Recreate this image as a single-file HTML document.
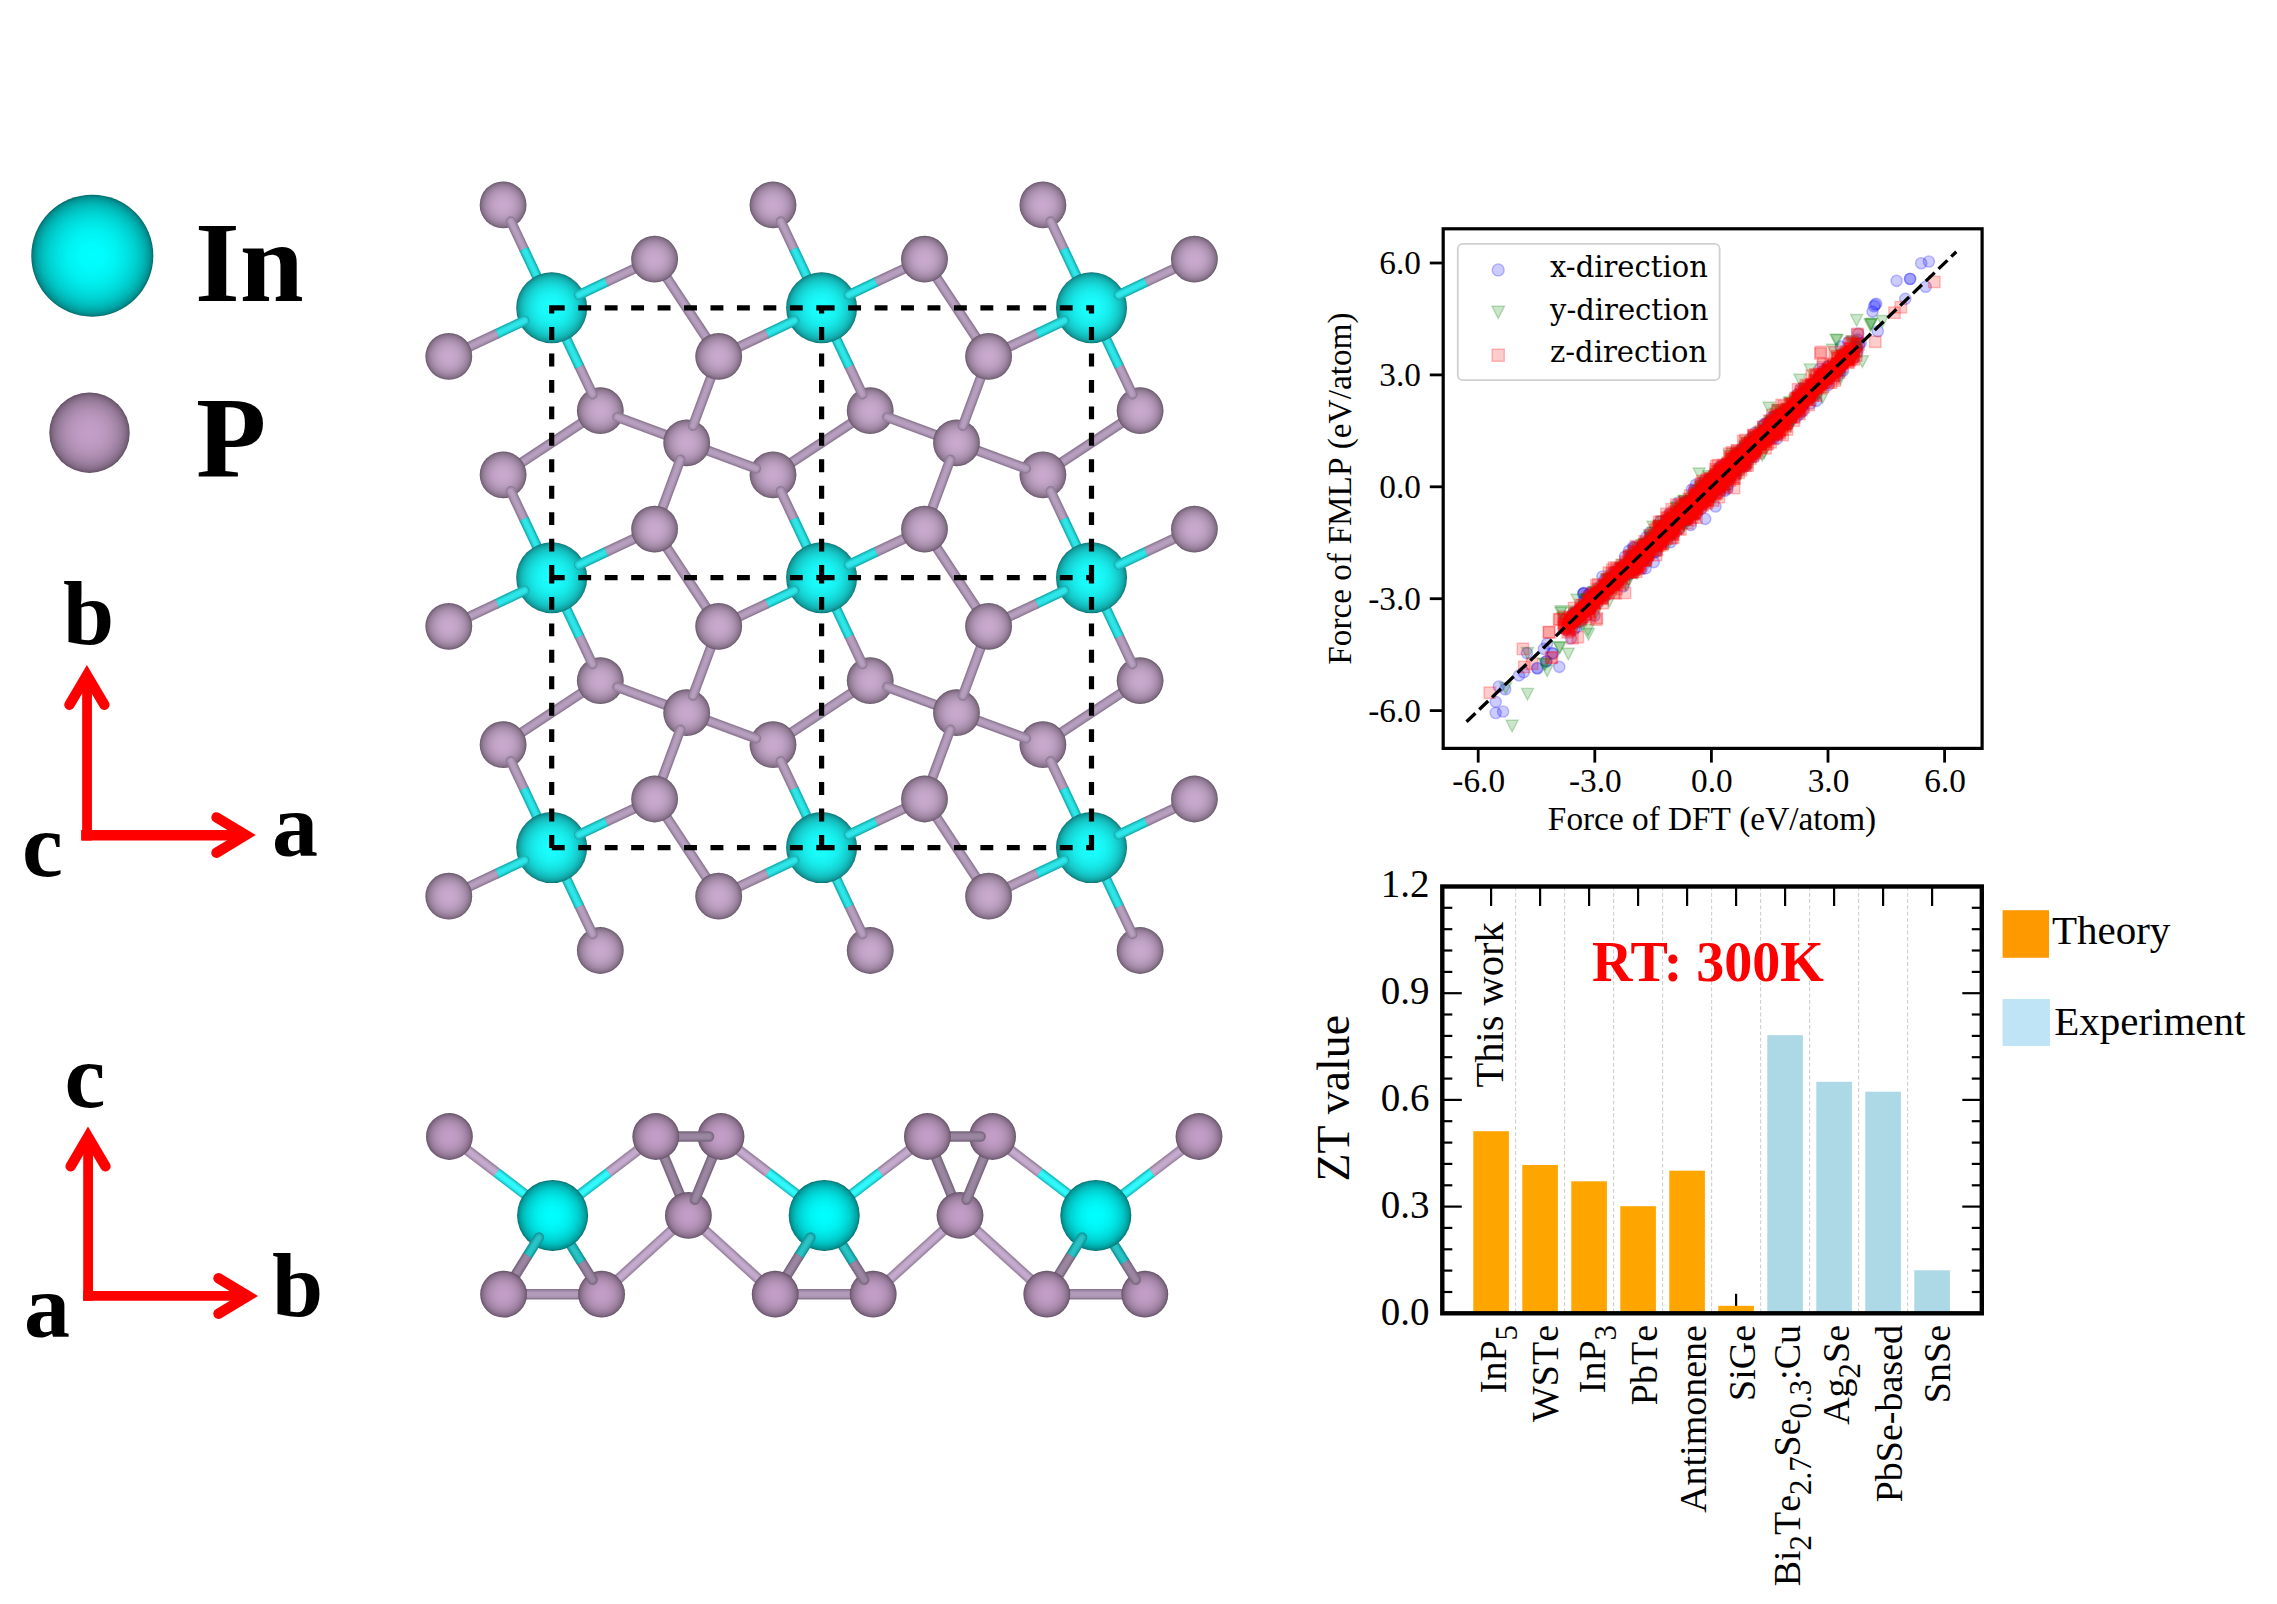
<!DOCTYPE html>
<html lang="en"><head><meta charset="utf-8"><title>InP5 monolayer: structure, force-field validation and ZT comparison</title>
<style>
html,body{margin:0;padding:0;background:#fff;}
body{width:2277px;height:1604px;overflow:hidden;}
svg{display:block;}
.bd{font-family:"Liberation Serif",serif;font-weight:bold;}
.rg{font-family:"Liberation Serif",serif;font-weight:normal;font-kerning:none;}
.dj{font-family:"DejaVu Serif","Liberation Serif",serif;font-weight:normal;}
</style></head><body>
<svg width="2277" height="1604" viewBox="0 0 2277 1604">
<rect width="2277" height="1604" fill="#fff"/>
<defs>
<radialGradient id="gI"><stop offset="0%" stop-color="#00ffff"/><stop offset="20%" stop-color="#00fcfc"/><stop offset="40%" stop-color="#00f2f2"/><stop offset="55%" stop-color="#00e5e5"/><stop offset="70%" stop-color="#00d2d2"/><stop offset="80%" stop-color="#00c0c0"/><stop offset="88%" stop-color="#00acac"/><stop offset="94%" stop-color="#009797"/><stop offset="98%" stop-color="#008080"/><stop offset="100%" stop-color="#006161"/></radialGradient>
<radialGradient id="gP"><stop offset="0%" stop-color="#c39fc7"/><stop offset="20%" stop-color="#c19dc5"/><stop offset="40%" stop-color="#ba97be"/><stop offset="55%" stop-color="#b190b4"/><stop offset="70%" stop-color="#a385a7"/><stop offset="80%" stop-color="#977b9a"/><stop offset="88%" stop-color="#896f8b"/><stop offset="94%" stop-color="#7a637c"/><stop offset="98%" stop-color="#6a566c"/><stop offset="100%" stop-color="#544456"/></radialGradient>
<radialGradient id="gP2"><stop offset="0%" stop-color="#c9aace"/><stop offset="20%" stop-color="#c7a8cc"/><stop offset="40%" stop-color="#bfa2c4"/><stop offset="55%" stop-color="#b69abb"/><stop offset="70%" stop-color="#a88eac"/><stop offset="80%" stop-color="#9b839f"/><stop offset="88%" stop-color="#8d7790"/><stop offset="94%" stop-color="#7e6a81"/><stop offset="98%" stop-color="#6d5c70"/><stop offset="100%" stop-color="#564959"/></radialGradient>
<radialGradient id="gI2"><stop offset="0%" stop-color="#1affff"/><stop offset="20%" stop-color="#1afcfc"/><stop offset="40%" stop-color="#19f2f2"/><stop offset="55%" stop-color="#17e6e6"/><stop offset="70%" stop-color="#16d3d3"/><stop offset="80%" stop-color="#14c2c2"/><stop offset="88%" stop-color="#12afaf"/><stop offset="94%" stop-color="#109a9a"/><stop offset="98%" stop-color="#0e8484"/><stop offset="100%" stop-color="#0a6666"/></radialGradient>
</defs>
<g id="topview">
<line x1="600.3" y1="410.7" x2="503.1" y2="474.8" stroke="#8f7b96" stroke-width="10.1" stroke-linecap="butt"/><line x1="600.3" y1="410.7" x2="503.1" y2="474.8" stroke="#a891af" stroke-width="7.3" stroke-linecap="butt"/><line x1="600.3" y1="410.7" x2="503.1" y2="474.8" stroke="#b69ebe" stroke-width="4.2" stroke-linecap="butt"/>
<line x1="600.3" y1="680.6" x2="503.1" y2="744.7" stroke="#8f7b96" stroke-width="10.1" stroke-linecap="butt"/><line x1="600.3" y1="680.6" x2="503.1" y2="744.7" stroke="#a891af" stroke-width="7.3" stroke-linecap="butt"/><line x1="600.3" y1="680.6" x2="503.1" y2="744.7" stroke="#b69ebe" stroke-width="4.2" stroke-linecap="butt"/>
<line x1="870.2" y1="410.7" x2="773" y2="474.8" stroke="#8f7b96" stroke-width="10.1" stroke-linecap="butt"/><line x1="870.2" y1="410.7" x2="773" y2="474.8" stroke="#a891af" stroke-width="7.3" stroke-linecap="butt"/><line x1="870.2" y1="410.7" x2="773" y2="474.8" stroke="#b69ebe" stroke-width="4.2" stroke-linecap="butt"/>
<line x1="870.2" y1="680.6" x2="773" y2="744.7" stroke="#8f7b96" stroke-width="10.1" stroke-linecap="butt"/><line x1="870.2" y1="680.6" x2="773" y2="744.7" stroke="#a891af" stroke-width="7.3" stroke-linecap="butt"/><line x1="870.2" y1="680.6" x2="773" y2="744.7" stroke="#b69ebe" stroke-width="4.2" stroke-linecap="butt"/>
<line x1="1140.1" y1="410.7" x2="1042.9" y2="474.8" stroke="#8f7b96" stroke-width="10.1" stroke-linecap="butt"/><line x1="1140.1" y1="410.7" x2="1042.9" y2="474.8" stroke="#a891af" stroke-width="7.3" stroke-linecap="butt"/><line x1="1140.1" y1="410.7" x2="1042.9" y2="474.8" stroke="#b69ebe" stroke-width="4.2" stroke-linecap="butt"/>
<line x1="1140.1" y1="680.6" x2="1042.9" y2="744.7" stroke="#8f7b96" stroke-width="10.1" stroke-linecap="butt"/><line x1="1140.1" y1="680.6" x2="1042.9" y2="744.7" stroke="#a891af" stroke-width="7.3" stroke-linecap="butt"/><line x1="1140.1" y1="680.6" x2="1042.9" y2="744.7" stroke="#b69ebe" stroke-width="4.2" stroke-linecap="butt"/>
<circle cx="503.1" cy="204.9" r="23.4" fill="url(#gP2)"/>
<circle cx="600.3" cy="410.7" r="23.4" fill="url(#gP2)"/>
<circle cx="503.1" cy="474.8" r="23.4" fill="url(#gP2)"/>
<circle cx="600.3" cy="680.6" r="23.4" fill="url(#gP2)"/>
<circle cx="503.1" cy="744.7" r="23.4" fill="url(#gP2)"/>
<circle cx="600.3" cy="950.5" r="23.4" fill="url(#gP2)"/>
<circle cx="773" cy="204.9" r="23.4" fill="url(#gP2)"/>
<circle cx="870.2" cy="410.7" r="23.4" fill="url(#gP2)"/>
<circle cx="773" cy="474.8" r="23.4" fill="url(#gP2)"/>
<circle cx="870.2" cy="680.6" r="23.4" fill="url(#gP2)"/>
<circle cx="773" cy="744.7" r="23.4" fill="url(#gP2)"/>
<circle cx="870.2" cy="950.5" r="23.4" fill="url(#gP2)"/>
<circle cx="1042.9" cy="204.9" r="23.4" fill="url(#gP2)"/>
<circle cx="1140.1" cy="410.7" r="23.4" fill="url(#gP2)"/>
<circle cx="1042.9" cy="474.8" r="23.4" fill="url(#gP2)"/>
<circle cx="1140.1" cy="680.6" r="23.4" fill="url(#gP2)"/>
<circle cx="1042.9" cy="744.7" r="23.4" fill="url(#gP2)"/>
<circle cx="1140.1" cy="950.5" r="23.4" fill="url(#gP2)"/>
<line x1="510.8" y1="221.2" x2="524" y2="249.1" stroke="#8f7b96" stroke-width="10.1" stroke-linecap="round"/><line x1="510.8" y1="221.2" x2="524" y2="249.1" stroke="#a891af" stroke-width="7.3" stroke-linecap="round"/><line x1="510.8" y1="221.2" x2="524" y2="249.1" stroke="#b69ebe" stroke-width="4.2" stroke-linecap="round"/><line x1="524" y1="249.1" x2="551.7" y2="307.8" stroke="#19b0b3" stroke-width="10.1" stroke-linecap="butt"/><line x1="524" y1="249.1" x2="551.7" y2="307.8" stroke="#23d3d6" stroke-width="7.3" stroke-linecap="butt"/><line x1="524" y1="249.1" x2="551.7" y2="307.8" stroke="#2ee6e8" stroke-width="4.2" stroke-linecap="butt"/>
<line x1="592.6" y1="394.4" x2="579.4" y2="366.5" stroke="#8f7b96" stroke-width="10.1" stroke-linecap="round"/><line x1="592.6" y1="394.4" x2="579.4" y2="366.5" stroke="#a891af" stroke-width="7.3" stroke-linecap="round"/><line x1="592.6" y1="394.4" x2="579.4" y2="366.5" stroke="#b69ebe" stroke-width="4.2" stroke-linecap="round"/><line x1="579.4" y1="366.5" x2="551.7" y2="307.8" stroke="#19b0b3" stroke-width="10.1" stroke-linecap="butt"/><line x1="579.4" y1="366.5" x2="551.7" y2="307.8" stroke="#23d3d6" stroke-width="7.3" stroke-linecap="butt"/><line x1="579.4" y1="366.5" x2="551.7" y2="307.8" stroke="#2ee6e8" stroke-width="4.2" stroke-linecap="butt"/>
<line x1="510.8" y1="491.1" x2="524" y2="519" stroke="#8f7b96" stroke-width="10.1" stroke-linecap="round"/><line x1="510.8" y1="491.1" x2="524" y2="519" stroke="#a891af" stroke-width="7.3" stroke-linecap="round"/><line x1="510.8" y1="491.1" x2="524" y2="519" stroke="#b69ebe" stroke-width="4.2" stroke-linecap="round"/><line x1="524" y1="519" x2="551.7" y2="577.7" stroke="#19b0b3" stroke-width="10.1" stroke-linecap="butt"/><line x1="524" y1="519" x2="551.7" y2="577.7" stroke="#23d3d6" stroke-width="7.3" stroke-linecap="butt"/><line x1="524" y1="519" x2="551.7" y2="577.7" stroke="#2ee6e8" stroke-width="4.2" stroke-linecap="butt"/>
<line x1="592.6" y1="664.3" x2="579.4" y2="636.4" stroke="#8f7b96" stroke-width="10.1" stroke-linecap="round"/><line x1="592.6" y1="664.3" x2="579.4" y2="636.4" stroke="#a891af" stroke-width="7.3" stroke-linecap="round"/><line x1="592.6" y1="664.3" x2="579.4" y2="636.4" stroke="#b69ebe" stroke-width="4.2" stroke-linecap="round"/><line x1="579.4" y1="636.4" x2="551.7" y2="577.7" stroke="#19b0b3" stroke-width="10.1" stroke-linecap="butt"/><line x1="579.4" y1="636.4" x2="551.7" y2="577.7" stroke="#23d3d6" stroke-width="7.3" stroke-linecap="butt"/><line x1="579.4" y1="636.4" x2="551.7" y2="577.7" stroke="#2ee6e8" stroke-width="4.2" stroke-linecap="butt"/>
<line x1="510.8" y1="761" x2="524" y2="788.9" stroke="#8f7b96" stroke-width="10.1" stroke-linecap="round"/><line x1="510.8" y1="761" x2="524" y2="788.9" stroke="#a891af" stroke-width="7.3" stroke-linecap="round"/><line x1="510.8" y1="761" x2="524" y2="788.9" stroke="#b69ebe" stroke-width="4.2" stroke-linecap="round"/><line x1="524" y1="788.9" x2="551.7" y2="847.6" stroke="#19b0b3" stroke-width="10.1" stroke-linecap="butt"/><line x1="524" y1="788.9" x2="551.7" y2="847.6" stroke="#23d3d6" stroke-width="7.3" stroke-linecap="butt"/><line x1="524" y1="788.9" x2="551.7" y2="847.6" stroke="#2ee6e8" stroke-width="4.2" stroke-linecap="butt"/>
<line x1="592.6" y1="934.2" x2="579.4" y2="906.3" stroke="#8f7b96" stroke-width="10.1" stroke-linecap="round"/><line x1="592.6" y1="934.2" x2="579.4" y2="906.3" stroke="#a891af" stroke-width="7.3" stroke-linecap="round"/><line x1="592.6" y1="934.2" x2="579.4" y2="906.3" stroke="#b69ebe" stroke-width="4.2" stroke-linecap="round"/><line x1="579.4" y1="906.3" x2="551.7" y2="847.6" stroke="#19b0b3" stroke-width="10.1" stroke-linecap="butt"/><line x1="579.4" y1="906.3" x2="551.7" y2="847.6" stroke="#23d3d6" stroke-width="7.3" stroke-linecap="butt"/><line x1="579.4" y1="906.3" x2="551.7" y2="847.6" stroke="#2ee6e8" stroke-width="4.2" stroke-linecap="butt"/>
<line x1="780.7" y1="221.2" x2="793.9" y2="249.1" stroke="#8f7b96" stroke-width="10.1" stroke-linecap="round"/><line x1="780.7" y1="221.2" x2="793.9" y2="249.1" stroke="#a891af" stroke-width="7.3" stroke-linecap="round"/><line x1="780.7" y1="221.2" x2="793.9" y2="249.1" stroke="#b69ebe" stroke-width="4.2" stroke-linecap="round"/><line x1="793.9" y1="249.1" x2="821.6" y2="307.8" stroke="#19b0b3" stroke-width="10.1" stroke-linecap="butt"/><line x1="793.9" y1="249.1" x2="821.6" y2="307.8" stroke="#23d3d6" stroke-width="7.3" stroke-linecap="butt"/><line x1="793.9" y1="249.1" x2="821.6" y2="307.8" stroke="#2ee6e8" stroke-width="4.2" stroke-linecap="butt"/>
<line x1="862.5" y1="394.4" x2="849.3" y2="366.5" stroke="#8f7b96" stroke-width="10.1" stroke-linecap="round"/><line x1="862.5" y1="394.4" x2="849.3" y2="366.5" stroke="#a891af" stroke-width="7.3" stroke-linecap="round"/><line x1="862.5" y1="394.4" x2="849.3" y2="366.5" stroke="#b69ebe" stroke-width="4.2" stroke-linecap="round"/><line x1="849.3" y1="366.5" x2="821.6" y2="307.8" stroke="#19b0b3" stroke-width="10.1" stroke-linecap="butt"/><line x1="849.3" y1="366.5" x2="821.6" y2="307.8" stroke="#23d3d6" stroke-width="7.3" stroke-linecap="butt"/><line x1="849.3" y1="366.5" x2="821.6" y2="307.8" stroke="#2ee6e8" stroke-width="4.2" stroke-linecap="butt"/>
<line x1="780.7" y1="491.1" x2="793.9" y2="519" stroke="#8f7b96" stroke-width="10.1" stroke-linecap="round"/><line x1="780.7" y1="491.1" x2="793.9" y2="519" stroke="#a891af" stroke-width="7.3" stroke-linecap="round"/><line x1="780.7" y1="491.1" x2="793.9" y2="519" stroke="#b69ebe" stroke-width="4.2" stroke-linecap="round"/><line x1="793.9" y1="519" x2="821.6" y2="577.7" stroke="#19b0b3" stroke-width="10.1" stroke-linecap="butt"/><line x1="793.9" y1="519" x2="821.6" y2="577.7" stroke="#23d3d6" stroke-width="7.3" stroke-linecap="butt"/><line x1="793.9" y1="519" x2="821.6" y2="577.7" stroke="#2ee6e8" stroke-width="4.2" stroke-linecap="butt"/>
<line x1="862.5" y1="664.3" x2="849.3" y2="636.4" stroke="#8f7b96" stroke-width="10.1" stroke-linecap="round"/><line x1="862.5" y1="664.3" x2="849.3" y2="636.4" stroke="#a891af" stroke-width="7.3" stroke-linecap="round"/><line x1="862.5" y1="664.3" x2="849.3" y2="636.4" stroke="#b69ebe" stroke-width="4.2" stroke-linecap="round"/><line x1="849.3" y1="636.4" x2="821.6" y2="577.7" stroke="#19b0b3" stroke-width="10.1" stroke-linecap="butt"/><line x1="849.3" y1="636.4" x2="821.6" y2="577.7" stroke="#23d3d6" stroke-width="7.3" stroke-linecap="butt"/><line x1="849.3" y1="636.4" x2="821.6" y2="577.7" stroke="#2ee6e8" stroke-width="4.2" stroke-linecap="butt"/>
<line x1="780.7" y1="761" x2="793.9" y2="788.9" stroke="#8f7b96" stroke-width="10.1" stroke-linecap="round"/><line x1="780.7" y1="761" x2="793.9" y2="788.9" stroke="#a891af" stroke-width="7.3" stroke-linecap="round"/><line x1="780.7" y1="761" x2="793.9" y2="788.9" stroke="#b69ebe" stroke-width="4.2" stroke-linecap="round"/><line x1="793.9" y1="788.9" x2="821.6" y2="847.6" stroke="#19b0b3" stroke-width="10.1" stroke-linecap="butt"/><line x1="793.9" y1="788.9" x2="821.6" y2="847.6" stroke="#23d3d6" stroke-width="7.3" stroke-linecap="butt"/><line x1="793.9" y1="788.9" x2="821.6" y2="847.6" stroke="#2ee6e8" stroke-width="4.2" stroke-linecap="butt"/>
<line x1="862.5" y1="934.2" x2="849.3" y2="906.3" stroke="#8f7b96" stroke-width="10.1" stroke-linecap="round"/><line x1="862.5" y1="934.2" x2="849.3" y2="906.3" stroke="#a891af" stroke-width="7.3" stroke-linecap="round"/><line x1="862.5" y1="934.2" x2="849.3" y2="906.3" stroke="#b69ebe" stroke-width="4.2" stroke-linecap="round"/><line x1="849.3" y1="906.3" x2="821.6" y2="847.6" stroke="#19b0b3" stroke-width="10.1" stroke-linecap="butt"/><line x1="849.3" y1="906.3" x2="821.6" y2="847.6" stroke="#23d3d6" stroke-width="7.3" stroke-linecap="butt"/><line x1="849.3" y1="906.3" x2="821.6" y2="847.6" stroke="#2ee6e8" stroke-width="4.2" stroke-linecap="butt"/>
<line x1="1050.6" y1="221.2" x2="1063.8" y2="249.1" stroke="#8f7b96" stroke-width="10.1" stroke-linecap="round"/><line x1="1050.6" y1="221.2" x2="1063.8" y2="249.1" stroke="#a891af" stroke-width="7.3" stroke-linecap="round"/><line x1="1050.6" y1="221.2" x2="1063.8" y2="249.1" stroke="#b69ebe" stroke-width="4.2" stroke-linecap="round"/><line x1="1063.8" y1="249.1" x2="1091.5" y2="307.8" stroke="#19b0b3" stroke-width="10.1" stroke-linecap="butt"/><line x1="1063.8" y1="249.1" x2="1091.5" y2="307.8" stroke="#23d3d6" stroke-width="7.3" stroke-linecap="butt"/><line x1="1063.8" y1="249.1" x2="1091.5" y2="307.8" stroke="#2ee6e8" stroke-width="4.2" stroke-linecap="butt"/>
<line x1="1132.4" y1="394.4" x2="1119.2" y2="366.5" stroke="#8f7b96" stroke-width="10.1" stroke-linecap="round"/><line x1="1132.4" y1="394.4" x2="1119.2" y2="366.5" stroke="#a891af" stroke-width="7.3" stroke-linecap="round"/><line x1="1132.4" y1="394.4" x2="1119.2" y2="366.5" stroke="#b69ebe" stroke-width="4.2" stroke-linecap="round"/><line x1="1119.2" y1="366.5" x2="1091.5" y2="307.8" stroke="#19b0b3" stroke-width="10.1" stroke-linecap="butt"/><line x1="1119.2" y1="366.5" x2="1091.5" y2="307.8" stroke="#23d3d6" stroke-width="7.3" stroke-linecap="butt"/><line x1="1119.2" y1="366.5" x2="1091.5" y2="307.8" stroke="#2ee6e8" stroke-width="4.2" stroke-linecap="butt"/>
<line x1="1050.6" y1="491.1" x2="1063.8" y2="519" stroke="#8f7b96" stroke-width="10.1" stroke-linecap="round"/><line x1="1050.6" y1="491.1" x2="1063.8" y2="519" stroke="#a891af" stroke-width="7.3" stroke-linecap="round"/><line x1="1050.6" y1="491.1" x2="1063.8" y2="519" stroke="#b69ebe" stroke-width="4.2" stroke-linecap="round"/><line x1="1063.8" y1="519" x2="1091.5" y2="577.7" stroke="#19b0b3" stroke-width="10.1" stroke-linecap="butt"/><line x1="1063.8" y1="519" x2="1091.5" y2="577.7" stroke="#23d3d6" stroke-width="7.3" stroke-linecap="butt"/><line x1="1063.8" y1="519" x2="1091.5" y2="577.7" stroke="#2ee6e8" stroke-width="4.2" stroke-linecap="butt"/>
<line x1="1132.4" y1="664.3" x2="1119.2" y2="636.4" stroke="#8f7b96" stroke-width="10.1" stroke-linecap="round"/><line x1="1132.4" y1="664.3" x2="1119.2" y2="636.4" stroke="#a891af" stroke-width="7.3" stroke-linecap="round"/><line x1="1132.4" y1="664.3" x2="1119.2" y2="636.4" stroke="#b69ebe" stroke-width="4.2" stroke-linecap="round"/><line x1="1119.2" y1="636.4" x2="1091.5" y2="577.7" stroke="#19b0b3" stroke-width="10.1" stroke-linecap="butt"/><line x1="1119.2" y1="636.4" x2="1091.5" y2="577.7" stroke="#23d3d6" stroke-width="7.3" stroke-linecap="butt"/><line x1="1119.2" y1="636.4" x2="1091.5" y2="577.7" stroke="#2ee6e8" stroke-width="4.2" stroke-linecap="butt"/>
<line x1="1050.6" y1="761" x2="1063.8" y2="788.9" stroke="#8f7b96" stroke-width="10.1" stroke-linecap="round"/><line x1="1050.6" y1="761" x2="1063.8" y2="788.9" stroke="#a891af" stroke-width="7.3" stroke-linecap="round"/><line x1="1050.6" y1="761" x2="1063.8" y2="788.9" stroke="#b69ebe" stroke-width="4.2" stroke-linecap="round"/><line x1="1063.8" y1="788.9" x2="1091.5" y2="847.6" stroke="#19b0b3" stroke-width="10.1" stroke-linecap="butt"/><line x1="1063.8" y1="788.9" x2="1091.5" y2="847.6" stroke="#23d3d6" stroke-width="7.3" stroke-linecap="butt"/><line x1="1063.8" y1="788.9" x2="1091.5" y2="847.6" stroke="#2ee6e8" stroke-width="4.2" stroke-linecap="butt"/>
<line x1="1132.4" y1="934.2" x2="1119.2" y2="906.3" stroke="#8f7b96" stroke-width="10.1" stroke-linecap="round"/><line x1="1132.4" y1="934.2" x2="1119.2" y2="906.3" stroke="#a891af" stroke-width="7.3" stroke-linecap="round"/><line x1="1132.4" y1="934.2" x2="1119.2" y2="906.3" stroke="#b69ebe" stroke-width="4.2" stroke-linecap="round"/><line x1="1119.2" y1="906.3" x2="1091.5" y2="847.6" stroke="#19b0b3" stroke-width="10.1" stroke-linecap="butt"/><line x1="1119.2" y1="906.3" x2="1091.5" y2="847.6" stroke="#23d3d6" stroke-width="7.3" stroke-linecap="butt"/><line x1="1119.2" y1="906.3" x2="1091.5" y2="847.6" stroke="#2ee6e8" stroke-width="4.2" stroke-linecap="butt"/>
<line x1="617.2" y1="417" x2="686.7" y2="442.8" stroke="#8f7b96" stroke-width="10.1" stroke-linecap="round"/><line x1="617.2" y1="417" x2="686.7" y2="442.8" stroke="#a891af" stroke-width="7.3" stroke-linecap="round"/><line x1="617.2" y1="417" x2="686.7" y2="442.8" stroke="#b69ebe" stroke-width="4.2" stroke-linecap="round"/>
<line x1="756.1" y1="468.5" x2="686.7" y2="442.8" stroke="#8f7b96" stroke-width="10.1" stroke-linecap="round"/><line x1="756.1" y1="468.5" x2="686.7" y2="442.8" stroke="#a891af" stroke-width="7.3" stroke-linecap="round"/><line x1="756.1" y1="468.5" x2="686.7" y2="442.8" stroke="#b69ebe" stroke-width="4.2" stroke-linecap="round"/>
<line x1="617.2" y1="686.9" x2="686.7" y2="712.7" stroke="#8f7b96" stroke-width="10.1" stroke-linecap="round"/><line x1="617.2" y1="686.9" x2="686.7" y2="712.7" stroke="#a891af" stroke-width="7.3" stroke-linecap="round"/><line x1="617.2" y1="686.9" x2="686.7" y2="712.7" stroke="#b69ebe" stroke-width="4.2" stroke-linecap="round"/>
<line x1="756.1" y1="738.4" x2="686.7" y2="712.7" stroke="#8f7b96" stroke-width="10.1" stroke-linecap="round"/><line x1="756.1" y1="738.4" x2="686.7" y2="712.7" stroke="#a891af" stroke-width="7.3" stroke-linecap="round"/><line x1="756.1" y1="738.4" x2="686.7" y2="712.7" stroke="#b69ebe" stroke-width="4.2" stroke-linecap="round"/>
<line x1="887.1" y1="417" x2="956.5" y2="442.8" stroke="#8f7b96" stroke-width="10.1" stroke-linecap="round"/><line x1="887.1" y1="417" x2="956.5" y2="442.8" stroke="#a891af" stroke-width="7.3" stroke-linecap="round"/><line x1="887.1" y1="417" x2="956.5" y2="442.8" stroke="#b69ebe" stroke-width="4.2" stroke-linecap="round"/>
<line x1="1026" y1="468.5" x2="956.5" y2="442.8" stroke="#8f7b96" stroke-width="10.1" stroke-linecap="round"/><line x1="1026" y1="468.5" x2="956.5" y2="442.8" stroke="#a891af" stroke-width="7.3" stroke-linecap="round"/><line x1="1026" y1="468.5" x2="956.5" y2="442.8" stroke="#b69ebe" stroke-width="4.2" stroke-linecap="round"/>
<line x1="887.1" y1="686.9" x2="956.5" y2="712.7" stroke="#8f7b96" stroke-width="10.1" stroke-linecap="round"/><line x1="887.1" y1="686.9" x2="956.5" y2="712.7" stroke="#a891af" stroke-width="7.3" stroke-linecap="round"/><line x1="887.1" y1="686.9" x2="956.5" y2="712.7" stroke="#b69ebe" stroke-width="4.2" stroke-linecap="round"/>
<line x1="1026" y1="738.4" x2="956.5" y2="712.7" stroke="#8f7b96" stroke-width="10.1" stroke-linecap="round"/><line x1="1026" y1="738.4" x2="956.5" y2="712.7" stroke="#a891af" stroke-width="7.3" stroke-linecap="round"/><line x1="1026" y1="738.4" x2="956.5" y2="712.7" stroke="#b69ebe" stroke-width="4.2" stroke-linecap="round"/>
<circle cx="551.7" cy="307.8" r="35.5" fill="url(#gI2)"/>
<circle cx="551.7" cy="577.7" r="35.5" fill="url(#gI2)"/>
<circle cx="551.7" cy="847.6" r="35.5" fill="url(#gI2)"/>
<circle cx="821.6" cy="307.8" r="35.5" fill="url(#gI2)"/>
<circle cx="821.6" cy="577.7" r="35.5" fill="url(#gI2)"/>
<circle cx="821.6" cy="847.6" r="35.5" fill="url(#gI2)"/>
<circle cx="1091.5" cy="307.8" r="35.5" fill="url(#gI2)"/>
<circle cx="1091.5" cy="577.7" r="35.5" fill="url(#gI2)"/>
<circle cx="1091.5" cy="847.6" r="35.5" fill="url(#gI2)"/>
<circle cx="686.7" cy="442.8" r="23.4" fill="url(#gP2)"/>
<circle cx="686.7" cy="712.7" r="23.4" fill="url(#gP2)"/>
<circle cx="956.5" cy="442.8" r="23.4" fill="url(#gP2)"/>
<circle cx="956.5" cy="712.7" r="23.4" fill="url(#gP2)"/>
<line x1="578.8" y1="295" x2="606.2" y2="282" stroke="#19b0b3" stroke-width="10.1" stroke-linecap="round"/><line x1="578.8" y1="295" x2="606.2" y2="282" stroke="#23d3d6" stroke-width="7.3" stroke-linecap="round"/><line x1="578.8" y1="295" x2="606.2" y2="282" stroke="#2ee6e8" stroke-width="4.2" stroke-linecap="round"/><line x1="606.2" y1="282" x2="654.6" y2="259.2" stroke="#8f7b96" stroke-width="10.1" stroke-linecap="butt"/><line x1="606.2" y1="282" x2="654.6" y2="259.2" stroke="#a891af" stroke-width="7.3" stroke-linecap="butt"/><line x1="606.2" y1="282" x2="654.6" y2="259.2" stroke="#b69ebe" stroke-width="4.2" stroke-linecap="butt"/>
<line x1="524.6" y1="320.6" x2="497.2" y2="333.6" stroke="#19b0b3" stroke-width="10.1" stroke-linecap="round"/><line x1="524.6" y1="320.6" x2="497.2" y2="333.6" stroke="#23d3d6" stroke-width="7.3" stroke-linecap="round"/><line x1="524.6" y1="320.6" x2="497.2" y2="333.6" stroke="#2ee6e8" stroke-width="4.2" stroke-linecap="round"/><line x1="497.2" y1="333.6" x2="448.8" y2="356.4" stroke="#8f7b96" stroke-width="10.1" stroke-linecap="butt"/><line x1="497.2" y1="333.6" x2="448.8" y2="356.4" stroke="#a891af" stroke-width="7.3" stroke-linecap="butt"/><line x1="497.2" y1="333.6" x2="448.8" y2="356.4" stroke="#b69ebe" stroke-width="4.2" stroke-linecap="butt"/>
<line x1="578.8" y1="564.9" x2="606.2" y2="551.9" stroke="#19b0b3" stroke-width="10.1" stroke-linecap="round"/><line x1="578.8" y1="564.9" x2="606.2" y2="551.9" stroke="#23d3d6" stroke-width="7.3" stroke-linecap="round"/><line x1="578.8" y1="564.9" x2="606.2" y2="551.9" stroke="#2ee6e8" stroke-width="4.2" stroke-linecap="round"/><line x1="606.2" y1="551.9" x2="654.6" y2="529.1" stroke="#8f7b96" stroke-width="10.1" stroke-linecap="butt"/><line x1="606.2" y1="551.9" x2="654.6" y2="529.1" stroke="#a891af" stroke-width="7.3" stroke-linecap="butt"/><line x1="606.2" y1="551.9" x2="654.6" y2="529.1" stroke="#b69ebe" stroke-width="4.2" stroke-linecap="butt"/>
<line x1="524.6" y1="590.5" x2="497.2" y2="603.5" stroke="#19b0b3" stroke-width="10.1" stroke-linecap="round"/><line x1="524.6" y1="590.5" x2="497.2" y2="603.5" stroke="#23d3d6" stroke-width="7.3" stroke-linecap="round"/><line x1="524.6" y1="590.5" x2="497.2" y2="603.5" stroke="#2ee6e8" stroke-width="4.2" stroke-linecap="round"/><line x1="497.2" y1="603.5" x2="448.8" y2="626.3" stroke="#8f7b96" stroke-width="10.1" stroke-linecap="butt"/><line x1="497.2" y1="603.5" x2="448.8" y2="626.3" stroke="#a891af" stroke-width="7.3" stroke-linecap="butt"/><line x1="497.2" y1="603.5" x2="448.8" y2="626.3" stroke="#b69ebe" stroke-width="4.2" stroke-linecap="butt"/>
<line x1="578.8" y1="834.8" x2="606.2" y2="821.8" stroke="#19b0b3" stroke-width="10.1" stroke-linecap="round"/><line x1="578.8" y1="834.8" x2="606.2" y2="821.8" stroke="#23d3d6" stroke-width="7.3" stroke-linecap="round"/><line x1="578.8" y1="834.8" x2="606.2" y2="821.8" stroke="#2ee6e8" stroke-width="4.2" stroke-linecap="round"/><line x1="606.2" y1="821.8" x2="654.6" y2="799" stroke="#8f7b96" stroke-width="10.1" stroke-linecap="butt"/><line x1="606.2" y1="821.8" x2="654.6" y2="799" stroke="#a891af" stroke-width="7.3" stroke-linecap="butt"/><line x1="606.2" y1="821.8" x2="654.6" y2="799" stroke="#b69ebe" stroke-width="4.2" stroke-linecap="butt"/>
<line x1="524.6" y1="860.4" x2="497.2" y2="873.4" stroke="#19b0b3" stroke-width="10.1" stroke-linecap="round"/><line x1="524.6" y1="860.4" x2="497.2" y2="873.4" stroke="#23d3d6" stroke-width="7.3" stroke-linecap="round"/><line x1="524.6" y1="860.4" x2="497.2" y2="873.4" stroke="#2ee6e8" stroke-width="4.2" stroke-linecap="round"/><line x1="497.2" y1="873.4" x2="448.8" y2="896.2" stroke="#8f7b96" stroke-width="10.1" stroke-linecap="butt"/><line x1="497.2" y1="873.4" x2="448.8" y2="896.2" stroke="#a891af" stroke-width="7.3" stroke-linecap="butt"/><line x1="497.2" y1="873.4" x2="448.8" y2="896.2" stroke="#b69ebe" stroke-width="4.2" stroke-linecap="butt"/>
<line x1="848.7" y1="295" x2="876.1" y2="282" stroke="#19b0b3" stroke-width="10.1" stroke-linecap="round"/><line x1="848.7" y1="295" x2="876.1" y2="282" stroke="#23d3d6" stroke-width="7.3" stroke-linecap="round"/><line x1="848.7" y1="295" x2="876.1" y2="282" stroke="#2ee6e8" stroke-width="4.2" stroke-linecap="round"/><line x1="876.1" y1="282" x2="924.5" y2="259.2" stroke="#8f7b96" stroke-width="10.1" stroke-linecap="butt"/><line x1="876.1" y1="282" x2="924.5" y2="259.2" stroke="#a891af" stroke-width="7.3" stroke-linecap="butt"/><line x1="876.1" y1="282" x2="924.5" y2="259.2" stroke="#b69ebe" stroke-width="4.2" stroke-linecap="butt"/>
<line x1="794.5" y1="320.6" x2="767.1" y2="333.6" stroke="#19b0b3" stroke-width="10.1" stroke-linecap="round"/><line x1="794.5" y1="320.6" x2="767.1" y2="333.6" stroke="#23d3d6" stroke-width="7.3" stroke-linecap="round"/><line x1="794.5" y1="320.6" x2="767.1" y2="333.6" stroke="#2ee6e8" stroke-width="4.2" stroke-linecap="round"/><line x1="767.1" y1="333.6" x2="718.7" y2="356.4" stroke="#8f7b96" stroke-width="10.1" stroke-linecap="butt"/><line x1="767.1" y1="333.6" x2="718.7" y2="356.4" stroke="#a891af" stroke-width="7.3" stroke-linecap="butt"/><line x1="767.1" y1="333.6" x2="718.7" y2="356.4" stroke="#b69ebe" stroke-width="4.2" stroke-linecap="butt"/>
<line x1="848.7" y1="564.9" x2="876.1" y2="551.9" stroke="#19b0b3" stroke-width="10.1" stroke-linecap="round"/><line x1="848.7" y1="564.9" x2="876.1" y2="551.9" stroke="#23d3d6" stroke-width="7.3" stroke-linecap="round"/><line x1="848.7" y1="564.9" x2="876.1" y2="551.9" stroke="#2ee6e8" stroke-width="4.2" stroke-linecap="round"/><line x1="876.1" y1="551.9" x2="924.5" y2="529.1" stroke="#8f7b96" stroke-width="10.1" stroke-linecap="butt"/><line x1="876.1" y1="551.9" x2="924.5" y2="529.1" stroke="#a891af" stroke-width="7.3" stroke-linecap="butt"/><line x1="876.1" y1="551.9" x2="924.5" y2="529.1" stroke="#b69ebe" stroke-width="4.2" stroke-linecap="butt"/>
<line x1="794.5" y1="590.5" x2="767.1" y2="603.5" stroke="#19b0b3" stroke-width="10.1" stroke-linecap="round"/><line x1="794.5" y1="590.5" x2="767.1" y2="603.5" stroke="#23d3d6" stroke-width="7.3" stroke-linecap="round"/><line x1="794.5" y1="590.5" x2="767.1" y2="603.5" stroke="#2ee6e8" stroke-width="4.2" stroke-linecap="round"/><line x1="767.1" y1="603.5" x2="718.7" y2="626.3" stroke="#8f7b96" stroke-width="10.1" stroke-linecap="butt"/><line x1="767.1" y1="603.5" x2="718.7" y2="626.3" stroke="#a891af" stroke-width="7.3" stroke-linecap="butt"/><line x1="767.1" y1="603.5" x2="718.7" y2="626.3" stroke="#b69ebe" stroke-width="4.2" stroke-linecap="butt"/>
<line x1="848.7" y1="834.8" x2="876.1" y2="821.8" stroke="#19b0b3" stroke-width="10.1" stroke-linecap="round"/><line x1="848.7" y1="834.8" x2="876.1" y2="821.8" stroke="#23d3d6" stroke-width="7.3" stroke-linecap="round"/><line x1="848.7" y1="834.8" x2="876.1" y2="821.8" stroke="#2ee6e8" stroke-width="4.2" stroke-linecap="round"/><line x1="876.1" y1="821.8" x2="924.5" y2="799" stroke="#8f7b96" stroke-width="10.1" stroke-linecap="butt"/><line x1="876.1" y1="821.8" x2="924.5" y2="799" stroke="#a891af" stroke-width="7.3" stroke-linecap="butt"/><line x1="876.1" y1="821.8" x2="924.5" y2="799" stroke="#b69ebe" stroke-width="4.2" stroke-linecap="butt"/>
<line x1="794.5" y1="860.4" x2="767.1" y2="873.4" stroke="#19b0b3" stroke-width="10.1" stroke-linecap="round"/><line x1="794.5" y1="860.4" x2="767.1" y2="873.4" stroke="#23d3d6" stroke-width="7.3" stroke-linecap="round"/><line x1="794.5" y1="860.4" x2="767.1" y2="873.4" stroke="#2ee6e8" stroke-width="4.2" stroke-linecap="round"/><line x1="767.1" y1="873.4" x2="718.7" y2="896.2" stroke="#8f7b96" stroke-width="10.1" stroke-linecap="butt"/><line x1="767.1" y1="873.4" x2="718.7" y2="896.2" stroke="#a891af" stroke-width="7.3" stroke-linecap="butt"/><line x1="767.1" y1="873.4" x2="718.7" y2="896.2" stroke="#b69ebe" stroke-width="4.2" stroke-linecap="butt"/>
<line x1="1118.6" y1="295" x2="1146" y2="282" stroke="#19b0b3" stroke-width="10.1" stroke-linecap="round"/><line x1="1118.6" y1="295" x2="1146" y2="282" stroke="#23d3d6" stroke-width="7.3" stroke-linecap="round"/><line x1="1118.6" y1="295" x2="1146" y2="282" stroke="#2ee6e8" stroke-width="4.2" stroke-linecap="round"/><line x1="1146" y1="282" x2="1194.4" y2="259.2" stroke="#8f7b96" stroke-width="10.1" stroke-linecap="butt"/><line x1="1146" y1="282" x2="1194.4" y2="259.2" stroke="#a891af" stroke-width="7.3" stroke-linecap="butt"/><line x1="1146" y1="282" x2="1194.4" y2="259.2" stroke="#b69ebe" stroke-width="4.2" stroke-linecap="butt"/>
<line x1="1064.4" y1="320.6" x2="1037" y2="333.6" stroke="#19b0b3" stroke-width="10.1" stroke-linecap="round"/><line x1="1064.4" y1="320.6" x2="1037" y2="333.6" stroke="#23d3d6" stroke-width="7.3" stroke-linecap="round"/><line x1="1064.4" y1="320.6" x2="1037" y2="333.6" stroke="#2ee6e8" stroke-width="4.2" stroke-linecap="round"/><line x1="1037" y1="333.6" x2="988.6" y2="356.4" stroke="#8f7b96" stroke-width="10.1" stroke-linecap="butt"/><line x1="1037" y1="333.6" x2="988.6" y2="356.4" stroke="#a891af" stroke-width="7.3" stroke-linecap="butt"/><line x1="1037" y1="333.6" x2="988.6" y2="356.4" stroke="#b69ebe" stroke-width="4.2" stroke-linecap="butt"/>
<line x1="1118.6" y1="564.9" x2="1146" y2="551.9" stroke="#19b0b3" stroke-width="10.1" stroke-linecap="round"/><line x1="1118.6" y1="564.9" x2="1146" y2="551.9" stroke="#23d3d6" stroke-width="7.3" stroke-linecap="round"/><line x1="1118.6" y1="564.9" x2="1146" y2="551.9" stroke="#2ee6e8" stroke-width="4.2" stroke-linecap="round"/><line x1="1146" y1="551.9" x2="1194.4" y2="529.1" stroke="#8f7b96" stroke-width="10.1" stroke-linecap="butt"/><line x1="1146" y1="551.9" x2="1194.4" y2="529.1" stroke="#a891af" stroke-width="7.3" stroke-linecap="butt"/><line x1="1146" y1="551.9" x2="1194.4" y2="529.1" stroke="#b69ebe" stroke-width="4.2" stroke-linecap="butt"/>
<line x1="1064.4" y1="590.5" x2="1037" y2="603.5" stroke="#19b0b3" stroke-width="10.1" stroke-linecap="round"/><line x1="1064.4" y1="590.5" x2="1037" y2="603.5" stroke="#23d3d6" stroke-width="7.3" stroke-linecap="round"/><line x1="1064.4" y1="590.5" x2="1037" y2="603.5" stroke="#2ee6e8" stroke-width="4.2" stroke-linecap="round"/><line x1="1037" y1="603.5" x2="988.6" y2="626.3" stroke="#8f7b96" stroke-width="10.1" stroke-linecap="butt"/><line x1="1037" y1="603.5" x2="988.6" y2="626.3" stroke="#a891af" stroke-width="7.3" stroke-linecap="butt"/><line x1="1037" y1="603.5" x2="988.6" y2="626.3" stroke="#b69ebe" stroke-width="4.2" stroke-linecap="butt"/>
<line x1="1118.6" y1="834.8" x2="1146" y2="821.8" stroke="#19b0b3" stroke-width="10.1" stroke-linecap="round"/><line x1="1118.6" y1="834.8" x2="1146" y2="821.8" stroke="#23d3d6" stroke-width="7.3" stroke-linecap="round"/><line x1="1118.6" y1="834.8" x2="1146" y2="821.8" stroke="#2ee6e8" stroke-width="4.2" stroke-linecap="round"/><line x1="1146" y1="821.8" x2="1194.4" y2="799" stroke="#8f7b96" stroke-width="10.1" stroke-linecap="butt"/><line x1="1146" y1="821.8" x2="1194.4" y2="799" stroke="#a891af" stroke-width="7.3" stroke-linecap="butt"/><line x1="1146" y1="821.8" x2="1194.4" y2="799" stroke="#b69ebe" stroke-width="4.2" stroke-linecap="butt"/>
<line x1="1064.4" y1="860.4" x2="1037" y2="873.4" stroke="#19b0b3" stroke-width="10.1" stroke-linecap="round"/><line x1="1064.4" y1="860.4" x2="1037" y2="873.4" stroke="#23d3d6" stroke-width="7.3" stroke-linecap="round"/><line x1="1064.4" y1="860.4" x2="1037" y2="873.4" stroke="#2ee6e8" stroke-width="4.2" stroke-linecap="round"/><line x1="1037" y1="873.4" x2="988.6" y2="896.2" stroke="#8f7b96" stroke-width="10.1" stroke-linecap="butt"/><line x1="1037" y1="873.4" x2="988.6" y2="896.2" stroke="#a891af" stroke-width="7.3" stroke-linecap="butt"/><line x1="1037" y1="873.4" x2="988.6" y2="896.2" stroke="#b69ebe" stroke-width="4.2" stroke-linecap="butt"/>
<line x1="692.9" y1="425.9" x2="718.7" y2="356.4" stroke="#8f7b96" stroke-width="10.1" stroke-linecap="round"/><line x1="692.9" y1="425.9" x2="718.7" y2="356.4" stroke="#a891af" stroke-width="7.3" stroke-linecap="round"/><line x1="692.9" y1="425.9" x2="718.7" y2="356.4" stroke="#b69ebe" stroke-width="4.2" stroke-linecap="round"/>
<line x1="680.4" y1="459.6" x2="654.6" y2="529.1" stroke="#8f7b96" stroke-width="10.1" stroke-linecap="round"/><line x1="680.4" y1="459.6" x2="654.6" y2="529.1" stroke="#a891af" stroke-width="7.3" stroke-linecap="round"/><line x1="680.4" y1="459.6" x2="654.6" y2="529.1" stroke="#b69ebe" stroke-width="4.2" stroke-linecap="round"/>
<line x1="692.9" y1="695.8" x2="718.7" y2="626.3" stroke="#8f7b96" stroke-width="10.1" stroke-linecap="round"/><line x1="692.9" y1="695.8" x2="718.7" y2="626.3" stroke="#a891af" stroke-width="7.3" stroke-linecap="round"/><line x1="692.9" y1="695.8" x2="718.7" y2="626.3" stroke="#b69ebe" stroke-width="4.2" stroke-linecap="round"/>
<line x1="680.4" y1="729.5" x2="654.6" y2="799" stroke="#8f7b96" stroke-width="10.1" stroke-linecap="round"/><line x1="680.4" y1="729.5" x2="654.6" y2="799" stroke="#a891af" stroke-width="7.3" stroke-linecap="round"/><line x1="680.4" y1="729.5" x2="654.6" y2="799" stroke="#b69ebe" stroke-width="4.2" stroke-linecap="round"/>
<line x1="962.8" y1="425.9" x2="988.6" y2="356.4" stroke="#8f7b96" stroke-width="10.1" stroke-linecap="round"/><line x1="962.8" y1="425.9" x2="988.6" y2="356.4" stroke="#a891af" stroke-width="7.3" stroke-linecap="round"/><line x1="962.8" y1="425.9" x2="988.6" y2="356.4" stroke="#b69ebe" stroke-width="4.2" stroke-linecap="round"/>
<line x1="950.3" y1="459.6" x2="924.5" y2="529.1" stroke="#8f7b96" stroke-width="10.1" stroke-linecap="round"/><line x1="950.3" y1="459.6" x2="924.5" y2="529.1" stroke="#a891af" stroke-width="7.3" stroke-linecap="round"/><line x1="950.3" y1="459.6" x2="924.5" y2="529.1" stroke="#b69ebe" stroke-width="4.2" stroke-linecap="round"/>
<line x1="962.8" y1="695.8" x2="988.6" y2="626.3" stroke="#8f7b96" stroke-width="10.1" stroke-linecap="round"/><line x1="962.8" y1="695.8" x2="988.6" y2="626.3" stroke="#a891af" stroke-width="7.3" stroke-linecap="round"/><line x1="962.8" y1="695.8" x2="988.6" y2="626.3" stroke="#b69ebe" stroke-width="4.2" stroke-linecap="round"/>
<line x1="950.3" y1="729.5" x2="924.5" y2="799" stroke="#8f7b96" stroke-width="10.1" stroke-linecap="round"/><line x1="950.3" y1="729.5" x2="924.5" y2="799" stroke="#a891af" stroke-width="7.3" stroke-linecap="round"/><line x1="950.3" y1="729.5" x2="924.5" y2="799" stroke="#b69ebe" stroke-width="4.2" stroke-linecap="round"/>
<line x1="654.6" y1="259.2" x2="718.7" y2="356.4" stroke="#8f7b96" stroke-width="10.1" stroke-linecap="butt"/><line x1="654.6" y1="259.2" x2="718.7" y2="356.4" stroke="#a891af" stroke-width="7.3" stroke-linecap="butt"/><line x1="654.6" y1="259.2" x2="718.7" y2="356.4" stroke="#b69ebe" stroke-width="4.2" stroke-linecap="butt"/>
<line x1="654.6" y1="529.1" x2="718.7" y2="626.3" stroke="#8f7b96" stroke-width="10.1" stroke-linecap="butt"/><line x1="654.6" y1="529.1" x2="718.7" y2="626.3" stroke="#a891af" stroke-width="7.3" stroke-linecap="butt"/><line x1="654.6" y1="529.1" x2="718.7" y2="626.3" stroke="#b69ebe" stroke-width="4.2" stroke-linecap="butt"/>
<line x1="654.6" y1="799" x2="718.7" y2="896.2" stroke="#8f7b96" stroke-width="10.1" stroke-linecap="butt"/><line x1="654.6" y1="799" x2="718.7" y2="896.2" stroke="#a891af" stroke-width="7.3" stroke-linecap="butt"/><line x1="654.6" y1="799" x2="718.7" y2="896.2" stroke="#b69ebe" stroke-width="4.2" stroke-linecap="butt"/>
<line x1="924.5" y1="259.2" x2="988.6" y2="356.4" stroke="#8f7b96" stroke-width="10.1" stroke-linecap="butt"/><line x1="924.5" y1="259.2" x2="988.6" y2="356.4" stroke="#a891af" stroke-width="7.3" stroke-linecap="butt"/><line x1="924.5" y1="259.2" x2="988.6" y2="356.4" stroke="#b69ebe" stroke-width="4.2" stroke-linecap="butt"/>
<line x1="924.5" y1="529.1" x2="988.6" y2="626.3" stroke="#8f7b96" stroke-width="10.1" stroke-linecap="butt"/><line x1="924.5" y1="529.1" x2="988.6" y2="626.3" stroke="#a891af" stroke-width="7.3" stroke-linecap="butt"/><line x1="924.5" y1="529.1" x2="988.6" y2="626.3" stroke="#b69ebe" stroke-width="4.2" stroke-linecap="butt"/>
<line x1="924.5" y1="799" x2="988.6" y2="896.2" stroke="#8f7b96" stroke-width="10.1" stroke-linecap="butt"/><line x1="924.5" y1="799" x2="988.6" y2="896.2" stroke="#a891af" stroke-width="7.3" stroke-linecap="butt"/><line x1="924.5" y1="799" x2="988.6" y2="896.2" stroke="#b69ebe" stroke-width="4.2" stroke-linecap="butt"/>
<circle cx="654.6" cy="259.2" r="23.4" fill="url(#gP2)"/>
<circle cx="448.8" cy="356.4" r="23.4" fill="url(#gP2)"/>
<circle cx="654.6" cy="529.1" r="23.4" fill="url(#gP2)"/>
<circle cx="448.8" cy="626.3" r="23.4" fill="url(#gP2)"/>
<circle cx="654.6" cy="799" r="23.4" fill="url(#gP2)"/>
<circle cx="448.8" cy="896.2" r="23.4" fill="url(#gP2)"/>
<circle cx="924.5" cy="259.2" r="23.4" fill="url(#gP2)"/>
<circle cx="718.7" cy="356.4" r="23.4" fill="url(#gP2)"/>
<circle cx="924.5" cy="529.1" r="23.4" fill="url(#gP2)"/>
<circle cx="718.7" cy="626.3" r="23.4" fill="url(#gP2)"/>
<circle cx="924.5" cy="799" r="23.4" fill="url(#gP2)"/>
<circle cx="718.7" cy="896.2" r="23.4" fill="url(#gP2)"/>
<circle cx="1194.4" cy="259.2" r="23.4" fill="url(#gP2)"/>
<circle cx="988.6" cy="356.4" r="23.4" fill="url(#gP2)"/>
<circle cx="1194.4" cy="529.1" r="23.4" fill="url(#gP2)"/>
<circle cx="988.6" cy="626.3" r="23.4" fill="url(#gP2)"/>
<circle cx="1194.4" cy="799" r="23.4" fill="url(#gP2)"/>
<circle cx="988.6" cy="896.2" r="23.4" fill="url(#gP2)"/>
<path d="M551.8 307.8H824.2M821.7 307.8H1094.1M551.8 577.7H824.2M821.7 577.7H1094.1M551.8 847.6H824.2M821.7 847.6H1094.1M551.7 578V305.2M551.7 847.9V575.1M821.6 578V305.2M821.6 847.9V575.1M1091.5 578V305.2M1091.5 847.9V575.1" stroke="#000" stroke-width="5.2" stroke-dasharray="12.9 13.55" fill="none"/>
</g>
<g id="sideview">
<line x1="552.6" y1="1215.4" x2="496.4" y2="1172.4" stroke="#1bbec1" stroke-width="10.4" stroke-linecap="butt"/><line x1="552.6" y1="1215.4" x2="496.4" y2="1172.4" stroke="#25e3e7" stroke-width="7.5" stroke-linecap="butt"/><line x1="552.6" y1="1215.4" x2="496.4" y2="1172.4" stroke="#31f8fa" stroke-width="4.4" stroke-linecap="butt"/><line x1="496.4" y1="1172.4" x2="449.4" y2="1136.5" stroke="#9a84a2" stroke-width="10.4" stroke-linecap="butt"/><line x1="496.4" y1="1172.4" x2="449.4" y2="1136.5" stroke="#b59cbd" stroke-width="7.5" stroke-linecap="butt"/><line x1="496.4" y1="1172.4" x2="449.4" y2="1136.5" stroke="#c4aacd" stroke-width="4.4" stroke-linecap="butt"/>
<line x1="552.6" y1="1215.4" x2="608.8" y2="1172.4" stroke="#1bbec1" stroke-width="10.4" stroke-linecap="butt"/><line x1="552.6" y1="1215.4" x2="608.8" y2="1172.4" stroke="#25e3e7" stroke-width="7.5" stroke-linecap="butt"/><line x1="552.6" y1="1215.4" x2="608.8" y2="1172.4" stroke="#31f8fa" stroke-width="4.4" stroke-linecap="butt"/><line x1="608.8" y1="1172.4" x2="655.8" y2="1136.5" stroke="#9a84a2" stroke-width="10.4" stroke-linecap="butt"/><line x1="608.8" y1="1172.4" x2="655.8" y2="1136.5" stroke="#b59cbd" stroke-width="7.5" stroke-linecap="butt"/><line x1="608.8" y1="1172.4" x2="655.8" y2="1136.5" stroke="#c4aacd" stroke-width="4.4" stroke-linecap="butt"/>
<line x1="503.6" y1="1294.2" x2="601.6" y2="1294.2" stroke="#8c7893" stroke-width="10.4" stroke-linecap="butt"/><line x1="503.6" y1="1294.2" x2="601.6" y2="1294.2" stroke="#a48eab" stroke-width="7.5" stroke-linecap="butt"/><line x1="503.6" y1="1294.2" x2="601.6" y2="1294.2" stroke="#b29aba" stroke-width="4.4" stroke-linecap="butt"/>
<line x1="824.2" y1="1215.4" x2="768" y2="1172.4" stroke="#1bbec1" stroke-width="10.4" stroke-linecap="butt"/><line x1="824.2" y1="1215.4" x2="768" y2="1172.4" stroke="#25e3e7" stroke-width="7.5" stroke-linecap="butt"/><line x1="824.2" y1="1215.4" x2="768" y2="1172.4" stroke="#31f8fa" stroke-width="4.4" stroke-linecap="butt"/><line x1="768" y1="1172.4" x2="721" y2="1136.5" stroke="#9a84a2" stroke-width="10.4" stroke-linecap="butt"/><line x1="768" y1="1172.4" x2="721" y2="1136.5" stroke="#b59cbd" stroke-width="7.5" stroke-linecap="butt"/><line x1="768" y1="1172.4" x2="721" y2="1136.5" stroke="#c4aacd" stroke-width="4.4" stroke-linecap="butt"/>
<line x1="824.2" y1="1215.4" x2="880.4" y2="1172.4" stroke="#1bbec1" stroke-width="10.4" stroke-linecap="butt"/><line x1="824.2" y1="1215.4" x2="880.4" y2="1172.4" stroke="#25e3e7" stroke-width="7.5" stroke-linecap="butt"/><line x1="824.2" y1="1215.4" x2="880.4" y2="1172.4" stroke="#31f8fa" stroke-width="4.4" stroke-linecap="butt"/><line x1="880.4" y1="1172.4" x2="927.4" y2="1136.5" stroke="#9a84a2" stroke-width="10.4" stroke-linecap="butt"/><line x1="880.4" y1="1172.4" x2="927.4" y2="1136.5" stroke="#b59cbd" stroke-width="7.5" stroke-linecap="butt"/><line x1="880.4" y1="1172.4" x2="927.4" y2="1136.5" stroke="#c4aacd" stroke-width="4.4" stroke-linecap="butt"/>
<line x1="775.2" y1="1294.2" x2="873.2" y2="1294.2" stroke="#8c7893" stroke-width="10.4" stroke-linecap="butt"/><line x1="775.2" y1="1294.2" x2="873.2" y2="1294.2" stroke="#a48eab" stroke-width="7.5" stroke-linecap="butt"/><line x1="775.2" y1="1294.2" x2="873.2" y2="1294.2" stroke="#b29aba" stroke-width="4.4" stroke-linecap="butt"/>
<line x1="1095.8" y1="1215.4" x2="1039.6" y2="1172.4" stroke="#1bbec1" stroke-width="10.4" stroke-linecap="butt"/><line x1="1095.8" y1="1215.4" x2="1039.6" y2="1172.4" stroke="#25e3e7" stroke-width="7.5" stroke-linecap="butt"/><line x1="1095.8" y1="1215.4" x2="1039.6" y2="1172.4" stroke="#31f8fa" stroke-width="4.4" stroke-linecap="butt"/><line x1="1039.6" y1="1172.4" x2="992.6" y2="1136.5" stroke="#9a84a2" stroke-width="10.4" stroke-linecap="butt"/><line x1="1039.6" y1="1172.4" x2="992.6" y2="1136.5" stroke="#b59cbd" stroke-width="7.5" stroke-linecap="butt"/><line x1="1039.6" y1="1172.4" x2="992.6" y2="1136.5" stroke="#c4aacd" stroke-width="4.4" stroke-linecap="butt"/>
<line x1="1095.8" y1="1215.4" x2="1152" y2="1172.4" stroke="#1bbec1" stroke-width="10.4" stroke-linecap="butt"/><line x1="1095.8" y1="1215.4" x2="1152" y2="1172.4" stroke="#25e3e7" stroke-width="7.5" stroke-linecap="butt"/><line x1="1095.8" y1="1215.4" x2="1152" y2="1172.4" stroke="#31f8fa" stroke-width="4.4" stroke-linecap="butt"/><line x1="1152" y1="1172.4" x2="1199" y2="1136.5" stroke="#9a84a2" stroke-width="10.4" stroke-linecap="butt"/><line x1="1152" y1="1172.4" x2="1199" y2="1136.5" stroke="#b59cbd" stroke-width="7.5" stroke-linecap="butt"/><line x1="1152" y1="1172.4" x2="1199" y2="1136.5" stroke="#c4aacd" stroke-width="4.4" stroke-linecap="butt"/>
<line x1="1046.8" y1="1294.2" x2="1144.8" y2="1294.2" stroke="#8c7893" stroke-width="10.4" stroke-linecap="butt"/><line x1="1046.8" y1="1294.2" x2="1144.8" y2="1294.2" stroke="#a48eab" stroke-width="7.5" stroke-linecap="butt"/><line x1="1046.8" y1="1294.2" x2="1144.8" y2="1294.2" stroke="#b29aba" stroke-width="4.4" stroke-linecap="butt"/>
<line x1="688.4" y1="1215.4" x2="655.8" y2="1136.5" stroke="#79687f" stroke-width="10.4" stroke-linecap="butt"/><line x1="688.4" y1="1215.4" x2="655.8" y2="1136.5" stroke="#8e7b94" stroke-width="7.5" stroke-linecap="butt"/><line x1="688.4" y1="1215.4" x2="655.8" y2="1136.5" stroke="#9a86a1" stroke-width="4.4" stroke-linecap="butt"/>
<line x1="688.4" y1="1215.4" x2="601.6" y2="1294.2" stroke="#9a84a2" stroke-width="10.4" stroke-linecap="butt"/><line x1="688.4" y1="1215.4" x2="601.6" y2="1294.2" stroke="#b59cbd" stroke-width="7.5" stroke-linecap="butt"/><line x1="688.4" y1="1215.4" x2="601.6" y2="1294.2" stroke="#c4aacd" stroke-width="4.4" stroke-linecap="butt"/>
<line x1="688.4" y1="1215.4" x2="775.2" y2="1294.2" stroke="#9a84a2" stroke-width="10.4" stroke-linecap="butt"/><line x1="688.4" y1="1215.4" x2="775.2" y2="1294.2" stroke="#b59cbd" stroke-width="7.5" stroke-linecap="butt"/><line x1="688.4" y1="1215.4" x2="775.2" y2="1294.2" stroke="#c4aacd" stroke-width="4.4" stroke-linecap="butt"/>
<line x1="960" y1="1215.4" x2="927.4" y2="1136.5" stroke="#79687f" stroke-width="10.4" stroke-linecap="butt"/><line x1="960" y1="1215.4" x2="927.4" y2="1136.5" stroke="#8e7b94" stroke-width="7.5" stroke-linecap="butt"/><line x1="960" y1="1215.4" x2="927.4" y2="1136.5" stroke="#9a86a1" stroke-width="4.4" stroke-linecap="butt"/>
<line x1="960" y1="1215.4" x2="873.2" y2="1294.2" stroke="#9a84a2" stroke-width="10.4" stroke-linecap="butt"/><line x1="960" y1="1215.4" x2="873.2" y2="1294.2" stroke="#b59cbd" stroke-width="7.5" stroke-linecap="butt"/><line x1="960" y1="1215.4" x2="873.2" y2="1294.2" stroke="#c4aacd" stroke-width="4.4" stroke-linecap="butt"/>
<line x1="960" y1="1215.4" x2="1046.8" y2="1294.2" stroke="#9a84a2" stroke-width="10.4" stroke-linecap="butt"/><line x1="960" y1="1215.4" x2="1046.8" y2="1294.2" stroke="#b59cbd" stroke-width="7.5" stroke-linecap="butt"/><line x1="960" y1="1215.4" x2="1046.8" y2="1294.2" stroke="#c4aacd" stroke-width="4.4" stroke-linecap="butt"/>
<circle cx="601.6" cy="1294.2" r="23.4" fill="url(#gP)"/>
<circle cx="873.2" cy="1294.2" r="23.4" fill="url(#gP)"/>
<circle cx="1144.8" cy="1294.2" r="23.4" fill="url(#gP)"/>
<circle cx="688.4" cy="1215.4" r="23.4" fill="url(#gP)"/>
<circle cx="960" cy="1215.4" r="23.4" fill="url(#gP)"/>
<line x1="592.6" y1="1279.8" x2="581.5" y2="1261.9" stroke="#79687f" stroke-width="10.4" stroke-linecap="round"/><line x1="592.6" y1="1279.8" x2="581.5" y2="1261.9" stroke="#8e7b94" stroke-width="7.5" stroke-linecap="round"/><line x1="592.6" y1="1279.8" x2="581.5" y2="1261.9" stroke="#9a86a1" stroke-width="4.4" stroke-linecap="round"/><line x1="581.5" y1="1261.9" x2="552.6" y2="1215.4" stroke="#159598" stroke-width="10.4" stroke-linecap="butt"/><line x1="581.5" y1="1261.9" x2="552.6" y2="1215.4" stroke="#1db3b5" stroke-width="7.5" stroke-linecap="butt"/><line x1="581.5" y1="1261.9" x2="552.6" y2="1215.4" stroke="#27c3c5" stroke-width="4.4" stroke-linecap="butt"/>
<line x1="864.2" y1="1279.8" x2="853.1" y2="1261.9" stroke="#79687f" stroke-width="10.4" stroke-linecap="round"/><line x1="864.2" y1="1279.8" x2="853.1" y2="1261.9" stroke="#8e7b94" stroke-width="7.5" stroke-linecap="round"/><line x1="864.2" y1="1279.8" x2="853.1" y2="1261.9" stroke="#9a86a1" stroke-width="4.4" stroke-linecap="round"/><line x1="853.1" y1="1261.9" x2="824.2" y2="1215.4" stroke="#159598" stroke-width="10.4" stroke-linecap="butt"/><line x1="853.1" y1="1261.9" x2="824.2" y2="1215.4" stroke="#1db3b5" stroke-width="7.5" stroke-linecap="butt"/><line x1="853.1" y1="1261.9" x2="824.2" y2="1215.4" stroke="#27c3c5" stroke-width="4.4" stroke-linecap="butt"/>
<line x1="1135.8" y1="1279.8" x2="1124.7" y2="1261.9" stroke="#79687f" stroke-width="10.4" stroke-linecap="round"/><line x1="1135.8" y1="1279.8" x2="1124.7" y2="1261.9" stroke="#8e7b94" stroke-width="7.5" stroke-linecap="round"/><line x1="1135.8" y1="1279.8" x2="1124.7" y2="1261.9" stroke="#9a86a1" stroke-width="4.4" stroke-linecap="round"/><line x1="1124.7" y1="1261.9" x2="1095.8" y2="1215.4" stroke="#159598" stroke-width="10.4" stroke-linecap="butt"/><line x1="1124.7" y1="1261.9" x2="1095.8" y2="1215.4" stroke="#1db3b5" stroke-width="7.5" stroke-linecap="butt"/><line x1="1124.7" y1="1261.9" x2="1095.8" y2="1215.4" stroke="#27c3c5" stroke-width="4.4" stroke-linecap="butt"/>
<line x1="694.9" y1="1199.7" x2="721" y2="1136.5" stroke="#79687f" stroke-width="10.4" stroke-linecap="round"/><line x1="694.9" y1="1199.7" x2="721" y2="1136.5" stroke="#8e7b94" stroke-width="7.5" stroke-linecap="round"/><line x1="694.9" y1="1199.7" x2="721" y2="1136.5" stroke="#9a86a1" stroke-width="4.4" stroke-linecap="round"/>
<line x1="966.5" y1="1199.7" x2="992.6" y2="1136.5" stroke="#79687f" stroke-width="10.4" stroke-linecap="round"/><line x1="966.5" y1="1199.7" x2="992.6" y2="1136.5" stroke="#8e7b94" stroke-width="7.5" stroke-linecap="round"/><line x1="966.5" y1="1199.7" x2="992.6" y2="1136.5" stroke="#9a86a1" stroke-width="4.4" stroke-linecap="round"/>
<circle cx="552.6" cy="1215.4" r="35.5" fill="url(#gI)"/>
<circle cx="824.2" cy="1215.4" r="35.5" fill="url(#gI)"/>
<circle cx="1095.8" cy="1215.4" r="35.5" fill="url(#gI)"/>
<circle cx="721" cy="1136.5" r="23.4" fill="url(#gP)"/>
<circle cx="992.6" cy="1136.5" r="23.4" fill="url(#gP)"/>
<line x1="709" y1="1136.5" x2="655.8" y2="1136.5" stroke="#79687f" stroke-width="10.4" stroke-linecap="round"/><line x1="709" y1="1136.5" x2="655.8" y2="1136.5" stroke="#8e7b94" stroke-width="7.5" stroke-linecap="round"/><line x1="709" y1="1136.5" x2="655.8" y2="1136.5" stroke="#9a86a1" stroke-width="4.4" stroke-linecap="round"/>
<line x1="980.6" y1="1136.5" x2="927.4" y2="1136.5" stroke="#79687f" stroke-width="10.4" stroke-linecap="round"/><line x1="980.6" y1="1136.5" x2="927.4" y2="1136.5" stroke="#8e7b94" stroke-width="7.5" stroke-linecap="round"/><line x1="980.6" y1="1136.5" x2="927.4" y2="1136.5" stroke="#9a86a1" stroke-width="4.4" stroke-linecap="round"/>
<line x1="538.9" y1="1237.5" x2="527.6" y2="1255.6" stroke="#159598" stroke-width="10.4" stroke-linecap="round"/><line x1="538.9" y1="1237.5" x2="527.6" y2="1255.6" stroke="#1db3b5" stroke-width="7.5" stroke-linecap="round"/><line x1="538.9" y1="1237.5" x2="527.6" y2="1255.6" stroke="#27c3c5" stroke-width="4.4" stroke-linecap="round"/><line x1="527.6" y1="1255.6" x2="503.6" y2="1294.2" stroke="#79687f" stroke-width="10.4" stroke-linecap="butt"/><line x1="527.6" y1="1255.6" x2="503.6" y2="1294.2" stroke="#8e7b94" stroke-width="7.5" stroke-linecap="butt"/><line x1="527.6" y1="1255.6" x2="503.6" y2="1294.2" stroke="#9a86a1" stroke-width="4.4" stroke-linecap="butt"/>
<line x1="810.5" y1="1237.5" x2="799.2" y2="1255.6" stroke="#159598" stroke-width="10.4" stroke-linecap="round"/><line x1="810.5" y1="1237.5" x2="799.2" y2="1255.6" stroke="#1db3b5" stroke-width="7.5" stroke-linecap="round"/><line x1="810.5" y1="1237.5" x2="799.2" y2="1255.6" stroke="#27c3c5" stroke-width="4.4" stroke-linecap="round"/><line x1="799.2" y1="1255.6" x2="775.2" y2="1294.2" stroke="#79687f" stroke-width="10.4" stroke-linecap="butt"/><line x1="799.2" y1="1255.6" x2="775.2" y2="1294.2" stroke="#8e7b94" stroke-width="7.5" stroke-linecap="butt"/><line x1="799.2" y1="1255.6" x2="775.2" y2="1294.2" stroke="#9a86a1" stroke-width="4.4" stroke-linecap="butt"/>
<line x1="1082.1" y1="1237.5" x2="1070.8" y2="1255.6" stroke="#159598" stroke-width="10.4" stroke-linecap="round"/><line x1="1082.1" y1="1237.5" x2="1070.8" y2="1255.6" stroke="#1db3b5" stroke-width="7.5" stroke-linecap="round"/><line x1="1082.1" y1="1237.5" x2="1070.8" y2="1255.6" stroke="#27c3c5" stroke-width="4.4" stroke-linecap="round"/><line x1="1070.8" y1="1255.6" x2="1046.8" y2="1294.2" stroke="#79687f" stroke-width="10.4" stroke-linecap="butt"/><line x1="1070.8" y1="1255.6" x2="1046.8" y2="1294.2" stroke="#8e7b94" stroke-width="7.5" stroke-linecap="butt"/><line x1="1070.8" y1="1255.6" x2="1046.8" y2="1294.2" stroke="#9a86a1" stroke-width="4.4" stroke-linecap="butt"/>
<circle cx="449.4" cy="1136.5" r="23.4" fill="url(#gP)"/>
<circle cx="655.8" cy="1136.5" r="23.4" fill="url(#gP)"/>
<circle cx="503.6" cy="1294.2" r="23.4" fill="url(#gP)"/>
<circle cx="927.4" cy="1136.5" r="23.4" fill="url(#gP)"/>
<circle cx="775.2" cy="1294.2" r="23.4" fill="url(#gP)"/>
<circle cx="1199" cy="1136.5" r="23.4" fill="url(#gP)"/>
<circle cx="1046.8" cy="1294.2" r="23.4" fill="url(#gP)"/>
</g>
<g id="legend">
<circle cx="92.3" cy="255.7" r="61" fill="url(#gI)"/>
<circle cx="89.5" cy="432.7" r="40.2" fill="url(#gP)"/>
<text x="195" y="301.3" class="bd" font-size="115">In</text>
<text x="196" y="475.7" class="bd" font-size="115">P</text>
</g>
<g id="axes1" stroke="#ff0000" fill="none">
<path d="M87.05 676V840.4" stroke-width="9.8"/><path d="M81.1 835.2H246" stroke-width="10.4"/>
<path d="M69.4 704.8L86.9 675.3L104.4 704.8" stroke-width="10.4" stroke-linecap="round" stroke-linejoin="miter" stroke-miterlimit="10"/>
<path d="M216.5 817.4L245.7 835.1L216.5 852.8" stroke-width="10.4" stroke-linecap="round" stroke-linejoin="miter" stroke-miterlimit="10"/>
</g>
<text x="63" y="643.7" class="bd" font-size="92">b</text>
<text x="272" y="855.7" class="bd" font-size="92">a</text>
<text x="22" y="875.9" class="bd" font-size="92">c</text>
<g id="axes2" stroke="#ff0000" fill="none">
<path d="M88.1 1137V1300.7" stroke-width="9.8"/><path d="M83.2 1295.9H248" stroke-width="9.8"/>
<path d="M70.6 1166.3L88 1136.8L105.5 1166.3" stroke-width="10.4" stroke-linecap="round" stroke-linejoin="miter" stroke-miterlimit="10"/>
<path d="M218.5 1278.3L247.9 1296L218.5 1313.7" stroke-width="10.4" stroke-linecap="round" stroke-linejoin="miter" stroke-miterlimit="10"/>
</g>
<text x="64.5" y="1107.4" class="bd" font-size="92">c</text>
<text x="24" y="1336.8" class="bd" font-size="92">a</text>
<text x="272" y="1316.2" class="bd" font-size="92">b</text>
<g id="scatter">
<clipPath id="cpS"><rect x="1443.2" y="228.8" width="538.9" height="519.6"/></clipPath>
<g clip-path="url(#cpS)">
<g fill="#0000ff" fill-opacity="0.2" stroke="#0000ff" stroke-opacity="0.25" stroke-width="1.4"><circle cx="1696.4" cy="513.7" r="5.6"/><circle cx="1629.4" cy="563.3" r="5.6"/><circle cx="1687.9" cy="518.1" r="5.6"/><circle cx="1798.5" cy="399.3" r="5.6"/><circle cx="1818.6" cy="377.6" r="5.6"/><circle cx="1691.9" cy="489.5" r="5.6"/><circle cx="1756.4" cy="445.9" r="5.6"/><circle cx="1797.5" cy="404.1" r="5.6"/><circle cx="1728.3" cy="470.8" r="5.6"/><circle cx="1701.6" cy="508.4" r="5.6"/><circle cx="1610.4" cy="583.2" r="5.6"/><circle cx="1711.8" cy="491.6" r="5.6"/><circle cx="1858.4" cy="333.6" r="5.6"/><circle cx="1695.6" cy="507.4" r="5.6"/><circle cx="1769.6" cy="422" r="5.6"/><circle cx="1681" cy="511.5" r="5.6"/><circle cx="1843.2" cy="364.3" r="5.6"/><circle cx="1710.9" cy="480.6" r="5.6"/><circle cx="1853.6" cy="352.6" r="5.6"/><circle cx="1627.9" cy="574.9" r="5.6"/><circle cx="1743.7" cy="466.5" r="5.6"/><circle cx="1788.2" cy="410.1" r="5.6"/><circle cx="1731.4" cy="466.5" r="5.6"/><circle cx="1669.1" cy="533.4" r="5.6"/><circle cx="1619.4" cy="574.9" r="5.6"/><circle cx="1689.1" cy="510" r="5.6"/><circle cx="1737.6" cy="466.7" r="5.6"/><circle cx="1803.3" cy="405.2" r="5.6"/><circle cx="1729.5" cy="464.2" r="5.6"/><circle cx="1634" cy="547.6" r="5.6"/><circle cx="1628.7" cy="568.7" r="5.6"/><circle cx="1683.9" cy="508.9" r="5.6"/><circle cx="1724.5" cy="477.9" r="5.6"/><circle cx="1742.2" cy="462.9" r="5.6"/><circle cx="1787.1" cy="414" r="5.6"/><circle cx="1648.6" cy="546.1" r="5.6"/><circle cx="1831.2" cy="369" r="5.6"/><circle cx="1754.5" cy="436.5" r="5.6"/><circle cx="1693.7" cy="490.6" r="5.6"/><circle cx="1742.2" cy="460.1" r="5.6"/><circle cx="1756.4" cy="444.6" r="5.6"/><circle cx="1704.9" cy="480.5" r="5.6"/><circle cx="1615.4" cy="581.8" r="5.6"/><circle cx="1686.9" cy="510.6" r="5.6"/><circle cx="1768.8" cy="438.2" r="5.6"/><circle cx="1624.9" cy="556.8" r="5.6"/><circle cx="1717.3" cy="483.4" r="5.6"/><circle cx="1740.8" cy="452.6" r="5.6"/><circle cx="1673.2" cy="527.4" r="5.6"/><circle cx="1585.7" cy="611.4" r="5.6"/><circle cx="1678.4" cy="520.4" r="5.6"/><circle cx="1831.7" cy="370.2" r="5.6"/><circle cx="1808.1" cy="391" r="5.6"/><circle cx="1728.1" cy="484.9" r="5.6"/><circle cx="1585.4" cy="617.1" r="5.6"/><circle cx="1803.4" cy="404" r="5.6"/><circle cx="1591.8" cy="595.9" r="5.6"/><circle cx="1764.7" cy="423.9" r="5.6"/><circle cx="1605.1" cy="584.2" r="5.6"/><circle cx="1641.6" cy="557.4" r="5.6"/><circle cx="1735.5" cy="465.4" r="5.6"/><circle cx="1571" cy="638.3" r="5.6"/><circle cx="1635.2" cy="569" r="5.6"/><circle cx="1736.1" cy="475.1" r="5.6"/><circle cx="1813.7" cy="384.8" r="5.6"/><circle cx="1729.2" cy="474.4" r="5.6"/><circle cx="1770" cy="439.3" r="5.6"/><circle cx="1759.6" cy="443.8" r="5.6"/><circle cx="1714.9" cy="484.6" r="5.6"/><circle cx="1612.8" cy="572.7" r="5.6"/><circle cx="1572.8" cy="614.3" r="5.6"/><circle cx="1804.3" cy="396.6" r="5.6"/><circle cx="1800.6" cy="388.8" r="5.6"/><circle cx="1641.9" cy="547.6" r="5.6"/><circle cx="1746.1" cy="465.7" r="5.6"/><circle cx="1811.6" cy="391.7" r="5.6"/><circle cx="1703.4" cy="489.8" r="5.6"/><circle cx="1729.7" cy="468.9" r="5.6"/><circle cx="1748.6" cy="456.7" r="5.6"/><circle cx="1816.3" cy="400.9" r="5.6"/><circle cx="1720" cy="466.4" r="5.6"/><circle cx="1574.5" cy="618.9" r="5.6"/><circle cx="1667.1" cy="519.4" r="5.6"/><circle cx="1716" cy="483.8" r="5.6"/><circle cx="1809.4" cy="393.1" r="5.6"/><circle cx="1804.1" cy="393.7" r="5.6"/><circle cx="1742.2" cy="462" r="5.6"/><circle cx="1846.1" cy="358.5" r="5.6"/><circle cx="1669.3" cy="527.8" r="5.6"/><circle cx="1716" cy="482.6" r="5.6"/><circle cx="1645.6" cy="556.9" r="5.6"/><circle cx="1615.6" cy="579.9" r="5.6"/><circle cx="1639" cy="550.3" r="5.6"/><circle cx="1588.7" cy="594.6" r="5.6"/><circle cx="1762.3" cy="431.2" r="5.6"/><circle cx="1603.5" cy="597.2" r="5.6"/><circle cx="1820.8" cy="374.9" r="5.6"/><circle cx="1613" cy="579.7" r="5.6"/><circle cx="1817.4" cy="379.9" r="5.6"/><circle cx="1778.1" cy="422" r="5.6"/><circle cx="1687.4" cy="520.3" r="5.6"/><circle cx="1646.3" cy="537.3" r="5.6"/><circle cx="1586.8" cy="609.7" r="5.6"/><circle cx="1742.2" cy="455.2" r="5.6"/><circle cx="1838.6" cy="364.5" r="5.6"/><circle cx="1613.7" cy="575.1" r="5.6"/><circle cx="1818" cy="382.7" r="5.6"/><circle cx="1600.8" cy="594.9" r="5.6"/><circle cx="1840.2" cy="368.6" r="5.6"/><circle cx="1719.8" cy="475.3" r="5.6"/><circle cx="1654.1" cy="542.5" r="5.6"/><circle cx="1719" cy="489.3" r="5.6"/><circle cx="1637.9" cy="560.7" r="5.6"/><circle cx="1796.7" cy="416.8" r="5.6"/><circle cx="1848.3" cy="342.1" r="5.6"/><circle cx="1698.9" cy="497.7" r="5.6"/><circle cx="1619.1" cy="578.5" r="5.6"/><circle cx="1714.4" cy="479.4" r="5.6"/><circle cx="1784.4" cy="423" r="5.6"/><circle cx="1700.9" cy="498" r="5.6"/><circle cx="1847.2" cy="358.9" r="5.6"/><circle cx="1685.9" cy="514.7" r="5.6"/><circle cx="1594.8" cy="595" r="5.6"/><circle cx="1658" cy="542.8" r="5.6"/><circle cx="1801.7" cy="396.9" r="5.6"/><circle cx="1714.4" cy="485.5" r="5.6"/><circle cx="1766.2" cy="429.5" r="5.6"/><circle cx="1770" cy="432.4" r="5.6"/><circle cx="1706.2" cy="494.1" r="5.6"/><circle cx="1620.9" cy="572.8" r="5.6"/><circle cx="1698" cy="505.1" r="5.6"/><circle cx="1671.3" cy="526.4" r="5.6"/><circle cx="1750.1" cy="439" r="5.6"/><circle cx="1684.6" cy="520.6" r="5.6"/><circle cx="1724.8" cy="464.4" r="5.6"/><circle cx="1656" cy="551.7" r="5.6"/><circle cx="1860.8" cy="342.8" r="5.6"/><circle cx="1740.1" cy="461.6" r="5.6"/><circle cx="1642.2" cy="544.8" r="5.6"/><circle cx="1788.1" cy="424" r="5.6"/><circle cx="1761.2" cy="434.3" r="5.6"/><circle cx="1622" cy="572.7" r="5.6"/><circle cx="1570.9" cy="618.4" r="5.6"/><circle cx="1591.8" cy="600.2" r="5.6"/><circle cx="1620" cy="575.1" r="5.6"/><circle cx="1726" cy="465.3" r="5.6"/><circle cx="1621.5" cy="574.3" r="5.6"/><circle cx="1625.8" cy="567.5" r="5.6"/><circle cx="1742.1" cy="461.1" r="5.6"/><circle cx="1777.2" cy="434.6" r="5.6"/><circle cx="1660.5" cy="543.4" r="5.6"/><circle cx="1627.4" cy="565.5" r="5.6"/><circle cx="1719.8" cy="475.9" r="5.6"/><circle cx="1696.6" cy="500.3" r="5.6"/><circle cx="1725.4" cy="469.6" r="5.6"/><circle cx="1709.1" cy="478.8" r="5.6"/><circle cx="1770.6" cy="423.1" r="5.6"/><circle cx="1629.9" cy="556.9" r="5.6"/><circle cx="1705.2" cy="490.3" r="5.6"/><circle cx="1830.9" cy="370.6" r="5.6"/><circle cx="1741.5" cy="465.7" r="5.6"/><circle cx="1622.4" cy="574.1" r="5.6"/><circle cx="1790.8" cy="420" r="5.6"/><circle cx="1769" cy="428.9" r="5.6"/><circle cx="1714.7" cy="490.5" r="5.6"/><circle cx="1750.8" cy="449.9" r="5.6"/><circle cx="1678.6" cy="522.4" r="5.6"/><circle cx="1634.5" cy="566.5" r="5.6"/><circle cx="1857.7" cy="351.3" r="5.6"/><circle cx="1727.4" cy="488.6" r="5.6"/><circle cx="1724.3" cy="473.9" r="5.6"/><circle cx="1682.6" cy="510.7" r="5.6"/><circle cx="1688.8" cy="506.5" r="5.6"/><circle cx="1633.7" cy="565.2" r="5.6"/><circle cx="1856.3" cy="348.1" r="5.6"/><circle cx="1615" cy="572.4" r="5.6"/><circle cx="1713.3" cy="487.5" r="5.6"/><circle cx="1703.7" cy="496.4" r="5.6"/><circle cx="1782.6" cy="419.9" r="5.6"/><circle cx="1778.7" cy="423" r="5.6"/><circle cx="1671.3" cy="526.3" r="5.6"/><circle cx="1810.6" cy="396.1" r="5.6"/><circle cx="1700.1" cy="503.7" r="5.6"/><circle cx="1577.4" cy="616" r="5.6"/><circle cx="1810.6" cy="403.5" r="5.6"/><circle cx="1714" cy="489.1" r="5.6"/><circle cx="1586.4" cy="608.8" r="5.6"/><circle cx="1670.4" cy="542.2" r="5.6"/><circle cx="1716.5" cy="475.9" r="5.6"/><circle cx="1704.2" cy="499.7" r="5.6"/><circle cx="1694" cy="505.7" r="5.6"/><circle cx="1656.7" cy="544.3" r="5.6"/><circle cx="1720.6" cy="476.8" r="5.6"/><circle cx="1763.6" cy="439.1" r="5.6"/><circle cx="1702.6" cy="485.2" r="5.6"/><circle cx="1723.4" cy="472.8" r="5.6"/><circle cx="1708" cy="489.7" r="5.6"/><circle cx="1823.3" cy="370.9" r="5.6"/><circle cx="1669.6" cy="535.4" r="5.6"/><circle cx="1816.2" cy="393.5" r="5.6"/><circle cx="1633.3" cy="570" r="5.6"/><circle cx="1855.2" cy="346.3" r="5.6"/><circle cx="1638.9" cy="554.3" r="5.6"/><circle cx="1701.4" cy="489.5" r="5.6"/><circle cx="1724.1" cy="477.1" r="5.6"/><circle cx="1723.2" cy="477.8" r="5.6"/><circle cx="1664.7" cy="535.4" r="5.6"/><circle cx="1665.2" cy="530.5" r="5.6"/><circle cx="1578.1" cy="612.1" r="5.6"/><circle cx="1747" cy="461" r="5.6"/><circle cx="1688.9" cy="512.6" r="5.6"/><circle cx="1840" cy="370.9" r="5.6"/><circle cx="1771.5" cy="427.7" r="5.6"/><circle cx="1834.7" cy="370.7" r="5.6"/><circle cx="1742.3" cy="447.9" r="5.6"/><circle cx="1735.8" cy="460.9" r="5.6"/><circle cx="1765.5" cy="437.1" r="5.6"/><circle cx="1827.1" cy="372.3" r="5.6"/><circle cx="1695.6" cy="503.6" r="5.6"/><circle cx="1768.6" cy="422.2" r="5.6"/><circle cx="1750.9" cy="456.7" r="5.6"/><circle cx="1687.7" cy="506.8" r="5.6"/><circle cx="1837.4" cy="376.1" r="5.6"/><circle cx="1655.2" cy="552.1" r="5.6"/><circle cx="1688.6" cy="501.4" r="5.6"/><circle cx="1828" cy="366.2" r="5.6"/><circle cx="1778.5" cy="427.2" r="5.6"/><circle cx="1657" cy="535.7" r="5.6"/><circle cx="1797" cy="394.9" r="5.6"/><circle cx="1677.6" cy="522.7" r="5.6"/><circle cx="1719.5" cy="492.1" r="5.6"/><circle cx="1714.6" cy="481" r="5.6"/><circle cx="1686.2" cy="501.6" r="5.6"/><circle cx="1718" cy="480.8" r="5.6"/><circle cx="1590.2" cy="608" r="5.6"/><circle cx="1767.3" cy="430.8" r="5.6"/><circle cx="1685.4" cy="514.3" r="5.6"/><circle cx="1636.6" cy="568.1" r="5.6"/><circle cx="1828.2" cy="385.1" r="5.6"/><circle cx="1663.1" cy="531.3" r="5.6"/><circle cx="1707.7" cy="490.5" r="5.6"/><circle cx="1682.9" cy="515.4" r="5.6"/><circle cx="1599.5" cy="586.8" r="5.6"/><circle cx="1803" cy="410.8" r="5.6"/><circle cx="1584.2" cy="599.7" r="5.6"/><circle cx="1602.9" cy="592.8" r="5.6"/><circle cx="1689.1" cy="515.6" r="5.6"/><circle cx="1802.8" cy="392.9" r="5.6"/><circle cx="1733.9" cy="460.6" r="5.6"/><circle cx="1851.1" cy="351.2" r="5.6"/><circle cx="1734.4" cy="459" r="5.6"/><circle cx="1719.7" cy="483.9" r="5.6"/><circle cx="1736.5" cy="460.3" r="5.6"/><circle cx="1701.6" cy="493.5" r="5.6"/><circle cx="1721.5" cy="472.2" r="5.6"/><circle cx="1630.2" cy="573.4" r="5.6"/><circle cx="1765.3" cy="431.8" r="5.6"/><circle cx="1678.6" cy="511.4" r="5.6"/><circle cx="1642.6" cy="561.3" r="5.6"/><circle cx="1611.9" cy="587.9" r="5.6"/><circle cx="1788.9" cy="414.5" r="5.6"/><circle cx="1844" cy="357.9" r="5.6"/><circle cx="1645.7" cy="557.1" r="5.6"/><circle cx="1678.2" cy="502.5" r="5.6"/><circle cx="1565.8" cy="629.4" r="5.6"/><circle cx="1721.2" cy="472.8" r="5.6"/><circle cx="1679.8" cy="520" r="5.6"/><circle cx="1641.3" cy="550.3" r="5.6"/><circle cx="1646.9" cy="559.1" r="5.6"/><circle cx="1703.6" cy="487.6" r="5.6"/><circle cx="1565.1" cy="619.3" r="5.6"/><circle cx="1589" cy="602.7" r="5.6"/><circle cx="1698.6" cy="490.1" r="5.6"/><circle cx="1703.6" cy="491.5" r="5.6"/><circle cx="1685" cy="508.1" r="5.6"/><circle cx="1729.6" cy="476.1" r="5.6"/><circle cx="1808.2" cy="395.7" r="5.6"/><circle cx="1795.9" cy="409.3" r="5.6"/><circle cx="1741" cy="463" r="5.6"/><circle cx="1652.2" cy="539.5" r="5.6"/><circle cx="1735.4" cy="471.2" r="5.6"/><circle cx="1763.6" cy="430" r="5.6"/><circle cx="1808.7" cy="389.4" r="5.6"/><circle cx="1703.6" cy="502.7" r="5.6"/><circle cx="1718.3" cy="471.9" r="5.6"/><circle cx="1856.9" cy="347.2" r="5.6"/><circle cx="1665.4" cy="534.2" r="5.6"/><circle cx="1649.1" cy="540.8" r="5.6"/><circle cx="1679.1" cy="511.9" r="5.6"/><circle cx="1666.5" cy="528.4" r="5.6"/><circle cx="1629" cy="550.8" r="5.6"/><circle cx="1661.9" cy="538.4" r="5.6"/><circle cx="1684.5" cy="511.2" r="5.6"/><circle cx="1663.7" cy="542" r="5.6"/><circle cx="1810.5" cy="385.5" r="5.6"/><circle cx="1695.3" cy="502.3" r="5.6"/><circle cx="1764.6" cy="433.5" r="5.6"/><circle cx="1688.2" cy="501.2" r="5.6"/><circle cx="1701.9" cy="492.6" r="5.6"/><circle cx="1663.9" cy="528.5" r="5.6"/><circle cx="1681" cy="514.4" r="5.6"/><circle cx="1736.6" cy="471.5" r="5.6"/><circle cx="1703.8" cy="497.8" r="5.6"/><circle cx="1756.6" cy="439.2" r="5.6"/><circle cx="1589" cy="605.6" r="5.6"/><circle cx="1627.4" cy="563.1" r="5.6"/><circle cx="1830.1" cy="378.2" r="5.6"/><circle cx="1671.9" cy="523.9" r="5.6"/><circle cx="1601.4" cy="593.7" r="5.6"/><circle cx="1842.3" cy="364.3" r="5.6"/><circle cx="1678.5" cy="514.6" r="5.6"/><circle cx="1614.2" cy="583.3" r="5.6"/><circle cx="1669.8" cy="513.3" r="5.6"/><circle cx="1719.6" cy="475.5" r="5.6"/><circle cx="1782.2" cy="422" r="5.6"/><circle cx="1644.8" cy="556.6" r="5.6"/><circle cx="1592.5" cy="596" r="5.6"/><circle cx="1804.5" cy="388.7" r="5.6"/><circle cx="1632.9" cy="547.1" r="5.6"/><circle cx="1653.9" cy="540.1" r="5.6"/><circle cx="1728.7" cy="470.9" r="5.6"/><circle cx="1840.7" cy="346.6" r="5.6"/><circle cx="1659.4" cy="540" r="5.6"/><circle cx="1642.5" cy="547.2" r="5.6"/><circle cx="1622" cy="573.1" r="5.6"/><circle cx="1720.1" cy="485.6" r="5.6"/><circle cx="1750.4" cy="442.5" r="5.6"/><circle cx="1661.6" cy="526.2" r="5.6"/><circle cx="1695.7" cy="503" r="5.6"/><circle cx="1801.9" cy="401" r="5.6"/><circle cx="1747.2" cy="450.5" r="5.6"/><circle cx="1600.7" cy="591.7" r="5.6"/><circle cx="1845.6" cy="359.1" r="5.6"/><circle cx="1689.6" cy="510.7" r="5.6"/><circle cx="1650" cy="553.1" r="5.6"/><circle cx="1573.2" cy="613.6" r="5.6"/><circle cx="1779.6" cy="420.9" r="5.6"/><circle cx="1643.6" cy="559.4" r="5.6"/><circle cx="1680.3" cy="509.2" r="5.6"/><circle cx="1694.6" cy="500.4" r="5.6"/><circle cx="1710.8" cy="478.7" r="5.6"/><circle cx="1660" cy="536.5" r="5.6"/><circle cx="1635.7" cy="555.7" r="5.6"/><circle cx="1775.2" cy="416" r="5.6"/><circle cx="1760.6" cy="444.8" r="5.6"/><circle cx="1782" cy="421.1" r="5.6"/><circle cx="1651" cy="536.8" r="5.6"/><circle cx="1773.3" cy="421.9" r="5.6"/><circle cx="1635.4" cy="559.5" r="5.6"/><circle cx="1771.4" cy="417.7" r="5.6"/><circle cx="1738.6" cy="465.6" r="5.6"/><circle cx="1579.7" cy="608.9" r="5.6"/><circle cx="1741.8" cy="461.5" r="5.6"/><circle cx="1633.9" cy="565.5" r="5.6"/><circle cx="1649.8" cy="532.9" r="5.6"/><circle cx="1755.4" cy="432.4" r="5.6"/><circle cx="1776.3" cy="420.4" r="5.6"/><circle cx="1859.3" cy="343.7" r="5.6"/><circle cx="1763.7" cy="424.9" r="5.6"/><circle cx="1720.6" cy="477.8" r="5.6"/><circle cx="1828.3" cy="366.5" r="5.6"/><circle cx="1784" cy="410.9" r="5.6"/><circle cx="1682.9" cy="510.6" r="5.6"/><circle cx="1653.7" cy="542.5" r="5.6"/><circle cx="1731.9" cy="461.9" r="5.6"/><circle cx="1606.3" cy="595.3" r="5.6"/><circle cx="1824.5" cy="381.7" r="5.6"/><circle cx="1660.6" cy="521.3" r="5.6"/><circle cx="1662.2" cy="535.4" r="5.6"/><circle cx="1854.6" cy="357.1" r="5.6"/><circle cx="1689.7" cy="507.2" r="5.6"/><circle cx="1679.9" cy="519.1" r="5.6"/><circle cx="1591.4" cy="606.2" r="5.6"/><circle cx="1712.1" cy="480.3" r="5.6"/><circle cx="1695.9" cy="484.6" r="5.6"/><circle cx="1574.1" cy="629.3" r="5.6"/><circle cx="1590.1" cy="592.9" r="5.6"/><circle cx="1710.8" cy="495.3" r="5.6"/><circle cx="1668.2" cy="532.6" r="5.6"/><circle cx="1629.8" cy="566.8" r="5.6"/><circle cx="1623.3" cy="586.4" r="5.6"/><circle cx="1614.4" cy="578.5" r="5.6"/><circle cx="1669.6" cy="528" r="5.6"/><circle cx="1753.4" cy="442" r="5.6"/><circle cx="1633.4" cy="566.1" r="5.6"/><circle cx="1640.9" cy="559.5" r="5.6"/><circle cx="1730.7" cy="468.7" r="5.6"/><circle cx="1822.2" cy="379.5" r="5.6"/><circle cx="1791.7" cy="407.9" r="5.6"/><circle cx="1743.6" cy="458.8" r="5.6"/><circle cx="1584.3" cy="601.1" r="5.6"/><circle cx="1592.1" cy="604.4" r="5.6"/><circle cx="1750.9" cy="449.9" r="5.6"/><circle cx="1655.6" cy="545" r="5.6"/><circle cx="1704.6" cy="486.7" r="5.6"/><circle cx="1780.6" cy="418.8" r="5.6"/><circle cx="1608.9" cy="587.6" r="5.6"/><circle cx="1716.1" cy="483.5" r="5.6"/><circle cx="1749.9" cy="449.2" r="5.6"/><circle cx="1576.3" cy="627.3" r="5.6"/><circle cx="1748.5" cy="449.7" r="5.6"/><circle cx="1743.7" cy="451.5" r="5.6"/><circle cx="1827.5" cy="372.2" r="5.6"/><circle cx="1689.8" cy="501.4" r="5.6"/><circle cx="1719.9" cy="467.8" r="5.6"/><circle cx="1781.4" cy="419.8" r="5.6"/><circle cx="1659.5" cy="535.6" r="5.6"/><circle cx="1751.1" cy="453.3" r="5.6"/><circle cx="1853.4" cy="351.8" r="5.6"/><circle cx="1629.3" cy="561.3" r="5.6"/><circle cx="1732.3" cy="469" r="5.6"/><circle cx="1737.3" cy="455.8" r="5.6"/><circle cx="1604.6" cy="580.3" r="5.6"/><circle cx="1795.3" cy="406" r="5.6"/><circle cx="1617.7" cy="580.1" r="5.6"/><circle cx="1724.4" cy="469.2" r="5.6"/><circle cx="1724.7" cy="490.8" r="5.6"/><circle cx="1763.7" cy="433.2" r="5.6"/><circle cx="1690.8" cy="504.5" r="5.6"/><circle cx="1649.7" cy="546.5" r="5.6"/><circle cx="1618.6" cy="577.4" r="5.6"/><circle cx="1809.6" cy="397.1" r="5.6"/><circle cx="1779.4" cy="415.2" r="5.6"/><circle cx="1668.1" cy="525.6" r="5.6"/><circle cx="1722.7" cy="476.1" r="5.6"/><circle cx="1774.6" cy="416" r="5.6"/><circle cx="1658.4" cy="535.3" r="5.6"/><circle cx="1777.3" cy="421.4" r="5.6"/><circle cx="1732.8" cy="462.5" r="5.6"/><circle cx="1574.2" cy="622.1" r="5.6"/><circle cx="1674.8" cy="522.7" r="5.6"/><circle cx="1657.4" cy="538.5" r="5.6"/><circle cx="1608.1" cy="585.4" r="5.6"/><circle cx="1693.1" cy="509" r="5.6"/><circle cx="1804.1" cy="398" r="5.6"/><circle cx="1665.9" cy="530.4" r="5.6"/><circle cx="1807" cy="391.8" r="5.6"/><circle cx="1660" cy="530.7" r="5.6"/><circle cx="1761.4" cy="434.6" r="5.6"/><circle cx="1675" cy="532.6" r="5.6"/><circle cx="1673.9" cy="523.5" r="5.6"/><circle cx="1590.8" cy="608.7" r="5.6"/><circle cx="1774.7" cy="423.1" r="5.6"/><circle cx="1784.4" cy="418.1" r="5.6"/><circle cx="1682.7" cy="518.2" r="5.6"/><circle cx="1686" cy="516.1" r="5.6"/><circle cx="1747" cy="456.1" r="5.6"/><circle cx="1734.4" cy="465.8" r="5.6"/><circle cx="1705.9" cy="492.6" r="5.6"/><circle cx="1753.9" cy="440.5" r="5.6"/><circle cx="1579.9" cy="621.5" r="5.6"/><circle cx="1650.5" cy="544.2" r="5.6"/><circle cx="1728.7" cy="479.8" r="5.6"/><circle cx="1732.5" cy="468.9" r="5.6"/><circle cx="1740" cy="450.7" r="5.6"/><circle cx="1597.3" cy="602.8" r="5.6"/><circle cx="1840.5" cy="360.2" r="5.6"/><circle cx="1658.4" cy="541.4" r="5.6"/><circle cx="1737.8" cy="453.2" r="5.6"/><circle cx="1676.3" cy="518.8" r="5.6"/><circle cx="1765.7" cy="428.6" r="5.6"/><circle cx="1773" cy="424" r="5.6"/><circle cx="1622.3" cy="572.7" r="5.6"/><circle cx="1710.6" cy="486.2" r="5.6"/><circle cx="1693.7" cy="504.6" r="5.6"/><circle cx="1755.3" cy="452.7" r="5.6"/><circle cx="1590" cy="608.8" r="5.6"/><circle cx="1701.1" cy="506.1" r="5.6"/><circle cx="1654.5" cy="541.8" r="5.6"/><circle cx="1641.7" cy="569" r="5.6"/><circle cx="1673.6" cy="527.4" r="5.6"/><circle cx="1731" cy="472.3" r="5.6"/><circle cx="1710.9" cy="495.2" r="5.6"/><circle cx="1764.9" cy="437.9" r="5.6"/><circle cx="1715.8" cy="481.3" r="5.6"/><circle cx="1740.8" cy="457.2" r="5.6"/><circle cx="1679.1" cy="528.7" r="5.6"/><circle cx="1707.7" cy="485.6" r="5.6"/><circle cx="1727.2" cy="473.1" r="5.6"/><circle cx="1793.5" cy="405.1" r="5.6"/><circle cx="1777" cy="425.7" r="5.6"/><circle cx="1682.2" cy="509.8" r="5.6"/><circle cx="1575.7" cy="611.8" r="5.6"/><circle cx="1686.4" cy="511.7" r="5.6"/><circle cx="1773.5" cy="437.9" r="5.6"/><circle cx="1758.9" cy="442.8" r="5.6"/><circle cx="1618.4" cy="567.8" r="5.6"/><circle cx="1645.5" cy="544.9" r="5.6"/><circle cx="1622.8" cy="565.4" r="5.6"/><circle cx="1857.6" cy="339.3" r="5.6"/><circle cx="1744.9" cy="453.5" r="5.6"/><circle cx="1686.5" cy="501.2" r="5.6"/><circle cx="1662.6" cy="535.1" r="5.6"/><circle cx="1726" cy="479" r="5.6"/><circle cx="1666.2" cy="520" r="5.6"/><circle cx="1677.9" cy="521.9" r="5.6"/><circle cx="1630.9" cy="557.6" r="5.6"/><circle cx="1681.3" cy="523.3" r="5.6"/><circle cx="1617.5" cy="582.3" r="5.6"/><circle cx="1814.3" cy="389.4" r="5.6"/><circle cx="1757.9" cy="439.8" r="5.6"/><circle cx="1605.5" cy="586.8" r="5.6"/><circle cx="1673.1" cy="523.8" r="5.6"/><circle cx="1675.7" cy="517.8" r="5.6"/><circle cx="1827.2" cy="374.8" r="5.6"/><circle cx="1739" cy="458.5" r="5.6"/><circle cx="1759.3" cy="441.8" r="5.6"/><circle cx="1686.6" cy="516.4" r="5.6"/><circle cx="1646.1" cy="542.4" r="5.6"/><circle cx="1657" cy="546" r="5.6"/><circle cx="1820.4" cy="368.7" r="5.6"/><circle cx="1707.1" cy="484.3" r="5.6"/><circle cx="1719" cy="478.5" r="5.6"/><circle cx="1584.5" cy="604.6" r="5.6"/><circle cx="1803.4" cy="402.5" r="5.6"/><circle cx="1759.5" cy="440.5" r="5.6"/><circle cx="1720.2" cy="479.3" r="5.6"/><circle cx="1594.9" cy="598" r="5.6"/><circle cx="1754.7" cy="456.8" r="5.6"/><circle cx="1594.6" cy="615.6" r="5.6"/><circle cx="1921.2" cy="263.2" r="5.6"/><circle cx="1928.9" cy="261.5" r="5.6"/><circle cx="1896.6" cy="280.9" r="5.6"/><circle cx="1909.9" cy="278.8" r="5.6"/><circle cx="1910.3" cy="279" r="5.6"/><circle cx="1925.7" cy="286.7" r="5.6"/><circle cx="1905.3" cy="298.9" r="5.6"/><circle cx="1876.2" cy="303.7" r="5.6"/><circle cx="1874.1" cy="306.3" r="5.6"/><circle cx="1872.5" cy="311.6" r="5.6"/><circle cx="1875.1" cy="304.7" r="5.6"/><circle cx="1877.8" cy="331.2" r="5.6"/><circle cx="1495.7" cy="713" r="5.6"/><circle cx="1503.1" cy="711.5" r="5.6"/><circle cx="1495.7" cy="701.9" r="5.6"/><circle cx="1498.8" cy="686.5" r="5.6"/><circle cx="1505.2" cy="689.2" r="5.6"/><circle cx="1519" cy="675.4" r="5.6"/><circle cx="1523.7" cy="672.2" r="5.6"/><circle cx="1537.5" cy="668.5" r="5.6"/><circle cx="1537" cy="668" r="5.6"/><circle cx="1547.1" cy="643.6" r="5.6"/><circle cx="1546" cy="661.6" r="5.6"/><circle cx="1546.5" cy="661.1" r="5.6"/><circle cx="1559.3" cy="666.9" r="5.6"/><circle cx="1552.4" cy="653.1" r="5.6"/><circle cx="1552.9" cy="653.7" r="5.6"/><circle cx="1543.9" cy="648.9" r="5.6"/><circle cx="1526.9" cy="653.1" r="5.6"/><circle cx="1583.6" cy="593.3" r="5.6"/><circle cx="1583.1" cy="593.8" r="5.6"/><circle cx="1705.2" cy="518.9" r="5.6"/><circle cx="1715.5" cy="506.5" r="5.6"/><circle cx="1690.8" cy="525" r="5.6"/><circle cx="1653.8" cy="562.1" r="5.6"/><circle cx="1645.6" cy="568.2" r="5.6"/><circle cx="1799.9" cy="413.9" r="5.6"/><circle cx="1826.6" cy="383.1" r="5.6"/><circle cx="1843.1" cy="370.7" r="5.6"/><circle cx="1777.2" cy="438.6" r="5.6"/><circle cx="1602.4" cy="576.5" r="5.6"/><circle cx="1583.9" cy="592.9" r="5.6"/></g>
<g fill="#008000" fill-opacity="0.2" stroke="#008000" stroke-opacity="0.25" stroke-width="1.4"><path d="M1772 436.5l6 -11.6h-12z"/><path d="M1802.3 404.6l6 -11.6h-12z"/><path d="M1781.3 432.9l6 -11.6h-12z"/><path d="M1804.5 410.3l6 -11.6h-12z"/><path d="M1677.8 522l6 -11.6h-12z"/><path d="M1677.4 521.5l6 -11.6h-12z"/><path d="M1784.6 421.9l6 -11.6h-12z"/><path d="M1610.4 592.5l6 -11.6h-12z"/><path d="M1741.9 460.8l6 -11.6h-12z"/><path d="M1691 505.4l6 -11.6h-12z"/><path d="M1658 538.4l6 -11.6h-12z"/><path d="M1673.8 527.6l6 -11.6h-12z"/><path d="M1657.9 543.5l6 -11.6h-12z"/><path d="M1786.2 422.3l6 -11.6h-12z"/><path d="M1700.9 511.6l6 -11.6h-12z"/><path d="M1618 585.4l6 -11.6h-12z"/><path d="M1770.2 438.5l6 -11.6h-12z"/><path d="M1771.5 431.7l6 -11.6h-12z"/><path d="M1752.4 460.8l6 -11.6h-12z"/><path d="M1735.9 463l6 -11.6h-12z"/><path d="M1621 583.5l6 -11.6h-12z"/><path d="M1732.9 465l6 -11.6h-12z"/><path d="M1682.4 526.1l6 -11.6h-12z"/><path d="M1649.1 556.4l6 -11.6h-12z"/><path d="M1740.5 470.7l6 -11.6h-12z"/><path d="M1806.2 398.7l6 -11.6h-12z"/><path d="M1740.7 474.7l6 -11.6h-12z"/><path d="M1609.3 607.1l6 -11.6h-12z"/><path d="M1706.5 502.3l6 -11.6h-12z"/><path d="M1599 596.1l6 -11.6h-12z"/><path d="M1709 482.4l6 -11.6h-12z"/><path d="M1842.5 373.2l6 -11.6h-12z"/><path d="M1767.5 444.8l6 -11.6h-12z"/><path d="M1584.1 617.5l6 -11.6h-12z"/><path d="M1633.1 570l6 -11.6h-12z"/><path d="M1628.8 570.5l6 -11.6h-12z"/><path d="M1646 558.2l6 -11.6h-12z"/><path d="M1689.2 523.3l6 -11.6h-12z"/><path d="M1660.1 542.4l6 -11.6h-12z"/><path d="M1789 427.2l6 -11.6h-12z"/><path d="M1664.4 536.3l6 -11.6h-12z"/><path d="M1691 511.3l6 -11.6h-12z"/><path d="M1819.5 388.1l6 -11.6h-12z"/><path d="M1682.2 519.3l6 -11.6h-12z"/><path d="M1768.4 445.2l6 -11.6h-12z"/><path d="M1856 355.8l6 -11.6h-12z"/><path d="M1805 394.8l6 -11.6h-12z"/><path d="M1745.2 451.8l6 -11.6h-12z"/><path d="M1663.4 537.8l6 -11.6h-12z"/><path d="M1803.4 407.5l6 -11.6h-12z"/><path d="M1697.6 510.7l6 -11.6h-12z"/><path d="M1701.9 495.7l6 -11.6h-12z"/><path d="M1736 461l6 -11.6h-12z"/><path d="M1684.3 517.5l6 -11.6h-12z"/><path d="M1780.6 426.1l6 -11.6h-12z"/><path d="M1758.1 451.1l6 -11.6h-12z"/><path d="M1662 545.3l6 -11.6h-12z"/><path d="M1695.9 510.6l6 -11.6h-12z"/><path d="M1706.1 504.6l6 -11.6h-12z"/><path d="M1719.5 476.7l6 -11.6h-12z"/><path d="M1649.4 541.5l6 -11.6h-12z"/><path d="M1628.9 586.1l6 -11.6h-12z"/><path d="M1622.6 570.7l6 -11.6h-12z"/><path d="M1581.8 620.2l6 -11.6h-12z"/><path d="M1740.1 480.1l6 -11.6h-12z"/><path d="M1682.2 511.5l6 -11.6h-12z"/><path d="M1686.9 521.8l6 -11.6h-12z"/><path d="M1822.4 387.6l6 -11.6h-12z"/><path d="M1641.8 551.2l6 -11.6h-12z"/><path d="M1727 486.2l6 -11.6h-12z"/><path d="M1799.1 404.3l6 -11.6h-12z"/><path d="M1631.9 561.8l6 -11.6h-12z"/><path d="M1829.2 384.8l6 -11.6h-12z"/><path d="M1705.7 501.8l6 -11.6h-12z"/><path d="M1660.2 536.2l6 -11.6h-12z"/><path d="M1745.7 454.7l6 -11.6h-12z"/><path d="M1675.9 520.8l6 -11.6h-12z"/><path d="M1758.3 454.3l6 -11.6h-12z"/><path d="M1582.2 631.3l6 -11.6h-12z"/><path d="M1727.4 479.1l6 -11.6h-12z"/><path d="M1758.8 447.1l6 -11.6h-12z"/><path d="M1680.3 520.2l6 -11.6h-12z"/><path d="M1683.7 516.5l6 -11.6h-12z"/><path d="M1628.9 578.8l6 -11.6h-12z"/><path d="M1779.7 416.5l6 -11.6h-12z"/><path d="M1676.6 527.3l6 -11.6h-12z"/><path d="M1818.6 401.2l6 -11.6h-12z"/><path d="M1666 535.8l6 -11.6h-12z"/><path d="M1693.4 503.3l6 -11.6h-12z"/><path d="M1686 511.5l6 -11.6h-12z"/><path d="M1603.2 592.3l6 -11.6h-12z"/><path d="M1757.5 453.2l6 -11.6h-12z"/><path d="M1713.6 485.2l6 -11.6h-12z"/><path d="M1695.9 505.1l6 -11.6h-12z"/><path d="M1683.2 517.7l6 -11.6h-12z"/><path d="M1736.7 472.7l6 -11.6h-12z"/><path d="M1682 520.7l6 -11.6h-12z"/><path d="M1620.6 573.7l6 -11.6h-12z"/><path d="M1752.5 453.9l6 -11.6h-12z"/><path d="M1775 441.4l6 -11.6h-12z"/><path d="M1783.2 421.2l6 -11.6h-12z"/><path d="M1652.9 532.8l6 -11.6h-12z"/><path d="M1576.9 630.5l6 -11.6h-12z"/><path d="M1726.2 479.4l6 -11.6h-12z"/><path d="M1764.2 443.1l6 -11.6h-12z"/><path d="M1827.1 382.6l6 -11.6h-12z"/><path d="M1681.5 534.4l6 -11.6h-12z"/><path d="M1664.8 534.3l6 -11.6h-12z"/><path d="M1671.2 534.9l6 -11.6h-12z"/><path d="M1746.6 463.9l6 -11.6h-12z"/><path d="M1690.4 512.6l6 -11.6h-12z"/><path d="M1718.5 486.7l6 -11.6h-12z"/><path d="M1691.1 512.3l6 -11.6h-12z"/><path d="M1668.4 529.5l6 -11.6h-12z"/><path d="M1784.9 421.7l6 -11.6h-12z"/><path d="M1713.8 505l6 -11.6h-12z"/><path d="M1806.2 402.5l6 -11.6h-12z"/><path d="M1739.7 466.4l6 -11.6h-12z"/><path d="M1753.9 457.3l6 -11.6h-12z"/><path d="M1676.8 517.7l6 -11.6h-12z"/><path d="M1580.1 620.5l6 -11.6h-12z"/><path d="M1742.8 466l6 -11.6h-12z"/><path d="M1586.8 606.3l6 -11.6h-12z"/><path d="M1767.4 439l6 -11.6h-12z"/><path d="M1813.5 391.3l6 -11.6h-12z"/><path d="M1658.6 533.7l6 -11.6h-12z"/><path d="M1580.5 626.8l6 -11.6h-12z"/><path d="M1688.5 519.1l6 -11.6h-12z"/><path d="M1803.7 410.6l6 -11.6h-12z"/><path d="M1786 419.2l6 -11.6h-12z"/><path d="M1706.6 496.7l6 -11.6h-12z"/><path d="M1625.9 590.7l6 -11.6h-12z"/><path d="M1792.7 414.2l6 -11.6h-12z"/><path d="M1754.9 456.6l6 -11.6h-12z"/><path d="M1678.3 522.7l6 -11.6h-12z"/><path d="M1586.5 605.5l6 -11.6h-12z"/><path d="M1798.4 411.9l6 -11.6h-12z"/><path d="M1736.9 465.3l6 -11.6h-12z"/><path d="M1729.9 462l6 -11.6h-12z"/><path d="M1689.5 520.9l6 -11.6h-12z"/><path d="M1731.4 477.1l6 -11.6h-12z"/><path d="M1571.9 630.5l6 -11.6h-12z"/><path d="M1737.3 472l6 -11.6h-12z"/><path d="M1602.9 595l6 -11.6h-12z"/><path d="M1594.7 598l6 -11.6h-12z"/><path d="M1668.8 536.7l6 -11.6h-12z"/><path d="M1686.7 512.7l6 -11.6h-12z"/><path d="M1716.1 480.7l6 -11.6h-12z"/><path d="M1769.4 433.2l6 -11.6h-12z"/><path d="M1643.2 562.7l6 -11.6h-12z"/><path d="M1769.8 437.5l6 -11.6h-12z"/><path d="M1764 441.8l6 -11.6h-12z"/><path d="M1710.8 491.7l6 -11.6h-12z"/><path d="M1773.9 436.6l6 -11.6h-12z"/><path d="M1750 469.8l6 -11.6h-12z"/><path d="M1775.6 433.9l6 -11.6h-12z"/><path d="M1787 420.7l6 -11.6h-12z"/><path d="M1747 457.4l6 -11.6h-12z"/><path d="M1681.6 527.8l6 -11.6h-12z"/><path d="M1610.4 593.3l6 -11.6h-12z"/><path d="M1674.7 526.6l6 -11.6h-12z"/><path d="M1722.3 486.9l6 -11.6h-12z"/><path d="M1745.3 454.7l6 -11.6h-12z"/><path d="M1792.1 425.3l6 -11.6h-12z"/><path d="M1804.5 405.8l6 -11.6h-12z"/><path d="M1775.4 419.8l6 -11.6h-12z"/><path d="M1844.1 365.3l6 -11.6h-12z"/><path d="M1710.6 491.5l6 -11.6h-12z"/><path d="M1650.2 552.5l6 -11.6h-12z"/><path d="M1748.6 461.9l6 -11.6h-12z"/><path d="M1696.7 499.9l6 -11.6h-12z"/><path d="M1612.4 589.9l6 -11.6h-12z"/><path d="M1604.4 600.4l6 -11.6h-12z"/><path d="M1701.3 508.5l6 -11.6h-12z"/><path d="M1792.7 426.1l6 -11.6h-12z"/><path d="M1734.3 465.2l6 -11.6h-12z"/><path d="M1722.2 485.7l6 -11.6h-12z"/><path d="M1780.4 426.1l6 -11.6h-12z"/><path d="M1682.2 525.5l6 -11.6h-12z"/><path d="M1732.7 459.9l6 -11.6h-12z"/><path d="M1760.1 439.2l6 -11.6h-12z"/><path d="M1778 423.6l6 -11.6h-12z"/><path d="M1856.9 359.7l6 -11.6h-12z"/><path d="M1581.5 618.2l6 -11.6h-12z"/><path d="M1802.6 405.5l6 -11.6h-12z"/><path d="M1698.3 497.4l6 -11.6h-12z"/><path d="M1718.3 480.3l6 -11.6h-12z"/><path d="M1744.8 453.3l6 -11.6h-12z"/><path d="M1778.4 427.2l6 -11.6h-12z"/><path d="M1687 518.7l6 -11.6h-12z"/><path d="M1623.8 577.6l6 -11.6h-12z"/><path d="M1696.7 504.3l6 -11.6h-12z"/><path d="M1660.2 543.6l6 -11.6h-12z"/><path d="M1684.7 506.9l6 -11.6h-12z"/><path d="M1722.8 480.8l6 -11.6h-12z"/><path d="M1765 439.6l6 -11.6h-12z"/><path d="M1648.5 550.7l6 -11.6h-12z"/><path d="M1690.1 510.5l6 -11.6h-12z"/><path d="M1820.4 386.9l6 -11.6h-12z"/><path d="M1839.9 366.8l6 -11.6h-12z"/><path d="M1632 576.9l6 -11.6h-12z"/><path d="M1802.3 403.3l6 -11.6h-12z"/><path d="M1764.2 458.4l6 -11.6h-12z"/><path d="M1650.3 555.1l6 -11.6h-12z"/><path d="M1567.2 629.7l6 -11.6h-12z"/><path d="M1637.1 567l6 -11.6h-12z"/><path d="M1801.8 410.5l6 -11.6h-12z"/><path d="M1824.8 383l6 -11.6h-12z"/><path d="M1709.9 487.6l6 -11.6h-12z"/><path d="M1651.5 551.2l6 -11.6h-12z"/><path d="M1640.4 565.3l6 -11.6h-12z"/><path d="M1743.5 464.8l6 -11.6h-12z"/><path d="M1771.9 440.9l6 -11.6h-12z"/><path d="M1761.4 441.6l6 -11.6h-12z"/><path d="M1816 387.6l6 -11.6h-12z"/><path d="M1762.2 461.3l6 -11.6h-12z"/><path d="M1675.2 537.6l6 -11.6h-12z"/><path d="M1781.9 426.8l6 -11.6h-12z"/><path d="M1803.3 402.5l6 -11.6h-12z"/><path d="M1797.9 414l6 -11.6h-12z"/><path d="M1613.4 590.2l6 -11.6h-12z"/><path d="M1731 467.1l6 -11.6h-12z"/><path d="M1677.1 514.6l6 -11.6h-12z"/><path d="M1743 461.4l6 -11.6h-12z"/><path d="M1587.7 606.1l6 -11.6h-12z"/><path d="M1840.1 364.8l6 -11.6h-12z"/><path d="M1755.7 452.7l6 -11.6h-12z"/><path d="M1789.5 409.6l6 -11.6h-12z"/><path d="M1844.4 371l6 -11.6h-12z"/><path d="M1752.5 450.5l6 -11.6h-12z"/><path d="M1702.3 500.3l6 -11.6h-12z"/><path d="M1578.9 621.9l6 -11.6h-12z"/><path d="M1771.3 428.8l6 -11.6h-12z"/><path d="M1687.3 514l6 -11.6h-12z"/><path d="M1843.9 362.4l6 -11.6h-12z"/><path d="M1764.9 439.2l6 -11.6h-12z"/><path d="M1669.3 532.6l6 -11.6h-12z"/><path d="M1651.5 544.3l6 -11.6h-12z"/><path d="M1620 579.1l6 -11.6h-12z"/><path d="M1649.6 549.4l6 -11.6h-12z"/><path d="M1852.9 347.3l6 -11.6h-12z"/><path d="M1693.3 509.4l6 -11.6h-12z"/><path d="M1747.4 457.8l6 -11.6h-12z"/><path d="M1571.5 627l6 -11.6h-12z"/><path d="M1608.9 590.4l6 -11.6h-12z"/><path d="M1721.2 478.5l6 -11.6h-12z"/><path d="M1577.6 623.3l6 -11.6h-12z"/><path d="M1656.7 539.7l6 -11.6h-12z"/><path d="M1670.4 541.7l6 -11.6h-12z"/><path d="M1736 476.3l6 -11.6h-12z"/><path d="M1651.2 550l6 -11.6h-12z"/><path d="M1684.2 507.3l6 -11.6h-12z"/><path d="M1825.4 380.8l6 -11.6h-12z"/><path d="M1769.8 438.1l6 -11.6h-12z"/><path d="M1811.6 397.4l6 -11.6h-12z"/><path d="M1609.9 585.2l6 -11.6h-12z"/><path d="M1798 403.6l6 -11.6h-12z"/><path d="M1784.9 435.9l6 -11.6h-12z"/><path d="M1715.6 489l6 -11.6h-12z"/><path d="M1654.5 545.8l6 -11.6h-12z"/><path d="M1667.1 538l6 -11.6h-12z"/><path d="M1710.9 502l6 -11.6h-12z"/><path d="M1766.7 440.2l6 -11.6h-12z"/><path d="M1720.9 481.5l6 -11.6h-12z"/><path d="M1807.8 398.2l6 -11.6h-12z"/><path d="M1778 431.7l6 -11.6h-12z"/><path d="M1750.8 448l6 -11.6h-12z"/><path d="M1708.3 500.7l6 -11.6h-12z"/><path d="M1647.6 554.4l6 -11.6h-12z"/><path d="M1755.6 443.2l6 -11.6h-12z"/><path d="M1851.9 349.2l6 -11.6h-12z"/><path d="M1744.6 470.7l6 -11.6h-12z"/><path d="M1596.3 600.2l6 -11.6h-12z"/><path d="M1655.9 548.1l6 -11.6h-12z"/><path d="M1793.2 412.2l6 -11.6h-12z"/><path d="M1813.1 403.7l6 -11.6h-12z"/><path d="M1838.8 371.5l6 -11.6h-12z"/><path d="M1697 511.4l6 -11.6h-12z"/><path d="M1696.3 509.4l6 -11.6h-12z"/><path d="M1765.4 436.9l6 -11.6h-12z"/><path d="M1685.4 519.8l6 -11.6h-12z"/><path d="M1685.9 509l6 -11.6h-12z"/><path d="M1794.6 406.5l6 -11.6h-12z"/><path d="M1803.9 405.9l6 -11.6h-12z"/><path d="M1715.1 490.2l6 -11.6h-12z"/><path d="M1610.5 587.7l6 -11.6h-12z"/><path d="M1642.1 567.3l6 -11.6h-12z"/><path d="M1633.1 570.7l6 -11.6h-12z"/><path d="M1617.6 586.9l6 -11.6h-12z"/><path d="M1772.3 438.5l6 -11.6h-12z"/><path d="M1646.1 561.9l6 -11.6h-12z"/><path d="M1746.2 448.9l6 -11.6h-12z"/><path d="M1681.8 515.8l6 -11.6h-12z"/><path d="M1700.5 492.2l6 -11.6h-12z"/><path d="M1722.2 492.5l6 -11.6h-12z"/><path d="M1710.7 488.8l6 -11.6h-12z"/><path d="M1686.5 518.1l6 -11.6h-12z"/><path d="M1580.2 624.2l6 -11.6h-12z"/><path d="M1805.2 404.5l6 -11.6h-12z"/><path d="M1749.3 457l6 -11.6h-12z"/><path d="M1847.9 358.1l6 -11.6h-12z"/><path d="M1663.2 546.9l6 -11.6h-12z"/><path d="M1676.5 513.5l6 -11.6h-12z"/><path d="M1636.9 579l6 -11.6h-12z"/><path d="M1666.8 536.3l6 -11.6h-12z"/><path d="M1688.8 511.2l6 -11.6h-12z"/><path d="M1642.4 559.1l6 -11.6h-12z"/><path d="M1659.9 531.9l6 -11.6h-12z"/><path d="M1624.1 583l6 -11.6h-12z"/><path d="M1595.6 619l6 -11.6h-12z"/><path d="M1730.4 476.7l6 -11.6h-12z"/><path d="M1734.2 472l6 -11.6h-12z"/><path d="M1602.1 605.3l6 -11.6h-12z"/><path d="M1707.8 501.3l6 -11.6h-12z"/><path d="M1625.7 576.2l6 -11.6h-12z"/><path d="M1773.9 431.7l6 -11.6h-12z"/><path d="M1699.7 504.8l6 -11.6h-12z"/><path d="M1742.3 466l6 -11.6h-12z"/><path d="M1844.4 360.1l6 -11.6h-12z"/><path d="M1660.1 545.3l6 -11.6h-12z"/><path d="M1708.6 497.7l6 -11.6h-12z"/><path d="M1819.4 395.3l6 -11.6h-12z"/><path d="M1593.7 598.2l6 -11.6h-12z"/><path d="M1833.9 375.8l6 -11.6h-12z"/><path d="M1672.2 536.9l6 -11.6h-12z"/><path d="M1671.4 522.7l6 -11.6h-12z"/><path d="M1741.7 461.6l6 -11.6h-12z"/><path d="M1702.7 495.5l6 -11.6h-12z"/><path d="M1607.1 585.9l6 -11.6h-12z"/><path d="M1694.3 517.5l6 -11.6h-12z"/><path d="M1784.4 427.2l6 -11.6h-12z"/><path d="M1807.9 402.3l6 -11.6h-12z"/><path d="M1645.5 557.9l6 -11.6h-12z"/><path d="M1790.5 431.8l6 -11.6h-12z"/><path d="M1652.5 542.6l6 -11.6h-12z"/><path d="M1718.1 485l6 -11.6h-12z"/><path d="M1746.1 459.5l6 -11.6h-12z"/><path d="M1758 448.6l6 -11.6h-12z"/><path d="M1697.5 514.7l6 -11.6h-12z"/><path d="M1812 403.4l6 -11.6h-12z"/><path d="M1683.4 529.4l6 -11.6h-12z"/><path d="M1621.2 581.2l6 -11.6h-12z"/><path d="M1728.6 491.1l6 -11.6h-12z"/><path d="M1790.3 408.4l6 -11.6h-12z"/><path d="M1811.6 391.8l6 -11.6h-12z"/><path d="M1731 480.6l6 -11.6h-12z"/><path d="M1761.6 438.7l6 -11.6h-12z"/><path d="M1649.4 556.9l6 -11.6h-12z"/><path d="M1689 510.5l6 -11.6h-12z"/><path d="M1629.6 570.9l6 -11.6h-12z"/><path d="M1706 492.3l6 -11.6h-12z"/><path d="M1788.3 414.9l6 -11.6h-12z"/><path d="M1673.7 538l6 -11.6h-12z"/><path d="M1652.2 551.5l6 -11.6h-12z"/><path d="M1722.6 476.5l6 -11.6h-12z"/><path d="M1688.7 516.6l6 -11.6h-12z"/><path d="M1842.7 362.3l6 -11.6h-12z"/><path d="M1616.6 582.2l6 -11.6h-12z"/><path d="M1742.6 472.1l6 -11.6h-12z"/><path d="M1791.9 415.8l6 -11.6h-12z"/><path d="M1805 399.8l6 -11.6h-12z"/><path d="M1678.9 531.7l6 -11.6h-12z"/><path d="M1835.4 373.7l6 -11.6h-12z"/><path d="M1657.1 555.8l6 -11.6h-12z"/><path d="M1625.4 579.6l6 -11.6h-12z"/><path d="M1708.9 495.3l6 -11.6h-12z"/><path d="M1607.8 586.6l6 -11.6h-12z"/><path d="M1643.5 556.8l6 -11.6h-12z"/><path d="M1573.4 626.2l6 -11.6h-12z"/><path d="M1667.8 535l6 -11.6h-12z"/><path d="M1816.7 400.1l6 -11.6h-12z"/><path d="M1779.1 428.3l6 -11.6h-12z"/><path d="M1577.2 621.9l6 -11.6h-12z"/><path d="M1758.4 453.5l6 -11.6h-12z"/><path d="M1696.1 502.4l6 -11.6h-12z"/><path d="M1853.2 365l6 -11.6h-12z"/><path d="M1743.1 463l6 -11.6h-12z"/><path d="M1726.4 477.1l6 -11.6h-12z"/><path d="M1759.8 447.2l6 -11.6h-12z"/><path d="M1653.8 546.1l6 -11.6h-12z"/><path d="M1687.4 519.3l6 -11.6h-12z"/><path d="M1650.2 551.8l6 -11.6h-12z"/><path d="M1676.6 518.7l6 -11.6h-12z"/><path d="M1744.3 456.3l6 -11.6h-12z"/><path d="M1717.1 494.2l6 -11.6h-12z"/><path d="M1712.9 498.7l6 -11.6h-12z"/><path d="M1620.9 585.8l6 -11.6h-12z"/><path d="M1678.9 530.7l6 -11.6h-12z"/><path d="M1627.1 575.6l6 -11.6h-12z"/><path d="M1568.2 630.3l6 -11.6h-12z"/><path d="M1653 538.8l6 -11.6h-12z"/><path d="M1670.5 536.2l6 -11.6h-12z"/><path d="M1841.4 362l6 -11.6h-12z"/><path d="M1766.7 438.7l6 -11.6h-12z"/><path d="M1643.1 556.3l6 -11.6h-12z"/><path d="M1563.1 624.2l6 -11.6h-12z"/><path d="M1588.8 613.1l6 -11.6h-12z"/><path d="M1629.5 572.5l6 -11.6h-12z"/><path d="M1840.5 384.2l6 -11.6h-12z"/><path d="M1586 612.1l6 -11.6h-12z"/><path d="M1752.5 448.2l6 -11.6h-12z"/><path d="M1684.3 530.8l6 -11.6h-12z"/><path d="M1690.8 510.5l6 -11.6h-12z"/><path d="M1671.5 530.6l6 -11.6h-12z"/><path d="M1744.4 462.4l6 -11.6h-12z"/><path d="M1695.4 513l6 -11.6h-12z"/><path d="M1624.9 580.5l6 -11.6h-12z"/><path d="M1716.2 489.8l6 -11.6h-12z"/><path d="M1584.1 613.5l6 -11.6h-12z"/><path d="M1799.1 411.9l6 -11.6h-12z"/><path d="M1772.7 436.8l6 -11.6h-12z"/><path d="M1777.2 429.1l6 -11.6h-12z"/><path d="M1834.1 373.2l6 -11.6h-12z"/><path d="M1747.8 454.5l6 -11.6h-12z"/><path d="M1703.3 495.2l6 -11.6h-12z"/><path d="M1704.4 489l6 -11.6h-12z"/><path d="M1800.6 415.9l6 -11.6h-12z"/><path d="M1576.2 627.6l6 -11.6h-12z"/><path d="M1735.1 474l6 -11.6h-12z"/><path d="M1667.8 550.4l6 -11.6h-12z"/><path d="M1637.1 568.9l6 -11.6h-12z"/><path d="M1699.9 506.1l6 -11.6h-12z"/><path d="M1761 450.1l6 -11.6h-12z"/><path d="M1770.4 427.1l6 -11.6h-12z"/><path d="M1663.4 542.8l6 -11.6h-12z"/><path d="M1632 563l6 -11.6h-12z"/><path d="M1677.1 527.5l6 -11.6h-12z"/><path d="M1747 463.1l6 -11.6h-12z"/><path d="M1767.9 432.7l6 -11.6h-12z"/><path d="M1709.5 494.7l6 -11.6h-12z"/><path d="M1711.3 496.6l6 -11.6h-12z"/><path d="M1755 444l6 -11.6h-12z"/><path d="M1574.1 619.4l6 -11.6h-12z"/><path d="M1783 418.2l6 -11.6h-12z"/><path d="M1708.2 505.9l6 -11.6h-12z"/><path d="M1807.9 402.5l6 -11.6h-12z"/><path d="M1744.8 459.4l6 -11.6h-12z"/><path d="M1760.8 449.8l6 -11.6h-12z"/><path d="M1811.6 393.7l6 -11.6h-12z"/><path d="M1618.7 579.1l6 -11.6h-12z"/><path d="M1701.6 499l6 -11.6h-12z"/><path d="M1753.2 450.4l6 -11.6h-12z"/><path d="M1748.2 462.9l6 -11.6h-12z"/><path d="M1763.7 435.2l6 -11.6h-12z"/><path d="M1705.4 500.4l6 -11.6h-12z"/><path d="M1736.3 468l6 -11.6h-12z"/><path d="M1856.5 351.9l6 -11.6h-12z"/><path d="M1724.3 484.1l6 -11.6h-12z"/><path d="M1698.9 512.9l6 -11.6h-12z"/><path d="M1635.6 559.1l6 -11.6h-12z"/><path d="M1647.2 554.8l6 -11.6h-12z"/><path d="M1822 383l6 -11.6h-12z"/><path d="M1749.5 456.2l6 -11.6h-12z"/><path d="M1792.3 410.3l6 -11.6h-12z"/><path d="M1836.1 371.6l6 -11.6h-12z"/><path d="M1652 545.9l6 -11.6h-12z"/><path d="M1737.5 474.2l6 -11.6h-12z"/><path d="M1766.4 448l6 -11.6h-12z"/><path d="M1702.6 508.3l6 -11.6h-12z"/><path d="M1602.2 596.8l6 -11.6h-12z"/><path d="M1671.6 533.8l6 -11.6h-12z"/><path d="M1798.4 408.2l6 -11.6h-12z"/><path d="M1816.9 386.9l6 -11.6h-12z"/><path d="M1640.7 554.5l6 -11.6h-12z"/><path d="M1839.3 369.1l6 -11.6h-12z"/><path d="M1664 538.1l6 -11.6h-12z"/><path d="M1773.2 432.9l6 -11.6h-12z"/><path d="M1694.5 510.5l6 -11.6h-12z"/><path d="M1705.6 502.3l6 -11.6h-12z"/><path d="M1575 617.5l6 -11.6h-12z"/><path d="M1681.6 515.2l6 -11.6h-12z"/><path d="M1700.2 494.2l6 -11.6h-12z"/><path d="M1671.5 525l6 -11.6h-12z"/><path d="M1739.8 457.8l6 -11.6h-12z"/><path d="M1686.8 515.8l6 -11.6h-12z"/><path d="M1814.1 401.5l6 -11.6h-12z"/><path d="M1735.4 470.4l6 -11.6h-12z"/><path d="M1700.2 503.4l6 -11.6h-12z"/><path d="M1616 595l6 -11.6h-12z"/><path d="M1687.4 513.5l6 -11.6h-12z"/><path d="M1632.1 570.6l6 -11.6h-12z"/><path d="M1719.7 478.6l6 -11.6h-12z"/><path d="M1777.8 423.6l6 -11.6h-12z"/><path d="M1598.3 605.3l6 -11.6h-12z"/><path d="M1611 582.5l6 -11.6h-12z"/><path d="M1588.6 615.2l6 -11.6h-12z"/><path d="M1648.7 567.7l6 -11.6h-12z"/><path d="M1613.6 587.6l6 -11.6h-12z"/><path d="M1656.2 544l6 -11.6h-12z"/><path d="M1715.1 494.1l6 -11.6h-12z"/><path d="M1723.7 487l6 -11.6h-12z"/><path d="M1835 374.5l6 -11.6h-12z"/><path d="M1713.5 484.8l6 -11.6h-12z"/><path d="M1644.7 550.2l6 -11.6h-12z"/><path d="M1644.4 550.2l6 -11.6h-12z"/><path d="M1577 605.7l6 -11.6h-12z"/><path d="M1727.6 478.2l6 -11.6h-12z"/><path d="M1753.3 446l6 -11.6h-12z"/><path d="M1694.7 514.6l6 -11.6h-12z"/><path d="M1775.2 427.9l6 -11.6h-12z"/><path d="M1856.2 352.4l6 -11.6h-12z"/><path d="M1605.4 595.6l6 -11.6h-12z"/><path d="M1638.1 555.5l6 -11.6h-12z"/><path d="M1728.2 470l6 -11.6h-12z"/><path d="M1839.7 370.5l6 -11.6h-12z"/><path d="M1744.4 460.1l6 -11.6h-12z"/><path d="M1807.8 395.9l6 -11.6h-12z"/><path d="M1797.4 408l6 -11.6h-12z"/><path d="M1731.1 478.5l6 -11.6h-12z"/><path d="M1662.6 527.5l6 -11.6h-12z"/><path d="M1587.9 605.4l6 -11.6h-12z"/><path d="M1631.9 572.3l6 -11.6h-12z"/><path d="M1686.8 529.2l6 -11.6h-12z"/><path d="M1713.5 493.3l6 -11.6h-12z"/><path d="M1778.4 416.4l6 -11.6h-12z"/><path d="M1711.8 484.6l6 -11.6h-12z"/><path d="M1783.5 420.4l6 -11.6h-12z"/><path d="M1649 561.6l6 -11.6h-12z"/><path d="M1700.8 509.9l6 -11.6h-12z"/><path d="M1614.4 584.7l6 -11.6h-12z"/><path d="M1856.6 326.1l6 -11.6h-12z"/><path d="M1870.9 330.3l6 -11.6h-12z"/><path d="M1871.4 329.8l6 -11.6h-12z"/><path d="M1870.3 330.9l6 -11.6h-12z"/><path d="M1882.5 327.1l6 -11.6h-12z"/><path d="M1837 346.2l6 -11.6h-12z"/><path d="M1832.7 355.8l6 -11.6h-12z"/><path d="M1862.4 367.4l6 -11.6h-12z"/><path d="M1512.1 731.8l6 -11.6h-12z"/><path d="M1527.5 700l6 -11.6h-12z"/><path d="M1568.3 659.7l6 -11.6h-12z"/><path d="M1547.1 676.6l6 -11.6h-12z"/><path d="M1544.4 669.7l6 -11.6h-12z"/><path d="M1545 670.3l6 -11.6h-12z"/><path d="M1527.5 659.1l6 -11.6h-12z"/><path d="M1559.8 653.8l6 -11.6h-12z"/><path d="M1559.3 653.3l6 -11.6h-12z"/><path d="M1588.4 640.1l6 -11.6h-12z"/><path d="M1560.9 618.9l6 -11.6h-12z"/><path d="M1505.7 694.1l6 -11.6h-12z"/><path d="M1699.1 479.6l6 -11.6h-12z"/><path d="M1769 413.8l6 -11.6h-12z"/><path d="M1799.9 385.8l6 -11.6h-12z"/><path d="M1810.2 375.5l6 -11.6h-12z"/><path d="M1836.1 345.9l6 -11.6h-12z"/><path d="M1822.5 403.5l6 -11.6h-12z"/><path d="M1588 635.9l6 -11.6h-12z"/><path d="M1561.3 617.4l6 -11.6h-12z"/></g>
<line x1="1571.5" y1="621.1" x2="1851.3" y2="352.5" stroke="#ff0000" stroke-opacity="0.85" stroke-width="17" stroke-linecap="round"/>
<g fill="#ff0000" fill-opacity="0.2" stroke="#ff0000" stroke-opacity="0.25" stroke-width="1.4"><rect x="1747.6" y="446" width="11.4" height="11.4"/><rect x="1759" y="425.9" width="11.4" height="11.4"/><rect x="1676.3" y="510.7" width="11.4" height="11.4"/><rect x="1739.4" y="456.2" width="11.4" height="11.4"/><rect x="1608.5" y="561.8" width="11.4" height="11.4"/><rect x="1620.6" y="557.5" width="11.4" height="11.4"/><rect x="1665.5" y="515" width="11.4" height="11.4"/><rect x="1655.4" y="537.6" width="11.4" height="11.4"/><rect x="1738.6" y="458.1" width="11.4" height="11.4"/><rect x="1747.8" y="445.3" width="11.4" height="11.4"/><rect x="1767.8" y="414.6" width="11.4" height="11.4"/><rect x="1757.6" y="433.2" width="11.4" height="11.4"/><rect x="1598.4" y="580.6" width="11.4" height="11.4"/><rect x="1593.5" y="585.5" width="11.4" height="11.4"/><rect x="1709.3" y="482.4" width="11.4" height="11.4"/><rect x="1698.1" y="492.3" width="11.4" height="11.4"/><rect x="1761.5" y="432" width="11.4" height="11.4"/><rect x="1702.1" y="484.6" width="11.4" height="11.4"/><rect x="1654.5" y="538.1" width="11.4" height="11.4"/><rect x="1739.7" y="440.7" width="11.4" height="11.4"/><rect x="1694.4" y="491" width="11.4" height="11.4"/><rect x="1653.5" y="530.1" width="11.4" height="11.4"/><rect x="1724.1" y="474.9" width="11.4" height="11.4"/><rect x="1606.1" y="567.9" width="11.4" height="11.4"/><rect x="1595.4" y="592.5" width="11.4" height="11.4"/><rect x="1677.1" y="510.8" width="11.4" height="11.4"/><rect x="1767.8" y="420.3" width="11.4" height="11.4"/><rect x="1731.1" y="444.6" width="11.4" height="11.4"/><rect x="1598.5" y="581.9" width="11.4" height="11.4"/><rect x="1585.8" y="594.2" width="11.4" height="11.4"/><rect x="1713.4" y="475.5" width="11.4" height="11.4"/><rect x="1747.5" y="441.3" width="11.4" height="11.4"/><rect x="1594.2" y="592.5" width="11.4" height="11.4"/><rect x="1601.5" y="583.9" width="11.4" height="11.4"/><rect x="1717.5" y="464.8" width="11.4" height="11.4"/><rect x="1632.2" y="548.4" width="11.4" height="11.4"/><rect x="1786.9" y="403.9" width="11.4" height="11.4"/><rect x="1823.5" y="367.9" width="11.4" height="11.4"/><rect x="1676.5" y="510.2" width="11.4" height="11.4"/><rect x="1637.1" y="548.5" width="11.4" height="11.4"/><rect x="1611.8" y="573.1" width="11.4" height="11.4"/><rect x="1658.1" y="526.5" width="11.4" height="11.4"/><rect x="1758" y="430.3" width="11.4" height="11.4"/><rect x="1730.7" y="456.2" width="11.4" height="11.4"/><rect x="1703.2" y="485.8" width="11.4" height="11.4"/><rect x="1671.4" y="516" width="11.4" height="11.4"/><rect x="1815.5" y="372.1" width="11.4" height="11.4"/><rect x="1711.3" y="486.7" width="11.4" height="11.4"/><rect x="1594" y="590.2" width="11.4" height="11.4"/><rect x="1747.8" y="429.3" width="11.4" height="11.4"/><rect x="1669.1" y="515.2" width="11.4" height="11.4"/><rect x="1749.2" y="435.7" width="11.4" height="11.4"/><rect x="1587.3" y="600.9" width="11.4" height="11.4"/><rect x="1638.1" y="543.3" width="11.4" height="11.4"/><rect x="1767.4" y="418.8" width="11.4" height="11.4"/><rect x="1786.3" y="403" width="11.4" height="11.4"/><rect x="1656.1" y="525.7" width="11.4" height="11.4"/><rect x="1685.9" y="501.7" width="11.4" height="11.4"/><rect x="1658.6" y="521.7" width="11.4" height="11.4"/><rect x="1665.7" y="516.9" width="11.4" height="11.4"/><rect x="1805.3" y="379.3" width="11.4" height="11.4"/><rect x="1735.3" y="452" width="11.4" height="11.4"/><rect x="1710.2" y="480.5" width="11.4" height="11.4"/><rect x="1583" y="609" width="11.4" height="11.4"/><rect x="1760.3" y="425.8" width="11.4" height="11.4"/><rect x="1679.9" y="499.3" width="11.4" height="11.4"/><rect x="1792.3" y="392.9" width="11.4" height="11.4"/><rect x="1832.2" y="352.3" width="11.4" height="11.4"/><rect x="1667" y="513.1" width="11.4" height="11.4"/><rect x="1616.7" y="565" width="11.4" height="11.4"/><rect x="1682.1" y="499" width="11.4" height="11.4"/><rect x="1618.5" y="563.6" width="11.4" height="11.4"/><rect x="1813.6" y="379.3" width="11.4" height="11.4"/><rect x="1690.3" y="489" width="11.4" height="11.4"/><rect x="1786.2" y="411.3" width="11.4" height="11.4"/><rect x="1580.9" y="602.4" width="11.4" height="11.4"/><rect x="1679" y="503.7" width="11.4" height="11.4"/><rect x="1715.2" y="478.7" width="11.4" height="11.4"/><rect x="1675.7" y="513.7" width="11.4" height="11.4"/><rect x="1809.2" y="380.2" width="11.4" height="11.4"/><rect x="1776.2" y="417.3" width="11.4" height="11.4"/><rect x="1574.2" y="609.5" width="11.4" height="11.4"/><rect x="1718.3" y="467.9" width="11.4" height="11.4"/><rect x="1706.6" y="475.7" width="11.4" height="11.4"/><rect x="1689" y="498.3" width="11.4" height="11.4"/><rect x="1803.1" y="380.6" width="11.4" height="11.4"/><rect x="1679" y="513.5" width="11.4" height="11.4"/><rect x="1704.5" y="477.4" width="11.4" height="11.4"/><rect x="1793.6" y="401.8" width="11.4" height="11.4"/><rect x="1636.3" y="554.6" width="11.4" height="11.4"/><rect x="1711.1" y="469.3" width="11.4" height="11.4"/><rect x="1815.2" y="371.9" width="11.4" height="11.4"/><rect x="1642.5" y="540.1" width="11.4" height="11.4"/><rect x="1700.3" y="497.8" width="11.4" height="11.4"/><rect x="1752.9" y="430.8" width="11.4" height="11.4"/><rect x="1798.1" y="401.7" width="11.4" height="11.4"/><rect x="1648.6" y="535.3" width="11.4" height="11.4"/><rect x="1725.2" y="454.8" width="11.4" height="11.4"/><rect x="1622.5" y="561.7" width="11.4" height="11.4"/><rect x="1767.1" y="422" width="11.4" height="11.4"/><rect x="1785.6" y="408.4" width="11.4" height="11.4"/><rect x="1722.9" y="466.4" width="11.4" height="11.4"/><rect x="1819.3" y="369.2" width="11.4" height="11.4"/><rect x="1652.7" y="530.2" width="11.4" height="11.4"/><rect x="1676.9" y="512.6" width="11.4" height="11.4"/><rect x="1698.3" y="495.7" width="11.4" height="11.4"/><rect x="1645.1" y="529.4" width="11.4" height="11.4"/><rect x="1711.2" y="470.1" width="11.4" height="11.4"/><rect x="1735" y="449" width="11.4" height="11.4"/><rect x="1701.1" y="485.1" width="11.4" height="11.4"/><rect x="1729.4" y="457.5" width="11.4" height="11.4"/><rect x="1571.2" y="610.7" width="11.4" height="11.4"/><rect x="1739.7" y="460.1" width="11.4" height="11.4"/><rect x="1737.5" y="435.4" width="11.4" height="11.4"/><rect x="1770" y="428.8" width="11.4" height="11.4"/><rect x="1714.6" y="479" width="11.4" height="11.4"/><rect x="1789.4" y="402.5" width="11.4" height="11.4"/><rect x="1749.3" y="432.6" width="11.4" height="11.4"/><rect x="1720.5" y="465.7" width="11.4" height="11.4"/><rect x="1662.4" y="512.1" width="11.4" height="11.4"/><rect x="1807.3" y="379.2" width="11.4" height="11.4"/><rect x="1808.2" y="379.7" width="11.4" height="11.4"/><rect x="1591.3" y="589.1" width="11.4" height="11.4"/><rect x="1774" y="427.5" width="11.4" height="11.4"/><rect x="1780.9" y="408.5" width="11.4" height="11.4"/><rect x="1612.3" y="571.6" width="11.4" height="11.4"/><rect x="1747.9" y="430.6" width="11.4" height="11.4"/><rect x="1684.1" y="511.1" width="11.4" height="11.4"/><rect x="1717.4" y="478.5" width="11.4" height="11.4"/><rect x="1720" y="467.1" width="11.4" height="11.4"/><rect x="1663.8" y="518.9" width="11.4" height="11.4"/><rect x="1755.6" y="441.5" width="11.4" height="11.4"/><rect x="1827.5" y="364.5" width="11.4" height="11.4"/><rect x="1770.1" y="424.8" width="11.4" height="11.4"/><rect x="1610.7" y="576.2" width="11.4" height="11.4"/><rect x="1578.7" y="603.6" width="11.4" height="11.4"/><rect x="1640.3" y="554.3" width="11.4" height="11.4"/><rect x="1619.8" y="555.8" width="11.4" height="11.4"/><rect x="1798" y="386.3" width="11.4" height="11.4"/><rect x="1800.4" y="388.1" width="11.4" height="11.4"/><rect x="1598.3" y="587.5" width="11.4" height="11.4"/><rect x="1558" y="617.7" width="11.4" height="11.4"/><rect x="1800.4" y="392.1" width="11.4" height="11.4"/><rect x="1609.5" y="567.1" width="11.4" height="11.4"/><rect x="1823.1" y="369.2" width="11.4" height="11.4"/><rect x="1677" y="505.1" width="11.4" height="11.4"/><rect x="1704.1" y="485.7" width="11.4" height="11.4"/><rect x="1587.8" y="597.2" width="11.4" height="11.4"/><rect x="1770.9" y="411.4" width="11.4" height="11.4"/><rect x="1767" y="433.1" width="11.4" height="11.4"/><rect x="1615.6" y="571.3" width="11.4" height="11.4"/><rect x="1765.5" y="424" width="11.4" height="11.4"/><rect x="1670.3" y="521.9" width="11.4" height="11.4"/><rect x="1636.5" y="549.4" width="11.4" height="11.4"/><rect x="1673" y="509.5" width="11.4" height="11.4"/><rect x="1594.2" y="588.9" width="11.4" height="11.4"/><rect x="1813.6" y="377.3" width="11.4" height="11.4"/><rect x="1786.9" y="398.2" width="11.4" height="11.4"/><rect x="1710.7" y="478.1" width="11.4" height="11.4"/><rect x="1738.7" y="454.6" width="11.4" height="11.4"/><rect x="1843.2" y="353.5" width="11.4" height="11.4"/><rect x="1775.7" y="416.1" width="11.4" height="11.4"/><rect x="1634.9" y="545.7" width="11.4" height="11.4"/><rect x="1763.3" y="429.1" width="11.4" height="11.4"/><rect x="1630.5" y="566" width="11.4" height="11.4"/><rect x="1830.2" y="362.3" width="11.4" height="11.4"/><rect x="1836.9" y="349.7" width="11.4" height="11.4"/><rect x="1734.7" y="452.6" width="11.4" height="11.4"/><rect x="1769.8" y="420.5" width="11.4" height="11.4"/><rect x="1704.7" y="481.1" width="11.4" height="11.4"/><rect x="1802.3" y="394" width="11.4" height="11.4"/><rect x="1566.1" y="614.8" width="11.4" height="11.4"/><rect x="1686.5" y="511.7" width="11.4" height="11.4"/><rect x="1690.2" y="498.2" width="11.4" height="11.4"/><rect x="1655.5" y="538.1" width="11.4" height="11.4"/><rect x="1615.3" y="574.4" width="11.4" height="11.4"/><rect x="1697.3" y="485.4" width="11.4" height="11.4"/><rect x="1785.3" y="407.6" width="11.4" height="11.4"/><rect x="1739.5" y="434.3" width="11.4" height="11.4"/><rect x="1707.4" y="494.8" width="11.4" height="11.4"/><rect x="1607.8" y="577.6" width="11.4" height="11.4"/><rect x="1733" y="463" width="11.4" height="11.4"/><rect x="1691.3" y="491.1" width="11.4" height="11.4"/><rect x="1565.2" y="611.6" width="11.4" height="11.4"/><rect x="1710.7" y="487.6" width="11.4" height="11.4"/><rect x="1654.1" y="520.5" width="11.4" height="11.4"/><rect x="1564.9" y="615" width="11.4" height="11.4"/><rect x="1615.9" y="559.6" width="11.4" height="11.4"/><rect x="1718.4" y="461.4" width="11.4" height="11.4"/><rect x="1631.9" y="561.3" width="11.4" height="11.4"/><rect x="1842.2" y="356.2" width="11.4" height="11.4"/><rect x="1701.8" y="495" width="11.4" height="11.4"/><rect x="1578.1" y="604.3" width="11.4" height="11.4"/><rect x="1754.4" y="438.8" width="11.4" height="11.4"/><rect x="1739.3" y="448.3" width="11.4" height="11.4"/><rect x="1739.6" y="449.6" width="11.4" height="11.4"/><rect x="1680.5" y="503.8" width="11.4" height="11.4"/><rect x="1753.5" y="438.1" width="11.4" height="11.4"/><rect x="1631.4" y="561.4" width="11.4" height="11.4"/><rect x="1792.8" y="395.6" width="11.4" height="11.4"/><rect x="1679.9" y="497.2" width="11.4" height="11.4"/><rect x="1625.3" y="557.4" width="11.4" height="11.4"/><rect x="1689.8" y="490.8" width="11.4" height="11.4"/><rect x="1763.4" y="427.5" width="11.4" height="11.4"/><rect x="1592.7" y="578.6" width="11.4" height="11.4"/><rect x="1757.4" y="435.9" width="11.4" height="11.4"/><rect x="1698.8" y="487.1" width="11.4" height="11.4"/><rect x="1619.6" y="560.8" width="11.4" height="11.4"/><rect x="1813.9" y="371.2" width="11.4" height="11.4"/><rect x="1657.6" y="522.3" width="11.4" height="11.4"/><rect x="1599.6" y="579" width="11.4" height="11.4"/><rect x="1628" y="563.8" width="11.4" height="11.4"/><rect x="1672.6" y="514.5" width="11.4" height="11.4"/><rect x="1703.5" y="472.5" width="11.4" height="11.4"/><rect x="1650.2" y="541.2" width="11.4" height="11.4"/><rect x="1715.1" y="464.9" width="11.4" height="11.4"/><rect x="1797.1" y="393.3" width="11.4" height="11.4"/><rect x="1813.9" y="370.7" width="11.4" height="11.4"/><rect x="1741" y="449.8" width="11.4" height="11.4"/><rect x="1813.6" y="368" width="11.4" height="11.4"/><rect x="1822.9" y="377" width="11.4" height="11.4"/><rect x="1802.4" y="381.2" width="11.4" height="11.4"/><rect x="1839.4" y="356" width="11.4" height="11.4"/><rect x="1681.9" y="504.4" width="11.4" height="11.4"/><rect x="1713.6" y="483.5" width="11.4" height="11.4"/><rect x="1775.4" y="409.5" width="11.4" height="11.4"/><rect x="1684.1" y="501.5" width="11.4" height="11.4"/><rect x="1617.9" y="568.3" width="11.4" height="11.4"/><rect x="1693.7" y="490.2" width="11.4" height="11.4"/><rect x="1771.8" y="416.2" width="11.4" height="11.4"/><rect x="1803.8" y="394.2" width="11.4" height="11.4"/><rect x="1722.3" y="463.5" width="11.4" height="11.4"/><rect x="1754.2" y="439.9" width="11.4" height="11.4"/><rect x="1627.2" y="553.1" width="11.4" height="11.4"/><rect x="1683.1" y="493" width="11.4" height="11.4"/><rect x="1661.5" y="527.2" width="11.4" height="11.4"/><rect x="1733" y="467.2" width="11.4" height="11.4"/><rect x="1619.2" y="564" width="11.4" height="11.4"/><rect x="1831.1" y="359.4" width="11.4" height="11.4"/><rect x="1676.6" y="501.9" width="11.4" height="11.4"/><rect x="1629.1" y="562.2" width="11.4" height="11.4"/><rect x="1703.9" y="486.6" width="11.4" height="11.4"/><rect x="1668.9" y="515.3" width="11.4" height="11.4"/><rect x="1812.6" y="381.5" width="11.4" height="11.4"/><rect x="1606.6" y="564" width="11.4" height="11.4"/><rect x="1678.2" y="509.6" width="11.4" height="11.4"/><rect x="1591.9" y="583.3" width="11.4" height="11.4"/><rect x="1707.4" y="477" width="11.4" height="11.4"/><rect x="1666.6" y="517.6" width="11.4" height="11.4"/><rect x="1664.4" y="510.2" width="11.4" height="11.4"/><rect x="1802.9" y="399.2" width="11.4" height="11.4"/><rect x="1605.4" y="581.6" width="11.4" height="11.4"/><rect x="1654.7" y="536.3" width="11.4" height="11.4"/><rect x="1708.8" y="471.3" width="11.4" height="11.4"/><rect x="1621.7" y="561.7" width="11.4" height="11.4"/><rect x="1667.3" y="528.7" width="11.4" height="11.4"/><rect x="1623.7" y="560.7" width="11.4" height="11.4"/><rect x="1649.6" y="536.8" width="11.4" height="11.4"/><rect x="1721.9" y="465.9" width="11.4" height="11.4"/><rect x="1571" y="606.9" width="11.4" height="11.4"/><rect x="1685.9" y="505.5" width="11.4" height="11.4"/><rect x="1694" y="489.8" width="11.4" height="11.4"/><rect x="1748.8" y="437.5" width="11.4" height="11.4"/><rect x="1752.5" y="435.8" width="11.4" height="11.4"/><rect x="1714.1" y="470.6" width="11.4" height="11.4"/><rect x="1624.9" y="561.7" width="11.4" height="11.4"/><rect x="1718.8" y="471.5" width="11.4" height="11.4"/><rect x="1763.3" y="425.7" width="11.4" height="11.4"/><rect x="1607.7" y="579.5" width="11.4" height="11.4"/><rect x="1711.4" y="479.4" width="11.4" height="11.4"/><rect x="1774.8" y="410.3" width="11.4" height="11.4"/><rect x="1660.8" y="508.1" width="11.4" height="11.4"/><rect x="1711.5" y="478.8" width="11.4" height="11.4"/><rect x="1583.9" y="590.7" width="11.4" height="11.4"/><rect x="1686.9" y="506.9" width="11.4" height="11.4"/><rect x="1630.8" y="551.8" width="11.4" height="11.4"/><rect x="1744.8" y="451" width="11.4" height="11.4"/><rect x="1676.5" y="509.2" width="11.4" height="11.4"/><rect x="1609.8" y="587.7" width="11.4" height="11.4"/><rect x="1701.3" y="483.1" width="11.4" height="11.4"/><rect x="1679.8" y="503.8" width="11.4" height="11.4"/><rect x="1676.8" y="508.9" width="11.4" height="11.4"/><rect x="1710.7" y="473.9" width="11.4" height="11.4"/><rect x="1713.1" y="476.9" width="11.4" height="11.4"/><rect x="1684.6" y="509.4" width="11.4" height="11.4"/><rect x="1694.8" y="489.8" width="11.4" height="11.4"/><rect x="1575.1" y="603.4" width="11.4" height="11.4"/><rect x="1763.2" y="433.2" width="11.4" height="11.4"/><rect x="1791.5" y="402.2" width="11.4" height="11.4"/><rect x="1796.3" y="396.1" width="11.4" height="11.4"/><rect x="1792.8" y="396.1" width="11.4" height="11.4"/><rect x="1749.5" y="443.8" width="11.4" height="11.4"/><rect x="1732" y="451.4" width="11.4" height="11.4"/><rect x="1733.2" y="457.8" width="11.4" height="11.4"/><rect x="1741.5" y="456.9" width="11.4" height="11.4"/><rect x="1724.4" y="468.4" width="11.4" height="11.4"/><rect x="1693.7" y="495.5" width="11.4" height="11.4"/><rect x="1769.2" y="428.6" width="11.4" height="11.4"/><rect x="1700.3" y="475" width="11.4" height="11.4"/><rect x="1846.9" y="351.3" width="11.4" height="11.4"/><rect x="1728.4" y="466.1" width="11.4" height="11.4"/><rect x="1641.5" y="542.3" width="11.4" height="11.4"/><rect x="1720.1" y="469.3" width="11.4" height="11.4"/><rect x="1640.1" y="541.4" width="11.4" height="11.4"/><rect x="1713.8" y="484.2" width="11.4" height="11.4"/><rect x="1747.8" y="440.6" width="11.4" height="11.4"/><rect x="1648" y="533.4" width="11.4" height="11.4"/><rect x="1714.3" y="477.7" width="11.4" height="11.4"/><rect x="1576" y="611.9" width="11.4" height="11.4"/><rect x="1667.4" y="521" width="11.4" height="11.4"/><rect x="1709.4" y="471.3" width="11.4" height="11.4"/><rect x="1731.1" y="450.9" width="11.4" height="11.4"/><rect x="1732.3" y="460.5" width="11.4" height="11.4"/><rect x="1735.3" y="451.4" width="11.4" height="11.4"/><rect x="1685.9" y="503.2" width="11.4" height="11.4"/><rect x="1780.8" y="416.9" width="11.4" height="11.4"/><rect x="1703.9" y="476.6" width="11.4" height="11.4"/><rect x="1663.5" y="523.2" width="11.4" height="11.4"/><rect x="1588.9" y="589.5" width="11.4" height="11.4"/><rect x="1711.9" y="478.6" width="11.4" height="11.4"/><rect x="1695.1" y="481.2" width="11.4" height="11.4"/><rect x="1760.3" y="429.2" width="11.4" height="11.4"/><rect x="1703" y="490.7" width="11.4" height="11.4"/><rect x="1666.8" y="528.8" width="11.4" height="11.4"/><rect x="1788.9" y="405.8" width="11.4" height="11.4"/><rect x="1727.9" y="463.3" width="11.4" height="11.4"/><rect x="1653.9" y="533.7" width="11.4" height="11.4"/><rect x="1800.1" y="393.7" width="11.4" height="11.4"/><rect x="1678.2" y="505.4" width="11.4" height="11.4"/><rect x="1675.2" y="507.3" width="11.4" height="11.4"/><rect x="1760.6" y="438.5" width="11.4" height="11.4"/><rect x="1784.6" y="409.8" width="11.4" height="11.4"/><rect x="1705.5" y="480.6" width="11.4" height="11.4"/><rect x="1601.3" y="580.4" width="11.4" height="11.4"/><rect x="1653" y="535.6" width="11.4" height="11.4"/><rect x="1644.4" y="542.8" width="11.4" height="11.4"/><rect x="1789" y="406.1" width="11.4" height="11.4"/><rect x="1695.3" y="495.3" width="11.4" height="11.4"/><rect x="1653.3" y="516.5" width="11.4" height="11.4"/><rect x="1603.7" y="577.5" width="11.4" height="11.4"/><rect x="1680.8" y="505.1" width="11.4" height="11.4"/><rect x="1729.1" y="453.1" width="11.4" height="11.4"/><rect x="1560" y="620.1" width="11.4" height="11.4"/><rect x="1821" y="368.5" width="11.4" height="11.4"/><rect x="1724.7" y="459.3" width="11.4" height="11.4"/><rect x="1627" y="566.5" width="11.4" height="11.4"/><rect x="1638" y="550.4" width="11.4" height="11.4"/><rect x="1731.1" y="455.4" width="11.4" height="11.4"/><rect x="1734.5" y="461.6" width="11.4" height="11.4"/><rect x="1611.1" y="573.2" width="11.4" height="11.4"/><rect x="1776.5" y="424" width="11.4" height="11.4"/><rect x="1847.5" y="338.8" width="11.4" height="11.4"/><rect x="1673.1" y="519" width="11.4" height="11.4"/><rect x="1737.5" y="452.1" width="11.4" height="11.4"/><rect x="1738.4" y="456.5" width="11.4" height="11.4"/><rect x="1658.4" y="524.2" width="11.4" height="11.4"/><rect x="1807" y="379.5" width="11.4" height="11.4"/><rect x="1651.1" y="539.5" width="11.4" height="11.4"/><rect x="1626.8" y="564" width="11.4" height="11.4"/><rect x="1576.1" y="604.8" width="11.4" height="11.4"/><rect x="1691.1" y="503.3" width="11.4" height="11.4"/><rect x="1653" y="520.7" width="11.4" height="11.4"/><rect x="1749.6" y="444.1" width="11.4" height="11.4"/><rect x="1562.4" y="621" width="11.4" height="11.4"/><rect x="1744.5" y="447.3" width="11.4" height="11.4"/><rect x="1597.2" y="583.2" width="11.4" height="11.4"/><rect x="1563.4" y="615.9" width="11.4" height="11.4"/><rect x="1655.3" y="515.9" width="11.4" height="11.4"/><rect x="1589.4" y="590.3" width="11.4" height="11.4"/><rect x="1707.6" y="475.3" width="11.4" height="11.4"/><rect x="1576.3" y="604.6" width="11.4" height="11.4"/><rect x="1806.9" y="381.9" width="11.4" height="11.4"/><rect x="1574.6" y="612.7" width="11.4" height="11.4"/><rect x="1690.6" y="502.9" width="11.4" height="11.4"/><rect x="1661.4" y="533" width="11.4" height="11.4"/><rect x="1612.5" y="573.7" width="11.4" height="11.4"/><rect x="1564" y="625.1" width="11.4" height="11.4"/><rect x="1685.8" y="493.9" width="11.4" height="11.4"/><rect x="1617.1" y="564" width="11.4" height="11.4"/><rect x="1759.8" y="434.8" width="11.4" height="11.4"/><rect x="1784.8" y="410.5" width="11.4" height="11.4"/><rect x="1730.3" y="455.7" width="11.4" height="11.4"/><rect x="1715.9" y="468.6" width="11.4" height="11.4"/><rect x="1689" y="508.4" width="11.4" height="11.4"/><rect x="1736.9" y="452.9" width="11.4" height="11.4"/><rect x="1758.3" y="434.2" width="11.4" height="11.4"/><rect x="1661.9" y="514.5" width="11.4" height="11.4"/><rect x="1610" y="572.6" width="11.4" height="11.4"/><rect x="1653.8" y="526.7" width="11.4" height="11.4"/><rect x="1763.8" y="423.3" width="11.4" height="11.4"/><rect x="1584.6" y="594.9" width="11.4" height="11.4"/><rect x="1690.7" y="503.6" width="11.4" height="11.4"/><rect x="1680.6" y="506" width="11.4" height="11.4"/><rect x="1827.4" y="358.6" width="11.4" height="11.4"/><rect x="1682.9" y="503.5" width="11.4" height="11.4"/><rect x="1752.6" y="436.5" width="11.4" height="11.4"/><rect x="1781.3" y="403.8" width="11.4" height="11.4"/><rect x="1571.5" y="608.5" width="11.4" height="11.4"/><rect x="1675.7" y="511.2" width="11.4" height="11.4"/><rect x="1741.8" y="459.9" width="11.4" height="11.4"/><rect x="1651.7" y="530.4" width="11.4" height="11.4"/><rect x="1673.8" y="506.7" width="11.4" height="11.4"/><rect x="1836.8" y="358" width="11.4" height="11.4"/><rect x="1734.4" y="453.4" width="11.4" height="11.4"/><rect x="1668.1" y="525.3" width="11.4" height="11.4"/><rect x="1610.1" y="571.6" width="11.4" height="11.4"/><rect x="1748.1" y="441.6" width="11.4" height="11.4"/><rect x="1789.9" y="399.2" width="11.4" height="11.4"/><rect x="1585.8" y="599.4" width="11.4" height="11.4"/><rect x="1678.5" y="504" width="11.4" height="11.4"/><rect x="1668.5" y="506.1" width="11.4" height="11.4"/><rect x="1670.6" y="517" width="11.4" height="11.4"/><rect x="1729.6" y="467.6" width="11.4" height="11.4"/><rect x="1763.6" y="421.2" width="11.4" height="11.4"/><rect x="1582.5" y="602.6" width="11.4" height="11.4"/><rect x="1640.5" y="536.6" width="11.4" height="11.4"/><rect x="1694.8" y="498.5" width="11.4" height="11.4"/><rect x="1746" y="440.4" width="11.4" height="11.4"/><rect x="1742.8" y="441.2" width="11.4" height="11.4"/><rect x="1794.9" y="388.4" width="11.4" height="11.4"/><rect x="1787.9" y="400.7" width="11.4" height="11.4"/><rect x="1698.3" y="488.6" width="11.4" height="11.4"/><rect x="1725.8" y="463.5" width="11.4" height="11.4"/><rect x="1720.1" y="471.3" width="11.4" height="11.4"/><rect x="1673.6" y="512.5" width="11.4" height="11.4"/><rect x="1615.7" y="563.1" width="11.4" height="11.4"/><rect x="1659" y="521.1" width="11.4" height="11.4"/><rect x="1666.3" y="524.9" width="11.4" height="11.4"/><rect x="1682.6" y="503.7" width="11.4" height="11.4"/><rect x="1603.3" y="566.9" width="11.4" height="11.4"/><rect x="1737.7" y="456.2" width="11.4" height="11.4"/><rect x="1728.8" y="472.7" width="11.4" height="11.4"/><rect x="1782.3" y="405.2" width="11.4" height="11.4"/><rect x="1719.7" y="470" width="11.4" height="11.4"/><rect x="1688.8" y="506.7" width="11.4" height="11.4"/><rect x="1579.9" y="600.8" width="11.4" height="11.4"/><rect x="1568.9" y="616.4" width="11.4" height="11.4"/><rect x="1634.1" y="550.5" width="11.4" height="11.4"/><rect x="1792.4" y="394.2" width="11.4" height="11.4"/><rect x="1702.3" y="490.9" width="11.4" height="11.4"/><rect x="1680.7" y="508.6" width="11.4" height="11.4"/><rect x="1707.5" y="479.8" width="11.4" height="11.4"/><rect x="1716.9" y="471.4" width="11.4" height="11.4"/><rect x="1714.7" y="470.1" width="11.4" height="11.4"/><rect x="1633.5" y="558.1" width="11.4" height="11.4"/><rect x="1684.5" y="514.5" width="11.4" height="11.4"/><rect x="1659.2" y="530.7" width="11.4" height="11.4"/><rect x="1650.7" y="544.7" width="11.4" height="11.4"/><rect x="1752.3" y="435" width="11.4" height="11.4"/><rect x="1792.4" y="392.7" width="11.4" height="11.4"/><rect x="1741.4" y="437.6" width="11.4" height="11.4"/><rect x="1686.2" y="507.2" width="11.4" height="11.4"/><rect x="1718.8" y="465.7" width="11.4" height="11.4"/><rect x="1744.1" y="438.7" width="11.4" height="11.4"/><rect x="1732.4" y="448" width="11.4" height="11.4"/><rect x="1691.3" y="498.5" width="11.4" height="11.4"/><rect x="1607.7" y="574.8" width="11.4" height="11.4"/><rect x="1745.9" y="441.6" width="11.4" height="11.4"/><rect x="1588.2" y="594.6" width="11.4" height="11.4"/><rect x="1809.8" y="368.8" width="11.4" height="11.4"/><rect x="1678.6" y="507.9" width="11.4" height="11.4"/><rect x="1602.9" y="573.5" width="11.4" height="11.4"/><rect x="1706.3" y="474.2" width="11.4" height="11.4"/><rect x="1612.1" y="568.6" width="11.4" height="11.4"/><rect x="1614.9" y="563.7" width="11.4" height="11.4"/><rect x="1822.1" y="365" width="11.4" height="11.4"/><rect x="1796.9" y="390.2" width="11.4" height="11.4"/><rect x="1583.8" y="605.8" width="11.4" height="11.4"/><rect x="1783.9" y="403.5" width="11.4" height="11.4"/><rect x="1660.3" y="523" width="11.4" height="11.4"/><rect x="1769.8" y="418.8" width="11.4" height="11.4"/><rect x="1653.4" y="522.7" width="11.4" height="11.4"/><rect x="1709" y="488.7" width="11.4" height="11.4"/><rect x="1682.3" y="506" width="11.4" height="11.4"/><rect x="1645" y="537" width="11.4" height="11.4"/><rect x="1782.3" y="407.3" width="11.4" height="11.4"/><rect x="1710" y="482" width="11.4" height="11.4"/><rect x="1718.8" y="462.6" width="11.4" height="11.4"/><rect x="1646.8" y="538.4" width="11.4" height="11.4"/><rect x="1746" y="447.9" width="11.4" height="11.4"/><rect x="1730.1" y="458.9" width="11.4" height="11.4"/><rect x="1663.4" y="524.4" width="11.4" height="11.4"/><rect x="1657.4" y="534" width="11.4" height="11.4"/><rect x="1793.7" y="408.3" width="11.4" height="11.4"/><rect x="1828.7" y="363.3" width="11.4" height="11.4"/><rect x="1748" y="442.2" width="11.4" height="11.4"/><rect x="1611.2" y="566" width="11.4" height="11.4"/><rect x="1586.4" y="587.9" width="11.4" height="11.4"/><rect x="1625.8" y="561.3" width="11.4" height="11.4"/><rect x="1575" y="599.3" width="11.4" height="11.4"/><rect x="1704.2" y="483" width="11.4" height="11.4"/><rect x="1695.9" y="488.3" width="11.4" height="11.4"/><rect x="1844.7" y="342.8" width="11.4" height="11.4"/><rect x="1697.3" y="491.1" width="11.4" height="11.4"/><rect x="1673.7" y="512.4" width="11.4" height="11.4"/><rect x="1582.2" y="592.2" width="11.4" height="11.4"/><rect x="1850.7" y="345.9" width="11.4" height="11.4"/><rect x="1698.5" y="485.6" width="11.4" height="11.4"/><rect x="1788" y="405.8" width="11.4" height="11.4"/><rect x="1725.3" y="460.6" width="11.4" height="11.4"/><rect x="1745" y="449.4" width="11.4" height="11.4"/><rect x="1571.8" y="608.8" width="11.4" height="11.4"/><rect x="1832.2" y="352.3" width="11.4" height="11.4"/><rect x="1797.5" y="397.3" width="11.4" height="11.4"/><rect x="1662.8" y="518.1" width="11.4" height="11.4"/><rect x="1640.1" y="538.7" width="11.4" height="11.4"/><rect x="1681" y="509.9" width="11.4" height="11.4"/><rect x="1832.8" y="361.3" width="11.4" height="11.4"/><rect x="1693.7" y="492" width="11.4" height="11.4"/><rect x="1704.4" y="479.1" width="11.4" height="11.4"/><rect x="1718.4" y="468.6" width="11.4" height="11.4"/><rect x="1666.7" y="512.5" width="11.4" height="11.4"/><rect x="1749.3" y="442.7" width="11.4" height="11.4"/><rect x="1643.6" y="542.1" width="11.4" height="11.4"/><rect x="1747.5" y="442.7" width="11.4" height="11.4"/><rect x="1721" y="481" width="11.4" height="11.4"/><rect x="1614.5" y="566.8" width="11.4" height="11.4"/><rect x="1681.2" y="507.3" width="11.4" height="11.4"/><rect x="1799.4" y="391.3" width="11.4" height="11.4"/><rect x="1761.6" y="419.1" width="11.4" height="11.4"/><rect x="1734.8" y="455.7" width="11.4" height="11.4"/><rect x="1792.7" y="402.4" width="11.4" height="11.4"/><rect x="1722.2" y="465.6" width="11.4" height="11.4"/><rect x="1726" y="460.2" width="11.4" height="11.4"/><rect x="1689.1" y="484.9" width="11.4" height="11.4"/><rect x="1600.9" y="573.7" width="11.4" height="11.4"/><rect x="1773.8" y="414.9" width="11.4" height="11.4"/><rect x="1752.2" y="433" width="11.4" height="11.4"/><rect x="1563.5" y="624" width="11.4" height="11.4"/><rect x="1725" y="451" width="11.4" height="11.4"/><rect x="1650.5" y="531.4" width="11.4" height="11.4"/><rect x="1779.3" y="408.5" width="11.4" height="11.4"/><rect x="1702.3" y="490.1" width="11.4" height="11.4"/><rect x="1771.5" y="412.4" width="11.4" height="11.4"/><rect x="1632.4" y="561.7" width="11.4" height="11.4"/><rect x="1580.6" y="607.9" width="11.4" height="11.4"/><rect x="1597.7" y="583.5" width="11.4" height="11.4"/><rect x="1828.4" y="369.2" width="11.4" height="11.4"/><rect x="1624.4" y="562.2" width="11.4" height="11.4"/><rect x="1685.7" y="499.1" width="11.4" height="11.4"/><rect x="1648.4" y="536.3" width="11.4" height="11.4"/><rect x="1752.7" y="435.1" width="11.4" height="11.4"/><rect x="1656.7" y="529.7" width="11.4" height="11.4"/><rect x="1588" y="596.9" width="11.4" height="11.4"/><rect x="1785.6" y="399" width="11.4" height="11.4"/><rect x="1642.6" y="548.2" width="11.4" height="11.4"/><rect x="1849.4" y="338.2" width="11.4" height="11.4"/><rect x="1747.2" y="450.3" width="11.4" height="11.4"/><rect x="1749.5" y="437.6" width="11.4" height="11.4"/><rect x="1831.2" y="350.6" width="11.4" height="11.4"/><rect x="1784.3" y="397.7" width="11.4" height="11.4"/><rect x="1579.6" y="608.6" width="11.4" height="11.4"/><rect x="1842.9" y="350.2" width="11.4" height="11.4"/><rect x="1798.1" y="391.4" width="11.4" height="11.4"/><rect x="1653.8" y="520.3" width="11.4" height="11.4"/><rect x="1584.3" y="611.1" width="11.4" height="11.4"/><rect x="1623.3" y="551" width="11.4" height="11.4"/><rect x="1700" y="484.4" width="11.4" height="11.4"/><rect x="1726.3" y="457.3" width="11.4" height="11.4"/><rect x="1742.2" y="439.6" width="11.4" height="11.4"/><rect x="1716.7" y="470.1" width="11.4" height="11.4"/><rect x="1662.5" y="521.9" width="11.4" height="11.4"/><rect x="1678.5" y="496.3" width="11.4" height="11.4"/><rect x="1722.4" y="473.4" width="11.4" height="11.4"/><rect x="1836.3" y="350.8" width="11.4" height="11.4"/><rect x="1714.4" y="479.4" width="11.4" height="11.4"/><rect x="1730.5" y="452.5" width="11.4" height="11.4"/><rect x="1724.4" y="460.5" width="11.4" height="11.4"/><rect x="1687.9" y="497.3" width="11.4" height="11.4"/><rect x="1701.7" y="488.2" width="11.4" height="11.4"/><rect x="1680.1" y="502.7" width="11.4" height="11.4"/><rect x="1743.5" y="438.4" width="11.4" height="11.4"/><rect x="1801.3" y="392.2" width="11.4" height="11.4"/><rect x="1738.4" y="449.7" width="11.4" height="11.4"/><rect x="1806.5" y="389.7" width="11.4" height="11.4"/><rect x="1617.3" y="563" width="11.4" height="11.4"/><rect x="1582.9" y="602.3" width="11.4" height="11.4"/><rect x="1687.3" y="506.1" width="11.4" height="11.4"/><rect x="1713.5" y="471.1" width="11.4" height="11.4"/><rect x="1712.4" y="466.4" width="11.4" height="11.4"/><rect x="1697.9" y="490.9" width="11.4" height="11.4"/><rect x="1680.3" y="507.8" width="11.4" height="11.4"/><rect x="1641.7" y="549.6" width="11.4" height="11.4"/><rect x="1614.3" y="578.8" width="11.4" height="11.4"/><rect x="1763.4" y="425.2" width="11.4" height="11.4"/><rect x="1667.2" y="517.9" width="11.4" height="11.4"/><rect x="1586.8" y="588.2" width="11.4" height="11.4"/><rect x="1754.7" y="441.6" width="11.4" height="11.4"/><rect x="1634.5" y="558" width="11.4" height="11.4"/><rect x="1772.1" y="414.2" width="11.4" height="11.4"/><rect x="1764.3" y="427.4" width="11.4" height="11.4"/><rect x="1728.5" y="455.4" width="11.4" height="11.4"/><rect x="1702.8" y="481.2" width="11.4" height="11.4"/><rect x="1613.4" y="567" width="11.4" height="11.4"/><rect x="1614.8" y="572.2" width="11.4" height="11.4"/><rect x="1772.7" y="426.1" width="11.4" height="11.4"/><rect x="1695.8" y="485.8" width="11.4" height="11.4"/><rect x="1684.7" y="496.1" width="11.4" height="11.4"/><rect x="1804.8" y="378.1" width="11.4" height="11.4"/><rect x="1767.1" y="419.2" width="11.4" height="11.4"/><rect x="1591.5" y="594.6" width="11.4" height="11.4"/><rect x="1710.7" y="460.3" width="11.4" height="11.4"/><rect x="1596.9" y="597.4" width="11.4" height="11.4"/><rect x="1842.5" y="351.9" width="11.4" height="11.4"/><rect x="1787.1" y="398.7" width="11.4" height="11.4"/><rect x="1717.5" y="459.4" width="11.4" height="11.4"/><rect x="1629.4" y="546.5" width="11.4" height="11.4"/><rect x="1754.1" y="435.7" width="11.4" height="11.4"/><rect x="1672" y="512.3" width="11.4" height="11.4"/><rect x="1564.4" y="612" width="11.4" height="11.4"/><rect x="1716.1" y="476.7" width="11.4" height="11.4"/><rect x="1710.9" y="465.8" width="11.4" height="11.4"/><rect x="1673.9" y="508.9" width="11.4" height="11.4"/><rect x="1670.9" y="511.6" width="11.4" height="11.4"/><rect x="1726.4" y="446.6" width="11.4" height="11.4"/><rect x="1799.6" y="393" width="11.4" height="11.4"/><rect x="1695.7" y="481" width="11.4" height="11.4"/><rect x="1736.4" y="458.9" width="11.4" height="11.4"/><rect x="1596.4" y="592.1" width="11.4" height="11.4"/><rect x="1704.2" y="489.1" width="11.4" height="11.4"/><rect x="1702.3" y="483.9" width="11.4" height="11.4"/><rect x="1828.1" y="366.7" width="11.4" height="11.4"/><rect x="1764.9" y="436.6" width="11.4" height="11.4"/><rect x="1810.9" y="374.8" width="11.4" height="11.4"/><rect x="1790" y="400.1" width="11.4" height="11.4"/><rect x="1660.5" y="522.1" width="11.4" height="11.4"/><rect x="1593.6" y="586.5" width="11.4" height="11.4"/><rect x="1725.6" y="462.3" width="11.4" height="11.4"/><rect x="1852.9" y="338.7" width="11.4" height="11.4"/><rect x="1598.3" y="588.2" width="11.4" height="11.4"/><rect x="1799.1" y="385" width="11.4" height="11.4"/><rect x="1686.6" y="507" width="11.4" height="11.4"/><rect x="1676.3" y="506.1" width="11.4" height="11.4"/><rect x="1679.9" y="508.9" width="11.4" height="11.4"/><rect x="1713.2" y="491.4" width="11.4" height="11.4"/><rect x="1632.3" y="542.3" width="11.4" height="11.4"/><rect x="1776.4" y="409.1" width="11.4" height="11.4"/><rect x="1673.7" y="512.5" width="11.4" height="11.4"/><rect x="1667" y="518.6" width="11.4" height="11.4"/><rect x="1719" y="477.7" width="11.4" height="11.4"/><rect x="1656.6" y="532.8" width="11.4" height="11.4"/><rect x="1722.7" y="466.2" width="11.4" height="11.4"/><rect x="1704.2" y="488.3" width="11.4" height="11.4"/><rect x="1725.6" y="463.3" width="11.4" height="11.4"/><rect x="1830.2" y="364.6" width="11.4" height="11.4"/><rect x="1687.5" y="503" width="11.4" height="11.4"/><rect x="1778.9" y="406.6" width="11.4" height="11.4"/><rect x="1642" y="541.8" width="11.4" height="11.4"/><rect x="1742.6" y="442.4" width="11.4" height="11.4"/><rect x="1616.1" y="569.7" width="11.4" height="11.4"/><rect x="1709.5" y="487.8" width="11.4" height="11.4"/><rect x="1639.8" y="543.8" width="11.4" height="11.4"/><rect x="1710.8" y="475" width="11.4" height="11.4"/><rect x="1748.4" y="431.7" width="11.4" height="11.4"/><rect x="1730.6" y="448" width="11.4" height="11.4"/><rect x="1700.5" y="483.3" width="11.4" height="11.4"/><rect x="1677.1" y="512.3" width="11.4" height="11.4"/><rect x="1659.7" y="521.5" width="11.4" height="11.4"/><rect x="1716.7" y="461.9" width="11.4" height="11.4"/><rect x="1624" y="559.3" width="11.4" height="11.4"/><rect x="1619.5" y="560.1" width="11.4" height="11.4"/><rect x="1773.2" y="419.8" width="11.4" height="11.4"/><rect x="1665" y="527.9" width="11.4" height="11.4"/><rect x="1643" y="540.7" width="11.4" height="11.4"/><rect x="1694" y="491.3" width="11.4" height="11.4"/><rect x="1667.2" y="516.4" width="11.4" height="11.4"/><rect x="1762" y="425.5" width="11.4" height="11.4"/><rect x="1716.3" y="475" width="11.4" height="11.4"/><rect x="1692.7" y="489.6" width="11.4" height="11.4"/><rect x="1589.1" y="591.9" width="11.4" height="11.4"/><rect x="1694.6" y="488.5" width="11.4" height="11.4"/><rect x="1703" y="487.3" width="11.4" height="11.4"/><rect x="1712.2" y="475.5" width="11.4" height="11.4"/><rect x="1713.4" y="470.7" width="11.4" height="11.4"/><rect x="1657.7" y="527" width="11.4" height="11.4"/><rect x="1841.2" y="352.2" width="11.4" height="11.4"/><rect x="1691.6" y="492.7" width="11.4" height="11.4"/><rect x="1715.7" y="473.2" width="11.4" height="11.4"/><rect x="1844.9" y="343" width="11.4" height="11.4"/><rect x="1646.5" y="543.3" width="11.4" height="11.4"/><rect x="1846" y="353" width="11.4" height="11.4"/><rect x="1790" y="401.5" width="11.4" height="11.4"/><rect x="1634.5" y="559.9" width="11.4" height="11.4"/><rect x="1689.2" y="495.4" width="11.4" height="11.4"/><rect x="1764.7" y="418.2" width="11.4" height="11.4"/><rect x="1722.8" y="463.8" width="11.4" height="11.4"/><rect x="1666" y="532.6" width="11.4" height="11.4"/><rect x="1685.7" y="499.9" width="11.4" height="11.4"/><rect x="1697.6" y="491.8" width="11.4" height="11.4"/><rect x="1726.9" y="453.2" width="11.4" height="11.4"/><rect x="1827.5" y="372.7" width="11.4" height="11.4"/><rect x="1744.6" y="453" width="11.4" height="11.4"/><rect x="1690.8" y="512" width="11.4" height="11.4"/><rect x="1777" y="418.1" width="11.4" height="11.4"/><rect x="1626.5" y="559.8" width="11.4" height="11.4"/><rect x="1727.6" y="464.6" width="11.4" height="11.4"/><rect x="1799.8" y="389.9" width="11.4" height="11.4"/><rect x="1831.8" y="359.3" width="11.4" height="11.4"/><rect x="1762.8" y="419" width="11.4" height="11.4"/><rect x="1826.7" y="367.8" width="11.4" height="11.4"/><rect x="1834.9" y="354.3" width="11.4" height="11.4"/><rect x="1679.9" y="513.6" width="11.4" height="11.4"/><rect x="1680" y="509.1" width="11.4" height="11.4"/><rect x="1842.7" y="357.1" width="11.4" height="11.4"/><rect x="1850.7" y="341.2" width="11.4" height="11.4"/><rect x="1837.9" y="352.5" width="11.4" height="11.4"/><rect x="1790.2" y="402" width="11.4" height="11.4"/><rect x="1749.1" y="445" width="11.4" height="11.4"/><rect x="1606.4" y="578" width="11.4" height="11.4"/><rect x="1833.5" y="357.3" width="11.4" height="11.4"/><rect x="1657.3" y="525" width="11.4" height="11.4"/><rect x="1628.8" y="564" width="11.4" height="11.4"/><rect x="1638.3" y="543.3" width="11.4" height="11.4"/><rect x="1775.8" y="410" width="11.4" height="11.4"/><rect x="1721.6" y="462.5" width="11.4" height="11.4"/><rect x="1639.3" y="554.9" width="11.4" height="11.4"/><rect x="1687" y="503" width="11.4" height="11.4"/><rect x="1837.2" y="349.8" width="11.4" height="11.4"/><rect x="1799" y="382.8" width="11.4" height="11.4"/><rect x="1624.2" y="549.7" width="11.4" height="11.4"/><rect x="1705" y="480.9" width="11.4" height="11.4"/><rect x="1624.8" y="560.6" width="11.4" height="11.4"/><rect x="1637.6" y="548.1" width="11.4" height="11.4"/><rect x="1618.3" y="573.1" width="11.4" height="11.4"/><rect x="1744.7" y="437.1" width="11.4" height="11.4"/><rect x="1759.4" y="425.1" width="11.4" height="11.4"/><rect x="1707.4" y="476.4" width="11.4" height="11.4"/><rect x="1765.6" y="419.6" width="11.4" height="11.4"/><rect x="1729.8" y="451" width="11.4" height="11.4"/><rect x="1608.6" y="572.2" width="11.4" height="11.4"/><rect x="1633" y="550.3" width="11.4" height="11.4"/><rect x="1707.2" y="481.6" width="11.4" height="11.4"/><rect x="1572.4" y="613.3" width="11.4" height="11.4"/><rect x="1638.2" y="549.2" width="11.4" height="11.4"/><rect x="1700.3" y="493.5" width="11.4" height="11.4"/><rect x="1774.1" y="415.9" width="11.4" height="11.4"/><rect x="1769.8" y="422.9" width="11.4" height="11.4"/><rect x="1763.4" y="431.3" width="11.4" height="11.4"/><rect x="1694.5" y="491.4" width="11.4" height="11.4"/><rect x="1786.6" y="406.8" width="11.4" height="11.4"/><rect x="1774.5" y="416.1" width="11.4" height="11.4"/><rect x="1721.4" y="459" width="11.4" height="11.4"/><rect x="1707.4" y="474.9" width="11.4" height="11.4"/><rect x="1667.6" y="509.7" width="11.4" height="11.4"/><rect x="1738.3" y="454.4" width="11.4" height="11.4"/><rect x="1745" y="438.9" width="11.4" height="11.4"/><rect x="1628.4" y="545.1" width="11.4" height="11.4"/><rect x="1717.9" y="473.7" width="11.4" height="11.4"/><rect x="1817.2" y="381" width="11.4" height="11.4"/><rect x="1840.5" y="353.2" width="11.4" height="11.4"/><rect x="1778.9" y="419.3" width="11.4" height="11.4"/><rect x="1609.1" y="576.1" width="11.4" height="11.4"/><rect x="1635.7" y="553.9" width="11.4" height="11.4"/><rect x="1768.8" y="421.4" width="11.4" height="11.4"/><rect x="1648.7" y="535.6" width="11.4" height="11.4"/><rect x="1672.6" y="514.9" width="11.4" height="11.4"/><rect x="1639.9" y="553.6" width="11.4" height="11.4"/><rect x="1642" y="548.6" width="11.4" height="11.4"/><rect x="1637" y="555.1" width="11.4" height="11.4"/><rect x="1616.4" y="564" width="11.4" height="11.4"/><rect x="1725.2" y="464.4" width="11.4" height="11.4"/><rect x="1681.7" y="500" width="11.4" height="11.4"/><rect x="1661.8" y="521.3" width="11.4" height="11.4"/><rect x="1619.6" y="563.8" width="11.4" height="11.4"/><rect x="1696.9" y="486.3" width="11.4" height="11.4"/><rect x="1765.4" y="419.8" width="11.4" height="11.4"/><rect x="1684.9" y="504.2" width="11.4" height="11.4"/><rect x="1742.6" y="446.6" width="11.4" height="11.4"/><rect x="1842.8" y="352.4" width="11.4" height="11.4"/><rect x="1742.9" y="443.7" width="11.4" height="11.4"/><rect x="1661.2" y="527.4" width="11.4" height="11.4"/><rect x="1827.5" y="360.4" width="11.4" height="11.4"/><rect x="1741.1" y="449.4" width="11.4" height="11.4"/><rect x="1792.2" y="394.1" width="11.4" height="11.4"/><rect x="1655.2" y="527.9" width="11.4" height="11.4"/><rect x="1682.6" y="502.3" width="11.4" height="11.4"/><rect x="1723.6" y="448" width="11.4" height="11.4"/><rect x="1633.7" y="548.1" width="11.4" height="11.4"/><rect x="1771.4" y="422.2" width="11.4" height="11.4"/><rect x="1628.6" y="554.7" width="11.4" height="11.4"/><rect x="1726.7" y="453.1" width="11.4" height="11.4"/><rect x="1654.7" y="533.9" width="11.4" height="11.4"/><rect x="1738.1" y="450.6" width="11.4" height="11.4"/><rect x="1680.5" y="500.4" width="11.4" height="11.4"/><rect x="1841.8" y="354.1" width="11.4" height="11.4"/><rect x="1676.5" y="510.4" width="11.4" height="11.4"/><rect x="1717.9" y="467.8" width="11.4" height="11.4"/><rect x="1569.2" y="609.3" width="11.4" height="11.4"/><rect x="1603.5" y="575.1" width="11.4" height="11.4"/><rect x="1704.4" y="473.1" width="11.4" height="11.4"/><rect x="1687.8" y="506" width="11.4" height="11.4"/><rect x="1749.7" y="445.6" width="11.4" height="11.4"/><rect x="1679.7" y="513" width="11.4" height="11.4"/><rect x="1625.8" y="550.2" width="11.4" height="11.4"/><rect x="1788.4" y="411.7" width="11.4" height="11.4"/><rect x="1568.4" y="602.3" width="11.4" height="11.4"/><rect x="1705.7" y="486.5" width="11.4" height="11.4"/><rect x="1634.8" y="551.1" width="11.4" height="11.4"/><rect x="1640.4" y="552.3" width="11.4" height="11.4"/><rect x="1755.6" y="436.9" width="11.4" height="11.4"/><rect x="1587.6" y="595.6" width="11.4" height="11.4"/><rect x="1645" y="539.7" width="11.4" height="11.4"/><rect x="1704.5" y="483" width="11.4" height="11.4"/><rect x="1625.8" y="559.4" width="11.4" height="11.4"/><rect x="1650.8" y="522.9" width="11.4" height="11.4"/><rect x="1711.2" y="477.1" width="11.4" height="11.4"/><rect x="1701.9" y="490.5" width="11.4" height="11.4"/><rect x="1624.2" y="560.3" width="11.4" height="11.4"/><rect x="1667.4" y="515.7" width="11.4" height="11.4"/><rect x="1785.8" y="408.3" width="11.4" height="11.4"/><rect x="1617.9" y="569.6" width="11.4" height="11.4"/><rect x="1640.8" y="538.4" width="11.4" height="11.4"/><rect x="1686.7" y="495.5" width="11.4" height="11.4"/><rect x="1597" y="592.7" width="11.4" height="11.4"/><rect x="1568" y="612.4" width="11.4" height="11.4"/><rect x="1588.4" y="599.2" width="11.4" height="11.4"/><rect x="1675.8" y="509.6" width="11.4" height="11.4"/><rect x="1641.8" y="548.9" width="11.4" height="11.4"/><rect x="1564.1" y="614.6" width="11.4" height="11.4"/><rect x="1646.1" y="543.9" width="11.4" height="11.4"/><rect x="1687.3" y="499.2" width="11.4" height="11.4"/><rect x="1695.6" y="494" width="11.4" height="11.4"/><rect x="1825.5" y="376.9" width="11.4" height="11.4"/><rect x="1695.4" y="478" width="11.4" height="11.4"/><rect x="1681.6" y="517.5" width="11.4" height="11.4"/><rect x="1724" y="468.5" width="11.4" height="11.4"/><rect x="1651.3" y="531.3" width="11.4" height="11.4"/><rect x="1724.8" y="458.6" width="11.4" height="11.4"/><rect x="1565.6" y="616.4" width="11.4" height="11.4"/><rect x="1756.1" y="435.3" width="11.4" height="11.4"/><rect x="1795.1" y="399.4" width="11.4" height="11.4"/><rect x="1647.7" y="535.2" width="11.4" height="11.4"/><rect x="1841.1" y="346.8" width="11.4" height="11.4"/><rect x="1654.2" y="533" width="11.4" height="11.4"/><rect x="1709.6" y="479.8" width="11.4" height="11.4"/><rect x="1625.2" y="567" width="11.4" height="11.4"/><rect x="1795.6" y="404.3" width="11.4" height="11.4"/><rect x="1697.8" y="478.3" width="11.4" height="11.4"/><rect x="1647.3" y="535.4" width="11.4" height="11.4"/><rect x="1687.5" y="507.7" width="11.4" height="11.4"/><rect x="1736.4" y="459.6" width="11.4" height="11.4"/><rect x="1702.5" y="480.5" width="11.4" height="11.4"/><rect x="1710.1" y="471.2" width="11.4" height="11.4"/><rect x="1844.5" y="347.3" width="11.4" height="11.4"/><rect x="1639" y="535.5" width="11.4" height="11.4"/><rect x="1794.8" y="394.1" width="11.4" height="11.4"/><rect x="1618.2" y="564.4" width="11.4" height="11.4"/><rect x="1791" y="398.8" width="11.4" height="11.4"/><rect x="1833.9" y="359" width="11.4" height="11.4"/><rect x="1675" y="498.6" width="11.4" height="11.4"/><rect x="1793" y="405.7" width="11.4" height="11.4"/><rect x="1709.8" y="479.5" width="11.4" height="11.4"/><rect x="1783.3" y="409" width="11.4" height="11.4"/><rect x="1709.6" y="469" width="11.4" height="11.4"/><rect x="1752.9" y="430.1" width="11.4" height="11.4"/><rect x="1602.2" y="582.7" width="11.4" height="11.4"/><rect x="1723.2" y="470.5" width="11.4" height="11.4"/><rect x="1592" y="588.4" width="11.4" height="11.4"/><rect x="1691.4" y="487.7" width="11.4" height="11.4"/><rect x="1655.8" y="525.1" width="11.4" height="11.4"/><rect x="1769" y="411.7" width="11.4" height="11.4"/><rect x="1595.5" y="589.1" width="11.4" height="11.4"/><rect x="1658.6" y="526.9" width="11.4" height="11.4"/><rect x="1814.7" y="382.8" width="11.4" height="11.4"/><rect x="1777.2" y="419.1" width="11.4" height="11.4"/><rect x="1670.6" y="505.3" width="11.4" height="11.4"/><rect x="1758.4" y="433" width="11.4" height="11.4"/><rect x="1582.4" y="595.8" width="11.4" height="11.4"/><rect x="1777.1" y="410.3" width="11.4" height="11.4"/><rect x="1806" y="370.1" width="11.4" height="11.4"/><rect x="1585.1" y="593.4" width="11.4" height="11.4"/><rect x="1708.2" y="470.9" width="11.4" height="11.4"/><rect x="1716.9" y="465.8" width="11.4" height="11.4"/><rect x="1770.6" y="414.6" width="11.4" height="11.4"/><rect x="1712.5" y="478.8" width="11.4" height="11.4"/><rect x="1701.5" y="497" width="11.4" height="11.4"/><rect x="1633.5" y="562.4" width="11.4" height="11.4"/><rect x="1582.4" y="595.4" width="11.4" height="11.4"/><rect x="1690.2" y="495.9" width="11.4" height="11.4"/><rect x="1670.4" y="512.5" width="11.4" height="11.4"/><rect x="1770.9" y="425.5" width="11.4" height="11.4"/><rect x="1628.6" y="554.8" width="11.4" height="11.4"/><rect x="1755.1" y="429" width="11.4" height="11.4"/><rect x="1697.3" y="495.9" width="11.4" height="11.4"/><rect x="1704.4" y="485.2" width="11.4" height="11.4"/><rect x="1711.8" y="474.5" width="11.4" height="11.4"/><rect x="1579.1" y="602.3" width="11.4" height="11.4"/><rect x="1718.2" y="473.1" width="11.4" height="11.4"/><rect x="1764" y="428.9" width="11.4" height="11.4"/><rect x="1749.4" y="437.1" width="11.4" height="11.4"/><rect x="1558.9" y="622" width="11.4" height="11.4"/><rect x="1760.6" y="425.2" width="11.4" height="11.4"/><rect x="1789.8" y="393.2" width="11.4" height="11.4"/><rect x="1717.7" y="481.2" width="11.4" height="11.4"/><rect x="1743" y="445.4" width="11.4" height="11.4"/><rect x="1616.9" y="563.7" width="11.4" height="11.4"/><rect x="1725" y="458.1" width="11.4" height="11.4"/><rect x="1803.9" y="388.5" width="11.4" height="11.4"/><rect x="1778.2" y="400.4" width="11.4" height="11.4"/><rect x="1654.5" y="533.8" width="11.4" height="11.4"/><rect x="1817.1" y="361.1" width="11.4" height="11.4"/><rect x="1773.2" y="424.9" width="11.4" height="11.4"/><rect x="1819.3" y="369.1" width="11.4" height="11.4"/><rect x="1663.9" y="513.6" width="11.4" height="11.4"/><rect x="1701.9" y="473.7" width="11.4" height="11.4"/><rect x="1800" y="392.4" width="11.4" height="11.4"/><rect x="1643.1" y="546.5" width="11.4" height="11.4"/><rect x="1728.1" y="473" width="11.4" height="11.4"/><rect x="1748" y="444.6" width="11.4" height="11.4"/><rect x="1618.8" y="564.4" width="11.4" height="11.4"/><rect x="1668.9" y="516.7" width="11.4" height="11.4"/><rect x="1759.9" y="442.6" width="11.4" height="11.4"/><rect x="1777" y="429.4" width="11.4" height="11.4"/><rect x="1703.4" y="478.4" width="11.4" height="11.4"/><rect x="1613.8" y="569.1" width="11.4" height="11.4"/><rect x="1774" y="424.7" width="11.4" height="11.4"/><rect x="1695.6" y="498.4" width="11.4" height="11.4"/><rect x="1667.5" y="531.8" width="11.4" height="11.4"/><rect x="1688.7" y="492.5" width="11.4" height="11.4"/><rect x="1614.3" y="567.5" width="11.4" height="11.4"/><rect x="1663.6" y="518.9" width="11.4" height="11.4"/><rect x="1766.3" y="428.4" width="11.4" height="11.4"/><rect x="1822.1" y="363.1" width="11.4" height="11.4"/><rect x="1697.6" y="490.7" width="11.4" height="11.4"/><rect x="1653.3" y="533" width="11.4" height="11.4"/><rect x="1658" y="522.7" width="11.4" height="11.4"/><rect x="1721.6" y="458.6" width="11.4" height="11.4"/><rect x="1723.1" y="465" width="11.4" height="11.4"/><rect x="1653.9" y="526.7" width="11.4" height="11.4"/><rect x="1808.7" y="374.4" width="11.4" height="11.4"/><rect x="1840.1" y="348.1" width="11.4" height="11.4"/><rect x="1599.2" y="584.2" width="11.4" height="11.4"/><rect x="1727" y="471.1" width="11.4" height="11.4"/><rect x="1757.9" y="421.4" width="11.4" height="11.4"/><rect x="1787.1" y="401.4" width="11.4" height="11.4"/><rect x="1760.4" y="429.3" width="11.4" height="11.4"/><rect x="1767" y="416.4" width="11.4" height="11.4"/><rect x="1724.3" y="463.1" width="11.4" height="11.4"/><rect x="1725.2" y="461.1" width="11.4" height="11.4"/><rect x="1601.5" y="577.1" width="11.4" height="11.4"/><rect x="1584.7" y="596.5" width="11.4" height="11.4"/><rect x="1780.8" y="403.1" width="11.4" height="11.4"/><rect x="1831.8" y="364" width="11.4" height="11.4"/><rect x="1648.8" y="539" width="11.4" height="11.4"/><rect x="1704.7" y="482.6" width="11.4" height="11.4"/><rect x="1846" y="336" width="11.4" height="11.4"/><rect x="1654.4" y="539.7" width="11.4" height="11.4"/><rect x="1748.3" y="436" width="11.4" height="11.4"/><rect x="1563.5" y="617.1" width="11.4" height="11.4"/><rect x="1684.5" y="489.8" width="11.4" height="11.4"/><rect x="1829.4" y="365.4" width="11.4" height="11.4"/><rect x="1670" y="522.6" width="11.4" height="11.4"/><rect x="1695.8" y="494" width="11.4" height="11.4"/><rect x="1670.6" y="516.4" width="11.4" height="11.4"/><rect x="1603.4" y="581.9" width="11.4" height="11.4"/><rect x="1665.9" y="519.1" width="11.4" height="11.4"/><rect x="1628.9" y="553.4" width="11.4" height="11.4"/><rect x="1588.8" y="591.9" width="11.4" height="11.4"/><rect x="1678.6" y="506.3" width="11.4" height="11.4"/><rect x="1699.4" y="495" width="11.4" height="11.4"/><rect x="1638.2" y="539.8" width="11.4" height="11.4"/><rect x="1679.4" y="504.7" width="11.4" height="11.4"/><rect x="1665.6" y="522.4" width="11.4" height="11.4"/><rect x="1589.1" y="598" width="11.4" height="11.4"/><rect x="1764.3" y="425.9" width="11.4" height="11.4"/><rect x="1645" y="533.6" width="11.4" height="11.4"/><rect x="1558" y="611.1" width="11.4" height="11.4"/><rect x="1694.1" y="489.1" width="11.4" height="11.4"/><rect x="1670.2" y="516" width="11.4" height="11.4"/><rect x="1760.3" y="430.9" width="11.4" height="11.4"/><rect x="1619.8" y="561.6" width="11.4" height="11.4"/><rect x="1770.8" y="427.8" width="11.4" height="11.4"/><rect x="1800.2" y="379.5" width="11.4" height="11.4"/><rect x="1796.5" y="389.1" width="11.4" height="11.4"/><rect x="1717.6" y="465.6" width="11.4" height="11.4"/><rect x="1843.7" y="349.1" width="11.4" height="11.4"/><rect x="1810.4" y="390" width="11.4" height="11.4"/><rect x="1629.7" y="556.5" width="11.4" height="11.4"/><rect x="1692.1" y="502.2" width="11.4" height="11.4"/><rect x="1816" y="378.7" width="11.4" height="11.4"/><rect x="1783.6" y="406.7" width="11.4" height="11.4"/><rect x="1663.6" y="524.3" width="11.4" height="11.4"/><rect x="1666" y="503.5" width="11.4" height="11.4"/><rect x="1637.2" y="553.6" width="11.4" height="11.4"/><rect x="1810.8" y="369.3" width="11.4" height="11.4"/><rect x="1728" y="461.4" width="11.4" height="11.4"/><rect x="1746.6" y="439.3" width="11.4" height="11.4"/><rect x="1810.7" y="381.5" width="11.4" height="11.4"/><rect x="1748.2" y="443.6" width="11.4" height="11.4"/><rect x="1701" y="479" width="11.4" height="11.4"/><rect x="1607.9" y="576" width="11.4" height="11.4"/><rect x="1722.6" y="462.7" width="11.4" height="11.4"/><rect x="1634.3" y="541.6" width="11.4" height="11.4"/><rect x="1584" y="602.2" width="11.4" height="11.4"/><rect x="1700.1" y="483.7" width="11.4" height="11.4"/><rect x="1611.2" y="573.2" width="11.4" height="11.4"/><rect x="1850.6" y="349.7" width="11.4" height="11.4"/><rect x="1709.7" y="463.6" width="11.4" height="11.4"/><rect x="1624.7" y="555.1" width="11.4" height="11.4"/><rect x="1567.3" y="613.4" width="11.4" height="11.4"/><rect x="1740.4" y="443.8" width="11.4" height="11.4"/><rect x="1742.5" y="440.5" width="11.4" height="11.4"/><rect x="1725.3" y="463.6" width="11.4" height="11.4"/><rect x="1735.4" y="464.4" width="11.4" height="11.4"/><rect x="1650.6" y="531.7" width="11.4" height="11.4"/><rect x="1605.1" y="572.8" width="11.4" height="11.4"/><rect x="1804.6" y="389.3" width="11.4" height="11.4"/><rect x="1825" y="364" width="11.4" height="11.4"/><rect x="1810" y="378.2" width="11.4" height="11.4"/><rect x="1689.6" y="487.8" width="11.4" height="11.4"/><rect x="1706.2" y="481.1" width="11.4" height="11.4"/><rect x="1700" y="477.6" width="11.4" height="11.4"/><rect x="1714.9" y="467.7" width="11.4" height="11.4"/><rect x="1702.8" y="485.8" width="11.4" height="11.4"/><rect x="1755" y="433.8" width="11.4" height="11.4"/><rect x="1695.4" y="493.6" width="11.4" height="11.4"/><rect x="1734.6" y="456.5" width="11.4" height="11.4"/><rect x="1791.6" y="405.8" width="11.4" height="11.4"/><rect x="1798.3" y="390.7" width="11.4" height="11.4"/><rect x="1809.2" y="379" width="11.4" height="11.4"/><rect x="1748.2" y="429.6" width="11.4" height="11.4"/><rect x="1696.9" y="499.7" width="11.4" height="11.4"/><rect x="1730.5" y="455.9" width="11.4" height="11.4"/><rect x="1733.7" y="448.1" width="11.4" height="11.4"/><rect x="1709.8" y="476.7" width="11.4" height="11.4"/><rect x="1762.8" y="429.6" width="11.4" height="11.4"/><rect x="1817.6" y="358.2" width="11.4" height="11.4"/><rect x="1742.3" y="438.5" width="11.4" height="11.4"/><rect x="1772.5" y="421.8" width="11.4" height="11.4"/><rect x="1791.7" y="398.7" width="11.4" height="11.4"/><rect x="1716.1" y="479.5" width="11.4" height="11.4"/><rect x="1719.3" y="460.5" width="11.4" height="11.4"/><rect x="1627" y="559.7" width="11.4" height="11.4"/><rect x="1731.5" y="458.6" width="11.4" height="11.4"/><rect x="1728.9" y="459.7" width="11.4" height="11.4"/><rect x="1765.6" y="420.9" width="11.4" height="11.4"/><rect x="1692.6" y="485.4" width="11.4" height="11.4"/><rect x="1615.5" y="566" width="11.4" height="11.4"/><rect x="1574.5" y="604.7" width="11.4" height="11.4"/><rect x="1822.6" y="364.1" width="11.4" height="11.4"/><rect x="1672.4" y="513.7" width="11.4" height="11.4"/><rect x="1846.9" y="351" width="11.4" height="11.4"/><rect x="1746.4" y="446" width="11.4" height="11.4"/><rect x="1672.5" y="523" width="11.4" height="11.4"/><rect x="1783.1" y="405.1" width="11.4" height="11.4"/><rect x="1774.7" y="413.8" width="11.4" height="11.4"/><rect x="1668.2" y="517.1" width="11.4" height="11.4"/><rect x="1671.9" y="511.5" width="11.4" height="11.4"/><rect x="1648.3" y="529.4" width="11.4" height="11.4"/><rect x="1740" y="444.1" width="11.4" height="11.4"/><rect x="1801.5" y="391.2" width="11.4" height="11.4"/><rect x="1719.5" y="466.1" width="11.4" height="11.4"/><rect x="1688.8" y="496.6" width="11.4" height="11.4"/><rect x="1723.6" y="471.2" width="11.4" height="11.4"/><rect x="1780.1" y="420.6" width="11.4" height="11.4"/><rect x="1844" y="354.8" width="11.4" height="11.4"/><rect x="1603.4" y="579.8" width="11.4" height="11.4"/><rect x="1688.8" y="490.4" width="11.4" height="11.4"/><rect x="1761.3" y="426.4" width="11.4" height="11.4"/><rect x="1827.6" y="370.3" width="11.4" height="11.4"/><rect x="1844.5" y="338.1" width="11.4" height="11.4"/><rect x="1715.7" y="467.3" width="11.4" height="11.4"/><rect x="1702.1" y="493.4" width="11.4" height="11.4"/><rect x="1608.2" y="579.2" width="11.4" height="11.4"/><rect x="1730.8" y="459.3" width="11.4" height="11.4"/><rect x="1682.1" y="501.8" width="11.4" height="11.4"/><rect x="1725.7" y="459.5" width="11.4" height="11.4"/><rect x="1561.4" y="622.2" width="11.4" height="11.4"/><rect x="1738.5" y="454.2" width="11.4" height="11.4"/><rect x="1723.8" y="467.8" width="11.4" height="11.4"/><rect x="1728.4" y="461.2" width="11.4" height="11.4"/><rect x="1698.2" y="487.8" width="11.4" height="11.4"/><rect x="1698.4" y="482" width="11.4" height="11.4"/><rect x="1702.2" y="485.7" width="11.4" height="11.4"/><rect x="1673.3" y="508.2" width="11.4" height="11.4"/><rect x="1674.8" y="500.8" width="11.4" height="11.4"/><rect x="1651" y="532.3" width="11.4" height="11.4"/><rect x="1672.1" y="517.5" width="11.4" height="11.4"/><rect x="1751.5" y="435" width="11.4" height="11.4"/><rect x="1757.5" y="421.2" width="11.4" height="11.4"/><rect x="1689.5" y="503.7" width="11.4" height="11.4"/><rect x="1630.4" y="540.5" width="11.4" height="11.4"/><rect x="1644.9" y="532.1" width="11.4" height="11.4"/><rect x="1809.4" y="375.6" width="11.4" height="11.4"/><rect x="1746.4" y="446.9" width="11.4" height="11.4"/><rect x="1654.5" y="535.3" width="11.4" height="11.4"/><rect x="1558" y="622.2" width="11.4" height="11.4"/><rect x="1718.1" y="468.5" width="11.4" height="11.4"/><rect x="1731.7" y="445.1" width="11.4" height="11.4"/><rect x="1800.7" y="391.7" width="11.4" height="11.4"/><rect x="1749.8" y="438.8" width="11.4" height="11.4"/><rect x="1758.6" y="435.5" width="11.4" height="11.4"/><rect x="1575.1" y="614.5" width="11.4" height="11.4"/><rect x="1751" y="447.4" width="11.4" height="11.4"/><rect x="1746.4" y="447.9" width="11.4" height="11.4"/><rect x="1831.8" y="357.7" width="11.4" height="11.4"/><rect x="1766.7" y="409.5" width="11.4" height="11.4"/><rect x="1580.4" y="602.4" width="11.4" height="11.4"/><rect x="1610.8" y="583.1" width="11.4" height="11.4"/><rect x="1620.7" y="564.2" width="11.4" height="11.4"/><rect x="1745.5" y="443.5" width="11.4" height="11.4"/><rect x="1697.1" y="484.9" width="11.4" height="11.4"/><rect x="1722.1" y="457" width="11.4" height="11.4"/><rect x="1687.3" y="501.6" width="11.4" height="11.4"/><rect x="1576.8" y="599.7" width="11.4" height="11.4"/><rect x="1707.5" y="475.8" width="11.4" height="11.4"/><rect x="1629.6" y="561" width="11.4" height="11.4"/><rect x="1775.9" y="399.3" width="11.4" height="11.4"/><rect x="1793.9" y="391.1" width="11.4" height="11.4"/><rect x="1711.8" y="475.9" width="11.4" height="11.4"/><rect x="1605.1" y="578.6" width="11.4" height="11.4"/><rect x="1722.7" y="469.5" width="11.4" height="11.4"/><rect x="1669.7" y="517.3" width="11.4" height="11.4"/><rect x="1695.1" y="490.7" width="11.4" height="11.4"/><rect x="1750.9" y="437.6" width="11.4" height="11.4"/><rect x="1787.8" y="404.1" width="11.4" height="11.4"/><rect x="1674.7" y="523.8" width="11.4" height="11.4"/><rect x="1843.3" y="343.2" width="11.4" height="11.4"/><rect x="1652.1" y="539.8" width="11.4" height="11.4"/><rect x="1566.5" y="614.8" width="11.4" height="11.4"/><rect x="1666.7" y="514" width="11.4" height="11.4"/><rect x="1694.8" y="493.8" width="11.4" height="11.4"/><rect x="1632.4" y="545.9" width="11.4" height="11.4"/><rect x="1777.8" y="410.4" width="11.4" height="11.4"/><rect x="1730.2" y="459.7" width="11.4" height="11.4"/><rect x="1835.8" y="360.7" width="11.4" height="11.4"/><rect x="1614.7" y="569.1" width="11.4" height="11.4"/><rect x="1788.1" y="414.9" width="11.4" height="11.4"/><rect x="1783.7" y="406.8" width="11.4" height="11.4"/><rect x="1650.3" y="549.4" width="11.4" height="11.4"/><rect x="1686.5" y="499.7" width="11.4" height="11.4"/><rect x="1753.3" y="427.9" width="11.4" height="11.4"/><rect x="1660.4" y="530.3" width="11.4" height="11.4"/><rect x="1617.7" y="563.9" width="11.4" height="11.4"/><rect x="1696.7" y="490.9" width="11.4" height="11.4"/><rect x="1563.6" y="623.7" width="11.4" height="11.4"/><rect x="1762.8" y="426.3" width="11.4" height="11.4"/><rect x="1842.3" y="353.8" width="11.4" height="11.4"/><rect x="1630.5" y="551.5" width="11.4" height="11.4"/><rect x="1666.4" y="515.4" width="11.4" height="11.4"/><rect x="1686.3" y="508.3" width="11.4" height="11.4"/><rect x="1771.7" y="426.4" width="11.4" height="11.4"/><rect x="1655.1" y="526.9" width="11.4" height="11.4"/><rect x="1582.9" y="601.2" width="11.4" height="11.4"/><rect x="1587.6" y="590.7" width="11.4" height="11.4"/><rect x="1758.7" y="435.3" width="11.4" height="11.4"/><rect x="1637.4" y="542.7" width="11.4" height="11.4"/><rect x="1733.4" y="451.9" width="11.4" height="11.4"/><rect x="1814.9" y="372.3" width="11.4" height="11.4"/><rect x="1628.8" y="547.4" width="11.4" height="11.4"/><rect x="1781.3" y="423.8" width="11.4" height="11.4"/><rect x="1661" y="512" width="11.4" height="11.4"/><rect x="1558.5" y="614.1" width="11.4" height="11.4"/><rect x="1714" y="466.2" width="11.4" height="11.4"/><rect x="1820.5" y="373.1" width="11.4" height="11.4"/><rect x="1821.3" y="372.4" width="11.4" height="11.4"/><rect x="1693.2" y="495" width="11.4" height="11.4"/><rect x="1661.2" y="515.7" width="11.4" height="11.4"/><rect x="1763.7" y="415" width="11.4" height="11.4"/><rect x="1626" y="565.9" width="11.4" height="11.4"/><rect x="1664" y="523.1" width="11.4" height="11.4"/><rect x="1797.1" y="386" width="11.4" height="11.4"/><rect x="1607.9" y="587" width="11.4" height="11.4"/><rect x="1699.2" y="493.7" width="11.4" height="11.4"/><rect x="1596.2" y="584.2" width="11.4" height="11.4"/><rect x="1750.7" y="436.5" width="11.4" height="11.4"/><rect x="1696.6" y="491" width="11.4" height="11.4"/><rect x="1756" y="429.2" width="11.4" height="11.4"/><rect x="1792.6" y="392.8" width="11.4" height="11.4"/><rect x="1793.1" y="390.4" width="11.4" height="11.4"/><rect x="1658.7" y="522.7" width="11.4" height="11.4"/><rect x="1666.5" y="509.1" width="11.4" height="11.4"/><rect x="1736.2" y="456.5" width="11.4" height="11.4"/><rect x="1607.7" y="576.6" width="11.4" height="11.4"/><rect x="1762.4" y="425.8" width="11.4" height="11.4"/><rect x="1742.1" y="446.5" width="11.4" height="11.4"/><rect x="1736.9" y="457.7" width="11.4" height="11.4"/><rect x="1786.9" y="405.7" width="11.4" height="11.4"/><rect x="1622.9" y="552.1" width="11.4" height="11.4"/><rect x="1714.7" y="464" width="11.4" height="11.4"/><rect x="1704.9" y="488" width="11.4" height="11.4"/><rect x="1833.3" y="366.7" width="11.4" height="11.4"/><rect x="1685.2" y="506.6" width="11.4" height="11.4"/><rect x="1599.2" y="579.7" width="11.4" height="11.4"/><rect x="1673.3" y="512.1" width="11.4" height="11.4"/><rect x="1633.4" y="549.2" width="11.4" height="11.4"/><rect x="1715.5" y="468.7" width="11.4" height="11.4"/><rect x="1610.7" y="573.8" width="11.4" height="11.4"/><rect x="1755.2" y="432.2" width="11.4" height="11.4"/><rect x="1687" y="508.4" width="11.4" height="11.4"/><rect x="1728.3" y="456.6" width="11.4" height="11.4"/><rect x="1670.8" y="499" width="11.4" height="11.4"/><rect x="1762" y="438.2" width="11.4" height="11.4"/><rect x="1824.2" y="365.1" width="11.4" height="11.4"/><rect x="1825" y="359.4" width="11.4" height="11.4"/><rect x="1731.5" y="458.8" width="11.4" height="11.4"/><rect x="1817.5" y="372.3" width="11.4" height="11.4"/><rect x="1790" y="396.4" width="11.4" height="11.4"/><rect x="1615.2" y="565" width="11.4" height="11.4"/><rect x="1703.7" y="486" width="11.4" height="11.4"/><rect x="1612.1" y="576.6" width="11.4" height="11.4"/><rect x="1724.4" y="452.9" width="11.4" height="11.4"/><rect x="1649.8" y="540.2" width="11.4" height="11.4"/><rect x="1562" y="626.6" width="11.4" height="11.4"/><rect x="1848.2" y="353.7" width="11.4" height="11.4"/><rect x="1671.6" y="509.2" width="11.4" height="11.4"/><rect x="1842.4" y="347.5" width="11.4" height="11.4"/><rect x="1726.1" y="460.3" width="11.4" height="11.4"/><rect x="1632.3" y="554.4" width="11.4" height="11.4"/><rect x="1733.7" y="451.6" width="11.4" height="11.4"/><rect x="1701.8" y="490.1" width="11.4" height="11.4"/><rect x="1771.9" y="404.3" width="11.4" height="11.4"/><rect x="1818.3" y="373" width="11.4" height="11.4"/><rect x="1755.1" y="425.5" width="11.4" height="11.4"/><rect x="1679.2" y="499.1" width="11.4" height="11.4"/><rect x="1578.7" y="602.4" width="11.4" height="11.4"/><rect x="1587.9" y="595.4" width="11.4" height="11.4"/><rect x="1693.1" y="491.4" width="11.4" height="11.4"/><rect x="1746.3" y="448.1" width="11.4" height="11.4"/><rect x="1641.6" y="544.6" width="11.4" height="11.4"/><rect x="1785.2" y="411.6" width="11.4" height="11.4"/><rect x="1831.3" y="359.2" width="11.4" height="11.4"/><rect x="1624.3" y="559.9" width="11.4" height="11.4"/><rect x="1711.2" y="477.1" width="11.4" height="11.4"/><rect x="1657" y="538.1" width="11.4" height="11.4"/><rect x="1665.9" y="526.3" width="11.4" height="11.4"/><rect x="1651.1" y="543.9" width="11.4" height="11.4"/><rect x="1692.5" y="490.2" width="11.4" height="11.4"/><rect x="1696.8" y="475.4" width="11.4" height="11.4"/><rect x="1825" y="365.9" width="11.4" height="11.4"/><rect x="1745.4" y="440" width="11.4" height="11.4"/><rect x="1748.3" y="441.1" width="11.4" height="11.4"/><rect x="1638" y="547.9" width="11.4" height="11.4"/><rect x="1835.1" y="352.5" width="11.4" height="11.4"/><rect x="1637.5" y="541" width="11.4" height="11.4"/><rect x="1707.4" y="484.2" width="11.4" height="11.4"/><rect x="1577.4" y="605.8" width="11.4" height="11.4"/><rect x="1694.3" y="501.2" width="11.4" height="11.4"/><rect x="1649.4" y="524.3" width="11.4" height="11.4"/><rect x="1688.8" y="495.6" width="11.4" height="11.4"/><rect x="1610.9" y="562.6" width="11.4" height="11.4"/><rect x="1792.4" y="383.5" width="11.4" height="11.4"/><rect x="1661.8" y="522.2" width="11.4" height="11.4"/><rect x="1712.6" y="459.5" width="11.4" height="11.4"/><rect x="1703.8" y="483.8" width="11.4" height="11.4"/><rect x="1640" y="546.3" width="11.4" height="11.4"/><rect x="1659.1" y="526.3" width="11.4" height="11.4"/><rect x="1680.3" y="501.5" width="11.4" height="11.4"/><rect x="1680.5" y="505.9" width="11.4" height="11.4"/><rect x="1787.4" y="404" width="11.4" height="11.4"/><rect x="1823.7" y="364" width="11.4" height="11.4"/><rect x="1669.8" y="515.6" width="11.4" height="11.4"/><rect x="1624.3" y="566.7" width="11.4" height="11.4"/><rect x="1841.2" y="345.7" width="11.4" height="11.4"/><rect x="1806.9" y="388.9" width="11.4" height="11.4"/><rect x="1775" y="417.6" width="11.4" height="11.4"/><rect x="1705.2" y="474.6" width="11.4" height="11.4"/><rect x="1591.8" y="589.7" width="11.4" height="11.4"/><rect x="1631.6" y="560.3" width="11.4" height="11.4"/><rect x="1702.6" y="478.9" width="11.4" height="11.4"/><rect x="1772.7" y="410.2" width="11.4" height="11.4"/><rect x="1732.5" y="458.6" width="11.4" height="11.4"/><rect x="1624.2" y="566.1" width="11.4" height="11.4"/><rect x="1765.9" y="416.1" width="11.4" height="11.4"/><rect x="1683.9" y="505.3" width="11.4" height="11.4"/><rect x="1671.5" y="508.5" width="11.4" height="11.4"/><rect x="1820.6" y="367.1" width="11.4" height="11.4"/><rect x="1713.8" y="480.8" width="11.4" height="11.4"/><rect x="1664.3" y="528.4" width="11.4" height="11.4"/><rect x="1602.5" y="586.8" width="11.4" height="11.4"/><rect x="1690.2" y="489.4" width="11.4" height="11.4"/><rect x="1783.3" y="407.8" width="11.4" height="11.4"/><rect x="1565.7" y="620.1" width="11.4" height="11.4"/><rect x="1641.7" y="544.4" width="11.4" height="11.4"/><rect x="1793.9" y="403.2" width="11.4" height="11.4"/><rect x="1728.9" y="461.9" width="11.4" height="11.4"/><rect x="1725.1" y="469.1" width="11.4" height="11.4"/><rect x="1851.8" y="328.2" width="11.4" height="11.4"/><rect x="1737.2" y="445.2" width="11.4" height="11.4"/><rect x="1795.3" y="385.3" width="11.4" height="11.4"/><rect x="1819.2" y="366.4" width="11.4" height="11.4"/><rect x="1780.3" y="417.7" width="11.4" height="11.4"/><rect x="1790" y="392.3" width="11.4" height="11.4"/><rect x="1716.6" y="473.9" width="11.4" height="11.4"/><rect x="1755" y="432.8" width="11.4" height="11.4"/><rect x="1680.8" y="512.2" width="11.4" height="11.4"/><rect x="1772.1" y="406.3" width="11.4" height="11.4"/><rect x="1582.8" y="598.1" width="11.4" height="11.4"/><rect x="1659" y="521.2" width="11.4" height="11.4"/><rect x="1817.2" y="368.7" width="11.4" height="11.4"/><rect x="1558.7" y="619.1" width="11.4" height="11.4"/><rect x="1779.5" y="417.7" width="11.4" height="11.4"/><rect x="1711.2" y="476.5" width="11.4" height="11.4"/><rect x="1772.9" y="421.6" width="11.4" height="11.4"/><rect x="1647.2" y="536.7" width="11.4" height="11.4"/><rect x="1728.8" y="455.4" width="11.4" height="11.4"/><rect x="1625.8" y="558.5" width="11.4" height="11.4"/><rect x="1663.2" y="525.5" width="11.4" height="11.4"/><rect x="1774" y="415.2" width="11.4" height="11.4"/><rect x="1810.4" y="381.9" width="11.4" height="11.4"/><rect x="1928.6" y="276.2" width="11.4" height="11.4"/><rect x="1895.1" y="301.5" width="11.4" height="11.4"/><rect x="1888.8" y="307" width="11.4" height="11.4"/><rect x="1869.6" y="336.1" width="11.4" height="11.4"/><rect x="1851.7" y="329.2" width="11.4" height="11.4"/><rect x="1829.1" y="374.8" width="11.4" height="11.4"/><rect x="1815.4" y="346.2" width="11.4" height="11.4"/><rect x="1484.1" y="687" width="11.4" height="11.4"/><rect x="1517.2" y="643.2" width="11.4" height="11.4"/><rect x="1518.6" y="661.2" width="11.4" height="11.4"/><rect x="1546.1" y="651.7" width="11.4" height="11.4"/><rect x="1545.6" y="652.2" width="11.4" height="11.4"/><rect x="1543.5" y="626.8" width="11.4" height="11.4"/><rect x="1526.5" y="658" width="11.4" height="11.4"/><rect x="1591.2" y="612.5" width="11.4" height="11.4"/><rect x="1572.1" y="631.5" width="11.4" height="11.4"/><rect x="1566.8" y="632.6" width="11.4" height="11.4"/><rect x="1554.1" y="613.5" width="11.4" height="11.4"/><rect x="1590.7" y="579.6" width="11.4" height="11.4"/><rect x="1814.7" y="347.8" width="11.4" height="11.4"/><rect x="1829.1" y="346.5" width="11.4" height="11.4"/><rect x="1728.3" y="482.3" width="11.4" height="11.4"/><rect x="1619.3" y="587.2" width="11.4" height="11.4"/><rect x="1590.5" y="613.9" width="11.4" height="11.4"/><rect x="1543.2" y="626.3" width="11.4" height="11.4"/><rect x="1553.5" y="613.9" width="11.4" height="11.4"/></g>
<line x1="1466.5" y1="721.8" x2="1956.3" y2="251.8" stroke="#000" stroke-width="3.3" stroke-dasharray="12.35 5.33"/>
</g>
<rect x="1443.2" y="228.8" width="538.9" height="519.6" fill="none" stroke="#000" stroke-width="3.2"/>
<g stroke="#000" stroke-width="2.8"><line x1="1478.2" y1="748.4" x2="1478.2" y2="762.6"/><line x1="1443.2" y1="710.6" x2="1429.8" y2="710.6"/><line x1="1594.8" y1="748.4" x2="1594.8" y2="762.6"/><line x1="1443.2" y1="598.7" x2="1429.8" y2="598.7"/><line x1="1711.4" y1="748.4" x2="1711.4" y2="762.6"/><line x1="1443.2" y1="486.8" x2="1429.8" y2="486.8"/><line x1="1828" y1="748.4" x2="1828" y2="762.6"/><line x1="1443.2" y1="374.9" x2="1429.8" y2="374.9"/><line x1="1944.6" y1="748.4" x2="1944.6" y2="762.6"/><line x1="1443.2" y1="263" x2="1429.8" y2="263"/></g>
<g class="rg" font-size="33.3"><text x="1478.7" y="791.6" text-anchor="middle">-6.0</text><text x="1420.9" y="721.8" text-anchor="end">-6.0</text><text x="1595.3" y="791.6" text-anchor="middle">-3.0</text><text x="1420.9" y="609.9" text-anchor="end">-3.0</text><text x="1711.9" y="791.6" text-anchor="middle">0.0</text><text x="1420.9" y="498" text-anchor="end">0.0</text><text x="1828.5" y="791.6" text-anchor="middle">3.0</text><text x="1420.9" y="386.1" text-anchor="end">3.0</text><text x="1945.1" y="791.6" text-anchor="middle">6.0</text><text x="1420.9" y="274.2" text-anchor="end">6.0</text></g>
<text x="1712" y="830" text-anchor="middle" class="rg" font-size="33.3">Force of DFT (eV/atom)</text>
<text transform="translate(1350.5 488.6) rotate(-90)" text-anchor="middle" class="rg" font-size="33.3">Force of FMLP (eV/atom)</text>
<rect x="1457.8" y="243.8" width="261.8" height="136.4" rx="5" fill="#fff" fill-opacity="0.8" stroke="#d0d0d0" stroke-width="1.8"/>
<circle cx="1498.2" cy="269.9" r="6" fill="#0000ff" fill-opacity="0.2" stroke="#0000ff" stroke-opacity="0.25" stroke-width="1.4"/>
<path d="M1498.2 318.4l6.3 -12.3h-12.6z" fill="#008000" fill-opacity="0.2" stroke="#008000" stroke-opacity="0.25" stroke-width="1.4"/>
<rect x="1492.1" y="349.1" width="12.2" height="12.2" fill="#ff0000" fill-opacity="0.2" stroke="#ff0000" stroke-opacity="0.25" stroke-width="1.4"/>
<g class="dj" font-size="29"><text x="1550" y="277.4">x-direction</text><text x="1550" y="319.9">y-direction</text><text x="1550" y="362.4">z-direction</text></g>
</g>
<g id="bars">
<g stroke="#cfcfcf" stroke-width="1.1" stroke-dasharray="3.9 2.4"><line x1="1515.6" y1="886.5" x2="1515.6" y2="1313.3"/><line x1="1564.6" y1="886.5" x2="1564.6" y2="1313.3"/><line x1="1613.6" y1="886.5" x2="1613.6" y2="1313.3"/><line x1="1662.6" y1="886.5" x2="1662.6" y2="1313.3"/><line x1="1711.6" y1="886.5" x2="1711.6" y2="1313.3"/><line x1="1760.6" y1="886.5" x2="1760.6" y2="1313.3"/><line x1="1809.6" y1="886.5" x2="1809.6" y2="1313.3"/><line x1="1858.6" y1="886.5" x2="1858.6" y2="1313.3"/><line x1="1907.6" y1="886.5" x2="1907.6" y2="1313.3"/></g>
<g stroke="#000" stroke-width="2.2"><line x1="1442.3" y1="1292" x2="1452.3" y2="1292"/><line x1="1981.8" y1="1292" x2="1971.8" y2="1292"/><line x1="1442.3" y1="1270.6" x2="1452.3" y2="1270.6"/><line x1="1981.8" y1="1270.6" x2="1971.8" y2="1270.6"/><line x1="1442.3" y1="1249.3" x2="1452.3" y2="1249.3"/><line x1="1981.8" y1="1249.3" x2="1971.8" y2="1249.3"/><line x1="1442.3" y1="1227.9" x2="1452.3" y2="1227.9"/><line x1="1981.8" y1="1227.9" x2="1971.8" y2="1227.9"/><line x1="1442.3" y1="1206.6" x2="1461.8" y2="1206.6"/><line x1="1981.8" y1="1206.6" x2="1962.3" y2="1206.6"/><line x1="1442.3" y1="1185.3" x2="1452.3" y2="1185.3"/><line x1="1981.8" y1="1185.3" x2="1971.8" y2="1185.3"/><line x1="1442.3" y1="1163.9" x2="1452.3" y2="1163.9"/><line x1="1981.8" y1="1163.9" x2="1971.8" y2="1163.9"/><line x1="1442.3" y1="1142.6" x2="1452.3" y2="1142.6"/><line x1="1981.8" y1="1142.6" x2="1971.8" y2="1142.6"/><line x1="1442.3" y1="1121.2" x2="1452.3" y2="1121.2"/><line x1="1981.8" y1="1121.2" x2="1971.8" y2="1121.2"/><line x1="1442.3" y1="1099.9" x2="1461.8" y2="1099.9"/><line x1="1981.8" y1="1099.9" x2="1962.3" y2="1099.9"/><line x1="1442.3" y1="1078.6" x2="1452.3" y2="1078.6"/><line x1="1981.8" y1="1078.6" x2="1971.8" y2="1078.6"/><line x1="1442.3" y1="1057.2" x2="1452.3" y2="1057.2"/><line x1="1981.8" y1="1057.2" x2="1971.8" y2="1057.2"/><line x1="1442.3" y1="1035.9" x2="1452.3" y2="1035.9"/><line x1="1981.8" y1="1035.9" x2="1971.8" y2="1035.9"/><line x1="1442.3" y1="1014.5" x2="1452.3" y2="1014.5"/><line x1="1981.8" y1="1014.5" x2="1971.8" y2="1014.5"/><line x1="1442.3" y1="993.2" x2="1461.8" y2="993.2"/><line x1="1981.8" y1="993.2" x2="1962.3" y2="993.2"/><line x1="1442.3" y1="971.9" x2="1452.3" y2="971.9"/><line x1="1981.8" y1="971.9" x2="1971.8" y2="971.9"/><line x1="1442.3" y1="950.5" x2="1452.3" y2="950.5"/><line x1="1981.8" y1="950.5" x2="1971.8" y2="950.5"/><line x1="1442.3" y1="929.2" x2="1452.3" y2="929.2"/><line x1="1981.8" y1="929.2" x2="1971.8" y2="929.2"/><line x1="1442.3" y1="907.8" x2="1452.3" y2="907.8"/><line x1="1981.8" y1="907.8" x2="1971.8" y2="907.8"/><line x1="1491.1" y1="886.5" x2="1491.1" y2="906"/><line x1="1491.1" y1="1313.3" x2="1491.1" y2="1293.8"/><line x1="1540.1" y1="886.5" x2="1540.1" y2="906"/><line x1="1540.1" y1="1313.3" x2="1540.1" y2="1293.8"/><line x1="1589.1" y1="886.5" x2="1589.1" y2="906"/><line x1="1589.1" y1="1313.3" x2="1589.1" y2="1293.8"/><line x1="1638.1" y1="886.5" x2="1638.1" y2="906"/><line x1="1638.1" y1="1313.3" x2="1638.1" y2="1293.8"/><line x1="1687.1" y1="886.5" x2="1687.1" y2="906"/><line x1="1687.1" y1="1313.3" x2="1687.1" y2="1293.8"/><line x1="1736.1" y1="886.5" x2="1736.1" y2="906"/><line x1="1736.1" y1="1313.3" x2="1736.1" y2="1293.8"/><line x1="1785.1" y1="886.5" x2="1785.1" y2="906"/><line x1="1785.1" y1="1313.3" x2="1785.1" y2="1293.8"/><line x1="1834.1" y1="886.5" x2="1834.1" y2="906"/><line x1="1834.1" y1="1313.3" x2="1834.1" y2="1293.8"/><line x1="1883.1" y1="886.5" x2="1883.1" y2="906"/><line x1="1883.1" y1="1313.3" x2="1883.1" y2="1293.8"/><line x1="1932.1" y1="886.5" x2="1932.1" y2="906"/><line x1="1932.1" y1="1313.3" x2="1932.1" y2="1293.8"/></g>
<rect x="1473.3" y="1131.2" width="35.6" height="182.1" fill="#ffa500"/>
<rect x="1522.3" y="1165" width="35.6" height="148.3" fill="#ffa500"/>
<rect x="1571.3" y="1181.3" width="35.6" height="132" fill="#ffa500"/>
<rect x="1620.3" y="1206.2" width="35.6" height="107.1" fill="#ffa500"/>
<rect x="1669.3" y="1170.7" width="35.6" height="142.6" fill="#ffa500"/>
<rect x="1718.3" y="1305.8" width="35.6" height="7.5" fill="#ffa500"/>
<rect x="1767.3" y="1035.2" width="35.6" height="278.1" fill="#add8e6"/>
<rect x="1816.3" y="1081.8" width="35.6" height="231.5" fill="#add8e6"/>
<rect x="1865.3" y="1091.7" width="35.6" height="221.6" fill="#add8e6"/>
<rect x="1914.3" y="1270.3" width="35.6" height="43" fill="#add8e6"/>
<rect x="1442.3" y="886.5" width="539.5" height="426.8" fill="none" stroke="#000" stroke-width="4.4"/>
<g class="rg" font-size="39" text-anchor="end"><text x="1429.5" y="1324.8">0.0</text><text x="1429.5" y="1218">0.3</text><text x="1429.5" y="1111">0.6</text><text x="1429.5" y="1004.2">0.9</text><text x="1429.5" y="896.7">1.2</text></g>
<text transform="translate(1348.9 1098.3) rotate(-90)" text-anchor="middle" class="rg" font-size="45.8">ZT value</text>
<text transform="translate(1502.5 1087.6) rotate(-90)" class="rg" font-size="40.5">This work</text>
<text x="1592" y="981" class="bd" font-size="56" fill="#ff0000">RT: 300K</text>
<g class="rg" font-size="38" text-anchor="end"><text transform="translate(1505.6 1325) rotate(-90)">InP<tspan font-size="30.8" dy="11">5</tspan></text><text transform="translate(1558.4 1325) rotate(-90)">WSTe</text><text transform="translate(1604.5 1325) rotate(-90)">InP<tspan font-size="30.8" dy="11">3</tspan></text><text transform="translate(1656.7 1325) rotate(-90)">PbTe</text><text transform="translate(1705.7 1325) rotate(-90)">Antimonene</text><text transform="translate(1754.7 1325) rotate(-90)">SiGe</text><text transform="translate(1799.9 1325) rotate(-90)">Bi<tspan font-size="30.8" dy="11">2</tspan><tspan dy="-11">Te</tspan><tspan font-size="30.8" dy="11">2.7</tspan><tspan dy="-11">Se</tspan><tspan font-size="30.8" dy="11">0.3</tspan><tspan dy="-11">:Cu</tspan></text><text transform="translate(1848.7 1325) rotate(-90)">Ag<tspan font-size="30.8" dy="11">2</tspan><tspan dy="-11">Se</tspan></text><text transform="translate(1901.8 1325) rotate(-90)">PbSe-based</text><text transform="translate(1950.4 1325) rotate(-90)">SnSe</text></g>
<rect x="2002.6" y="910.2" width="46.4" height="47.6" fill="#ff9900"/>
<rect x="2002.6" y="999" width="47.4" height="47" fill="#bee4f5"/>
<text x="2051.9" y="943.9" class="rg" font-size="41">Theory</text>
<text x="2054.2" y="1034.9" class="rg" font-size="41">Experiment</text>
</g>
</svg>
</body></html>
